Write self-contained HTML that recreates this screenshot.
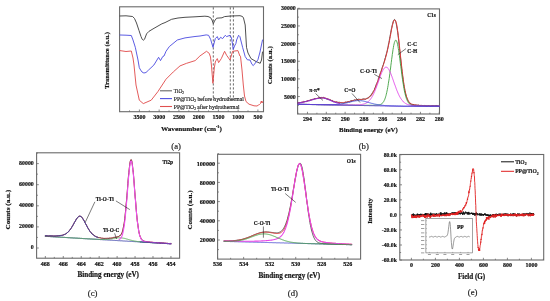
<!DOCTYPE html>
<html><head><meta charset="utf-8"><style>
html,body{margin:0;padding:0;background:#fff;}
body{width:550px;height:301px;overflow:hidden;font-family:"Liberation Serif", serif;}
svg{display:block;will-change:transform;filter:blur(0.3px);}
</style></head><body>
<svg width="550" height="301" viewBox="0 0 550 301">
<rect width="550" height="301" fill="#fff"/>
<rect x="119.60" y="6.80" width="143.90" height="104.90" fill="none" stroke="#6a6a6a" stroke-width="1.1"/>
<path d="M139.40,111.70 v-2.20 M159.15,111.70 v-2.20 M178.90,111.70 v-2.20 M198.65,111.70 v-2.20 M218.40,111.70 v-2.20 M238.15,111.70 v-2.20 M257.90,111.70 v-2.20 M129.53,111.70 v-1.30 M149.28,111.70 v-1.30 M169.03,111.70 v-1.30 M188.78,111.70 v-1.30 M208.53,111.70 v-1.30 M228.28,111.70 v-1.30 M248.03,111.70 v-1.30" stroke="#6a6a6a" stroke-width="0.8" fill="none"/>
<text x="139.40" y="119.20" font-size="6" text-anchor="middle" font-weight="bold" fill="#111" stroke="#111" stroke-width="0.18" font-family="'Liberation Serif', serif" >3500</text>
<text x="159.15" y="119.20" font-size="6" text-anchor="middle" font-weight="bold" fill="#111" stroke="#111" stroke-width="0.18" font-family="'Liberation Serif', serif" >3000</text>
<text x="178.90" y="119.20" font-size="6" text-anchor="middle" font-weight="bold" fill="#111" stroke="#111" stroke-width="0.18" font-family="'Liberation Serif', serif" >2500</text>
<text x="198.65" y="119.20" font-size="6" text-anchor="middle" font-weight="bold" fill="#111" stroke="#111" stroke-width="0.18" font-family="'Liberation Serif', serif" >2000</text>
<text x="218.40" y="119.20" font-size="6" text-anchor="middle" font-weight="bold" fill="#111" stroke="#111" stroke-width="0.18" font-family="'Liberation Serif', serif" >1500</text>
<text x="238.15" y="119.20" font-size="6" text-anchor="middle" font-weight="bold" fill="#111" stroke="#111" stroke-width="0.18" font-family="'Liberation Serif', serif" >1000</text>
<text x="257.90" y="119.20" font-size="6" text-anchor="middle" font-weight="bold" fill="#111" stroke="#111" stroke-width="0.18" font-family="'Liberation Serif', serif" >500</text>
<text x="160.90" y="130.60" font-size="7.1" text-anchor="start" font-weight="bold" fill="#111" stroke="#111" stroke-width="0.18" font-family="'Liberation Serif', serif" textLength="61.0" lengthAdjust="spacingAndGlyphs">Wavenumber (cm<tspan dy="-2.4" font-size="4.2">-1</tspan><tspan dy="2.4">)</tspan></text>
<text x="0" y="0" transform="translate(109.40,60.40) rotate(-90)" font-size="6.9" text-anchor="middle" font-weight="bold" fill="#111" stroke="#111" stroke-width="0.18" font-family="'Liberation Serif', serif" textLength="56.6" lengthAdjust="spacingAndGlyphs">Transmittance (a.u.)</text>
<line x1="213.30" y1="7.30" x2="213.30" y2="100" stroke="#444" stroke-width="0.8" stroke-dasharray="2.2,1.8"/>
<line x1="230.30" y1="7.30" x2="230.30" y2="100" stroke="#444" stroke-width="0.8" stroke-dasharray="2.2,1.8"/>
<line x1="233.40" y1="7.30" x2="233.40" y2="100" stroke="#444" stroke-width="0.8" stroke-dasharray="2.2,1.8"/>
<path d="M120.0,16.0 L126.0,15.8 L132.6,16.5 L134.5,18.5 L136.5,23.0 L139.0,30.5 L141.0,36.5 L142.2,39.3 L143.3,40.2 L144.5,39.3 L146.6,33.8 L149.0,31.3 L153.0,28.9 L157.0,26.6 L161.9,23.8 L165.0,22.6 L171.6,19.3 L178.0,18.0 L185.0,17.3 L195.0,16.8 L204.9,16.2 L208.0,16.5 L210.6,17.7 L212.0,20.0 L213.3,23.7 L214.5,21.0 L216.6,18.2 L222.0,17.8 L224.5,16.6 L230.6,16.0 L240.0,15.7 L242.5,16.5 L243.5,18.0 L245.2,25.0 L246.5,47.3 L248.0,53.0 L251.0,58.6 L256.0,61.5 L260.2,63.3 L261.5,60.0 L262.5,52.0" fill="none" stroke="#3a3a3a" stroke-width="0.9" stroke-linejoin="round" stroke-linecap="round" />
<path d="M120.0,35.0 L126.0,35.2 L131.3,35.5 L133.0,40.0 L135.3,47.3 L138.0,60.0 L139.3,67.7 L140.6,70.0 L142.0,72.0 L143.9,73.0 L146.0,72.5 L148.6,70.0 L153.9,65.0 L158.6,57.3 L160.5,60.6 L162.7,56.6 L164.0,56.0 L166.0,51.3 L169.3,46.6 L177.3,40.0 L185.0,37.9 L195.0,36.5 L200.0,36.0 L206.2,34.9 L208.6,35.3 L210.6,39.3 L213.0,47.3 L215.3,38.6 L217.3,36.6 L218.6,40.0 L220.6,37.3 L222.6,38.6 L225.3,35.3 L226.6,36.6 L230.0,35.3 L231.5,38.0 L232.5,44.0 L233.2,49.5 L234.5,46.0 L235.9,43.5 L236.6,40.0 L238.6,35.3 L239.9,36.6 L242.6,47.3 L245.2,56.6 L247.4,59.8 L250.0,60.0 L252.0,64.4 L253.3,65.6 L257.9,59.8 L260.0,52.0 L262.5,40.0" fill="none" stroke="#4a4ae0" stroke-width="0.9" stroke-linejoin="round" stroke-linecap="round" />
<path d="M120.0,50.6 L126.0,51.5 L131.3,51.0 L133.0,58.0 L134.0,65.0 L136.0,85.0 L139.3,100.2 L143.3,103.6 L151.2,100.2 L157.9,91.6 L166.0,79.2 L173.3,71.9 L180.0,65.9 L186.6,63.3 L195.2,60.6 L199.9,56.0 L206.5,51.3 L209.2,53.3 L210.5,57.0 L211.5,66.0 L212.9,83.3 L214.3,68.0 L215.3,62.0 L216.0,60.6 L217.3,58.6 L218.6,62.6 L221.3,58.6 L224.6,51.3 L226.6,55.3 L230.0,60.0 L232.6,51.3 L237.9,50.6 L239.9,56.0 L240.5,56.3 L242.0,70.0 L243.3,85.0 L244.5,96.0 L246.0,101.5 L249.0,104.2 L254.0,105.8 L257.0,106.0 L258.5,105.0 L259.5,104.5 L260.5,103.5 L261.3,101.0 L262.0,103.0 L262.8,101.5" fill="none" stroke="#e04848" stroke-width="0.9" stroke-linejoin="round" stroke-linecap="round" />
<line x1="160" y1="90.8" x2="172" y2="90.8" stroke="#666" stroke-width="1.1"/>
<line x1="160" y1="98.6" x2="172" y2="98.6" stroke="#5050e0" stroke-width="1.1"/>
<line x1="160" y1="106.5" x2="172" y2="106.5" stroke="#e05050" stroke-width="1.1"/>
<text x="173.80" y="92.70" font-size="6.1" text-anchor="start" font-weight="normal" fill="#222" stroke="#222" stroke-width="0.18" font-family="'Liberation Serif', serif" textLength="10.2" lengthAdjust="spacingAndGlyphs">TiO<tspan dy="1.5" font-size="3.9">2</tspan><tspan dy="-1.5"></tspan></text>
<text x="173.80" y="100.60" font-size="6.1" text-anchor="start" font-weight="normal" fill="#222" stroke="#222" stroke-width="0.18" font-family="'Liberation Serif', serif" textLength="70.0" lengthAdjust="spacingAndGlyphs">PP@TiO<tspan dy="1.5" font-size="3.9">2</tspan><tspan dy="-1.5"> before hydrothermal</tspan></text>
<text x="173.80" y="108.60" font-size="6.1" text-anchor="start" font-weight="normal" fill="#222" stroke="#222" stroke-width="0.18" font-family="'Liberation Serif', serif" textLength="65.7" lengthAdjust="spacingAndGlyphs">PP@TiO<tspan dy="1.5" font-size="3.9">2</tspan><tspan dy="-1.5"> after hydrothermal</tspan></text>
<text x="176.10" y="148.90" font-size="8.7" text-anchor="middle" font-weight="normal" fill="#222" stroke="#222" stroke-width="0.18" font-family="'Liberation Serif', serif" >(a)</text>
<rect x="297.60" y="8.90" width="141.90" height="105.10" fill="none" stroke="#6a6a6a" stroke-width="1.1"/>
<path d="M307.48,114.00 v-2.20 M326.31,114.00 v-2.20 M345.14,114.00 v-2.20 M363.97,114.00 v-2.20 M382.80,114.00 v-2.20 M401.62,114.00 v-2.20 M420.45,114.00 v-2.20 M439.28,114.00 v-2.20 M298.07,114.00 v-1.30 M316.90,114.00 v-1.30 M335.73,114.00 v-1.30 M354.55,114.00 v-1.30 M373.38,114.00 v-1.30 M392.21,114.00 v-1.30 M411.04,114.00 v-1.30 M429.87,114.00 v-1.30" stroke="#6a6a6a" stroke-width="0.8" fill="none"/>
<text x="307.48" y="121.10" font-size="6" text-anchor="middle" font-weight="bold" fill="#111" stroke="#111" stroke-width="0.18" font-family="'Liberation Serif', serif" >294</text>
<text x="326.31" y="121.10" font-size="6" text-anchor="middle" font-weight="bold" fill="#111" stroke="#111" stroke-width="0.18" font-family="'Liberation Serif', serif" >292</text>
<text x="345.14" y="121.10" font-size="6" text-anchor="middle" font-weight="bold" fill="#111" stroke="#111" stroke-width="0.18" font-family="'Liberation Serif', serif" >290</text>
<text x="363.97" y="121.10" font-size="6" text-anchor="middle" font-weight="bold" fill="#111" stroke="#111" stroke-width="0.18" font-family="'Liberation Serif', serif" >288</text>
<text x="382.80" y="121.10" font-size="6" text-anchor="middle" font-weight="bold" fill="#111" stroke="#111" stroke-width="0.18" font-family="'Liberation Serif', serif" >286</text>
<text x="401.62" y="121.10" font-size="6" text-anchor="middle" font-weight="bold" fill="#111" stroke="#111" stroke-width="0.18" font-family="'Liberation Serif', serif" >284</text>
<text x="420.45" y="121.10" font-size="6" text-anchor="middle" font-weight="bold" fill="#111" stroke="#111" stroke-width="0.18" font-family="'Liberation Serif', serif" >282</text>
<text x="439.28" y="121.10" font-size="6" text-anchor="middle" font-weight="bold" fill="#111" stroke="#111" stroke-width="0.18" font-family="'Liberation Serif', serif" >280</text>
<path d="M297.60,96.55 h2.20 M297.60,78.90 h2.20 M297.60,61.25 h2.20 M297.60,43.60 h2.20 M297.60,25.95 h2.20 M297.60,8.30 h2.20 M297.60,105.38 h1.30 M297.60,87.72 h1.30 M297.60,70.08 h1.30 M297.60,52.42 h1.30 M297.60,34.78 h1.30 M297.60,17.12 h1.30" stroke="#6a6a6a" stroke-width="0.8" fill="none"/>
<text x="295.80" y="98.55" font-size="5.9" text-anchor="end" font-weight="bold" fill="#111" stroke="#111" stroke-width="0.18" font-family="'Liberation Serif', serif" >5000</text>
<text x="295.80" y="80.90" font-size="5.9" text-anchor="end" font-weight="bold" fill="#111" stroke="#111" stroke-width="0.18" font-family="'Liberation Serif', serif" >10000</text>
<text x="295.80" y="63.25" font-size="5.9" text-anchor="end" font-weight="bold" fill="#111" stroke="#111" stroke-width="0.18" font-family="'Liberation Serif', serif" >15000</text>
<text x="295.80" y="45.60" font-size="5.9" text-anchor="end" font-weight="bold" fill="#111" stroke="#111" stroke-width="0.18" font-family="'Liberation Serif', serif" >20000</text>
<text x="295.80" y="27.95" font-size="5.9" text-anchor="end" font-weight="bold" fill="#111" stroke="#111" stroke-width="0.18" font-family="'Liberation Serif', serif" >25000</text>
<text x="295.80" y="10.30" font-size="5.9" text-anchor="end" font-weight="bold" fill="#111" stroke="#111" stroke-width="0.18" font-family="'Liberation Serif', serif" >30000</text>
<text x="339.10" y="132.10" font-size="7.1" text-anchor="start" font-weight="bold" fill="#111" stroke="#111" stroke-width="0.18" font-family="'Liberation Serif', serif" textLength="58.6" lengthAdjust="spacingAndGlyphs">Binding energy (eV)</text>
<text x="0" y="0" transform="translate(272.40,65.30) rotate(-90)" font-size="7.1" text-anchor="middle" font-weight="bold" fill="#111" stroke="#111" stroke-width="0.18" font-family="'Liberation Serif', serif" textLength="38.0" lengthAdjust="spacingAndGlyphs">Counts (a.u.)</text>
<text x="363.80" y="148.70" font-size="8.7" text-anchor="middle" font-weight="normal" fill="#222" stroke="#222" stroke-width="0.18" font-family="'Liberation Serif', serif" >(b)</text>
<path d="M297.8,103.1 L298.2,103.2 L298.5,102.6 L298.9,103.2 L299.2,102.6 L299.6,102.8 L299.9,103.0 L300.3,102.5 L300.6,102.9 L301.0,102.4 L301.4,102.8 L301.7,102.7 L302.1,102.3 L302.4,101.8 L302.8,102.4 L303.1,102.2 L303.5,101.7 L303.8,101.3 L304.2,101.6 L304.5,101.7 L304.9,101.0 L305.2,101.9 L305.6,101.0 L305.9,101.5 L306.3,101.6 L306.6,101.5 L307.0,101.2 L307.4,100.6 L307.7,101.2 L308.1,100.6 L308.4,100.5 L308.8,100.7 L309.1,100.4 L309.5,100.8 L309.8,100.7 L310.2,100.4 L310.5,99.8 L310.9,100.0 L311.2,100.0 L311.6,99.6 L311.9,99.7 L312.3,99.7 L312.6,99.1 L313.0,99.1 L313.4,99.5 L313.7,99.0 L314.1,99.0 L314.4,98.5 L314.8,98.6 L315.1,99.0 L315.5,98.2 L315.8,99.0 L316.2,98.6 L316.5,98.1 L316.9,98.7 L317.2,98.3 L317.6,98.7 L317.9,98.0 L318.3,97.8 L318.6,97.9 L319.0,97.6 L319.4,98.1 L319.7,97.7 L320.1,97.7 L320.4,97.7 L320.8,97.8 L321.1,97.4 L321.5,97.3 L321.8,97.8 L322.2,97.6 L322.5,98.2 L322.9,97.6 L323.2,97.6 L323.6,97.3 L323.9,97.5 L324.3,98.2 L324.7,98.1 L325.0,97.9 L325.4,98.7 L325.7,98.3 L326.1,98.7 L326.4,98.9 L326.8,99.1 L327.1,98.5 L327.5,99.3 L327.8,99.3 L328.2,99.3 L328.5,98.9 L328.9,99.9 L329.2,99.7 L329.6,99.7 L329.9,99.5 L330.3,99.7 L330.7,99.8 L331.0,100.6 L331.4,100.6 L331.7,100.8 L332.1,100.4 L332.4,100.4 L332.8,101.4 L333.1,101.5 L333.5,101.6 L333.8,101.7 L334.2,101.5 L334.5,101.5 L334.9,102.0 L335.2,102.4 L335.6,102.0 L335.9,102.2 L336.3,102.0 L336.7,101.7 L337.0,102.0 L337.4,102.3 L337.7,102.2 L338.1,102.2 L338.4,102.9 L338.8,102.1 L339.1,102.2 L339.5,102.2 L339.8,102.3 L340.2,102.7 L340.5,102.7 L340.9,103.0 L341.2,102.5 L341.6,103.1 L341.9,103.1 L342.3,102.9 L342.7,102.9 L343.0,102.7 L343.4,103.0 L343.7,103.0 L344.1,102.8 L344.4,102.8 L344.8,102.5 L345.1,102.8 L345.5,101.8 L345.8,102.0 L346.2,102.5 L346.5,102.3 L346.9,102.1 L347.2,102.0 L347.6,102.2 L348.0,101.4 L348.3,101.1 L348.7,101.6 L349.0,101.5 L349.4,101.8 L349.7,101.7 L350.1,101.4 L350.4,101.4 L350.8,100.7 L351.1,101.3 L351.5,101.4 L351.8,100.3 L352.2,100.7 L352.5,101.0 L352.9,100.5 L353.2,100.9 L353.6,100.3 L354.0,99.8 L354.3,99.8 L354.7,99.9 L355.0,100.3 L355.4,100.1 L355.7,100.3 L356.1,99.6 L356.4,99.8 L356.8,99.5 L357.1,99.9 L357.5,100.0 L357.8,99.3 L358.2,99.1 L358.5,99.2 L358.9,99.2 L359.2,99.2 L359.6,99.2 L360.0,99.7 L360.3,99.4 L360.7,99.6 L361.0,99.9 L361.4,99.9 L361.7,99.6 L362.1,99.6 L362.4,99.1 L362.8,98.8 L363.1,99.4 L363.5,98.8 L363.8,98.7 L364.2,98.7 L364.5,99.3 L364.9,99.4 L365.2,99.3 L365.6,99.3 L366.0,99.2 L366.3,98.6 L366.7,98.2 L367.0,98.1 L367.4,98.3 L367.7,97.9 L368.1,97.6 L368.4,98.1 L368.8,97.2 L369.1,96.7 L369.5,96.5 L369.8,96.2 L370.2,96.2 L370.5,96.1 L370.9,95.0 L371.2,95.0 L371.6,94.0 L372.0,93.3 L372.3,93.4 L372.7,92.8 L373.0,91.6 L373.4,91.2 L373.7,91.1 L374.1,90.4 L374.4,89.6 L374.8,88.0 L375.1,87.3 L375.5,87.1 L375.8,85.5 L376.2,84.5 L376.5,83.9 L376.9,83.3 L377.3,82.1 L377.6,81.6 L378.0,80.7 L378.3,78.7 L378.7,78.0 L379.0,77.1 L379.4,75.6 L379.7,75.1 L380.1,73.6 L380.4,72.6 L380.8,72.2 L381.1,71.1 L381.5,70.0 L381.8,69.0 L382.2,67.6 L382.5,66.9 L382.9,65.6 L383.3,64.9 L383.6,63.0 L384.0,62.4 L384.3,61.2 L384.7,59.9 L385.0,58.4 L385.4,57.7 L385.7,55.9 L386.1,55.0 L386.4,53.6 L386.8,52.2 L387.1,51.2 L387.5,49.2 L387.8,47.8 L388.2,46.3 L388.5,43.8 L388.9,42.6 L389.3,40.4 L389.6,38.3 L390.0,36.6 L390.3,34.9 L390.7,32.8 L391.0,30.9 L391.4,28.8 L391.7,27.8 L392.1,25.7 L392.4,24.6 L392.8,23.2 L393.1,21.6 L393.5,21.0 L393.8,20.3 L394.2,19.7 L394.5,19.4 L394.9,20.1 L395.3,20.5 L395.6,21.5 L396.0,22.7 L396.3,24.0 L396.7,26.1 L397.0,28.1 L397.4,30.5 L397.7,32.6 L398.1,35.7 L398.4,38.4 L398.8,41.5 L399.1,45.5 L399.5,48.4 L399.8,51.4 L400.2,54.9 L400.6,59.0 L400.9,62.3 L401.3,65.2 L401.6,68.7 L402.0,71.6 L402.3,74.7 L402.7,76.8 L403.0,79.3 L403.4,81.7 L403.7,84.8 L404.1,86.3 L404.4,88.4 L404.8,90.7 L405.1,91.6 L405.5,93.1 L405.8,95.2 L406.2,95.7 L406.6,97.4 L406.9,98.3 L407.3,98.6 L407.6,99.6 L408.0,101.0 L408.3,101.3 L408.7,101.7 L409.0,102.4 L409.4,102.9 L409.7,103.2 L410.1,103.0 L410.4,104.0 L410.8,103.7 L411.1,104.0 L411.5,104.6 L411.8,104.4 L412.2,104.3 L412.6,104.5 L412.9,105.1 L413.3,104.2 L413.6,104.5 L414.0,104.3 L414.3,105.3 L414.7,105.2 L415.0,105.5 L415.4,104.7 L415.7,105.3 L416.1,105.5 L416.4,105.2 L416.8,104.7 L417.1,104.9 L417.5,105.5 L417.8,105.6 L418.2,104.8 L418.6,105.2 L418.9,105.1 L419.3,105.8 L419.6,105.8 L420.0,105.2 L420.3,105.5 L420.7,105.9 L421.0,105.0 L421.4,105.3 L421.7,105.2 L422.1,105.9 L422.4,105.1 L422.8,106.0 L423.1,105.2 L423.5,105.6 L423.9,105.7 L424.2,105.5 L424.6,105.1 L424.9,105.9 L425.3,106.0 L425.6,105.6 L426.0,105.9 L426.3,106.1 L426.7,106.0 L427.0,106.2 L427.4,106.0 L427.7,105.9 L428.1,105.9 L428.4,105.4 L428.8,106.0 L429.1,105.7 L429.5,106.1 L429.9,105.9 L430.2,106.3 L430.6,106.0 L430.9,106.3 L431.3,105.5 L431.6,105.7 L432.0,106.1 L432.3,105.8 L432.7,105.4 L433.0,106.2 L433.4,105.5 L433.7,105.9 L434.1,105.8 L434.4,105.5 L434.8,106.0 L435.1,105.8 L435.5,105.7 L435.9,105.4 L436.2,106.0 L436.6,105.5 L436.9,105.7 L437.3,105.7 L437.6,106.0 L438.0,106.1 L438.3,106.4 L438.7,106.3 L439.0,106.4" fill="none" stroke="#333" stroke-width="0.8" stroke-linejoin="round" stroke-linecap="round" />
<path d="M298.1,102.9 L298.4,102.8 L298.8,102.8 L299.1,102.7 L299.5,102.7 L299.8,102.6 L300.2,102.6 L300.5,102.5 L300.9,102.4 L301.2,102.4 L301.6,102.3 L302.0,102.2 L302.3,102.2 L302.7,102.1 L303.0,102.0 L303.4,102.0 L303.7,101.9 L304.1,101.8 L304.4,101.7 L304.8,101.6 L305.1,101.6 L305.5,101.5 L305.8,101.4 L306.2,101.3 L306.5,101.2 L306.9,101.1 L307.2,101.0 L307.6,100.9 L308.0,100.8 L308.3,100.7 L308.7,100.6 L309.0,100.5 L309.4,100.4 L309.7,100.3 L310.1,100.2 L310.4,100.1 L310.8,100.0 L311.1,99.9 L311.5,99.8 L311.8,99.7 L312.2,99.6 L312.5,99.5 L312.9,99.4 L313.3,99.3 L313.6,99.2 L314.0,99.1 L314.3,99.0 L314.7,98.9 L315.0,98.8 L315.4,98.7 L315.7,98.7 L316.1,98.6 L316.4,98.5 L316.8,98.4 L317.1,98.3 L317.5,98.3 L317.8,98.2 L318.2,98.1 L318.5,98.1 L318.9,98.0 L319.3,98.0 L319.6,97.9 L320.0,97.9 L320.3,97.8 L320.7,97.8 L321.0,97.8 L321.4,97.8 L321.7,97.8 L322.1,97.8 L322.4,97.7 L322.8,97.8 L323.1,97.8 L323.5,97.8 L323.8,97.8 L324.2,97.9 L324.5,97.9 L324.9,98.0 L325.3,98.1 L325.6,98.2 L326.0,98.3 L326.3,98.4 L326.7,98.5 L327.0,98.6 L327.4,98.8 L327.7,98.9 L328.1,99.0 L328.4,99.2 L328.8,99.3 L329.1,99.5 L329.5,99.6 L329.8,99.8 L330.2,99.9 L330.5,100.0 L330.9,100.2 L331.3,100.3 L331.6,100.5 L332.0,100.6 L332.3,100.8 L332.7,100.9 L333.0,101.0 L333.4,101.2 L333.7,101.3 L334.1,101.4 L334.4,101.5 L334.8,101.6 L335.1,101.7 L335.5,101.8 L335.8,101.9 L336.2,102.0 L336.6,102.1 L336.9,102.2 L337.3,102.2 L337.6,102.3 L338.0,102.4 L338.3,102.4 L338.7,102.5 L339.0,102.5 L339.4,102.5 L339.7,102.6 L340.1,102.6 L340.4,102.6 L340.8,102.6 L341.1,102.6 L341.5,102.6 L341.8,102.6 L342.2,102.6 L342.6,102.6 L342.9,102.6 L343.3,102.5 L343.6,102.5 L344.0,102.5 L344.3,102.4 L344.7,102.4 L345.0,102.3 L345.4,102.3 L345.7,102.2 L346.1,102.2 L346.4,102.1 L346.8,102.0 L347.1,102.0 L347.5,101.9 L347.8,101.8 L348.2,101.7 L348.6,101.6 L348.9,101.6 L349.3,101.5 L349.6,101.4 L350.0,101.3 L350.3,101.2 L350.7,101.1 L351.0,101.0 L351.4,101.0 L351.7,100.9 L352.1,100.8 L352.4,100.7 L352.8,100.6 L353.1,100.5 L353.5,100.4 L353.8,100.4 L354.2,100.3 L354.6,100.2 L354.9,100.1 L355.3,100.1 L355.6,100.0 L356.0,99.9 L356.3,99.9 L356.7,99.8 L357.0,99.8 L357.4,99.7 L357.7,99.7 L358.1,99.6 L358.4,99.6 L358.8,99.6 L359.1,99.5 L359.5,99.5 L359.9,99.5 L360.2,99.5 L360.6,99.4 L360.9,99.4 L361.3,99.4 L361.6,99.4 L362.0,99.4 L362.3,99.4 L362.7,99.3 L363.0,99.3 L363.4,99.3 L363.7,99.3 L364.1,99.2 L364.4,99.2 L364.8,99.1 L365.1,99.1 L365.5,99.0 L365.9,98.9 L366.2,98.8 L366.6,98.7 L366.9,98.6 L367.3,98.5 L367.6,98.3 L368.0,98.1 L368.3,97.9 L368.7,97.7 L369.0,97.4 L369.4,97.1 L369.7,96.8 L370.1,96.5 L370.4,96.1 L370.8,95.7 L371.1,95.3 L371.5,94.9 L371.9,94.4 L372.2,93.8 L372.6,93.3 L372.9,92.7 L373.3,92.1 L373.6,91.4 L374.0,90.7 L374.3,90.0 L374.7,89.2 L375.0,88.4 L375.4,87.6 L375.7,86.8 L376.1,85.9 L376.4,85.0 L376.8,84.1 L377.1,83.1 L377.5,82.1 L377.9,81.2 L378.2,80.2 L378.6,79.2 L378.9,78.1 L379.3,77.1 L379.6,76.1 L380.0,75.0 L380.3,74.0 L380.7,72.9 L381.0,71.9 L381.4,70.8 L381.7,69.8 L382.1,68.7 L382.4,67.7 L382.8,66.6 L383.1,65.6 L383.5,64.5 L383.9,63.4 L384.2,62.3 L384.6,61.2 L384.9,60.0 L385.3,58.8 L385.6,57.6 L386.0,56.3 L386.3,55.0 L386.7,53.6 L387.0,52.2 L387.4,50.7 L387.7,49.1 L388.1,47.5 L388.4,45.8 L388.8,44.1 L389.2,42.3 L389.5,40.4 L389.9,38.5 L390.2,36.6 L390.6,34.7 L390.9,32.8 L391.3,30.9 L391.6,29.1 L392.0,27.4 L392.3,25.8 L392.7,24.3 L393.0,23.0 L393.4,21.9 L393.7,21.0 L394.1,20.3 L394.4,20.0 L394.8,19.9 L395.2,20.1 L395.5,20.6 L395.9,21.5 L396.2,22.7 L396.6,24.2 L396.9,26.0 L397.3,28.1 L397.6,30.5 L398.0,33.1 L398.3,35.9 L398.7,38.8 L399.0,42.0 L399.4,45.2 L399.7,48.5 L400.1,51.9 L400.4,55.2 L400.8,58.6 L401.2,61.9 L401.5,65.1 L401.9,68.3 L402.2,71.3 L402.6,74.2 L402.9,77.0 L403.3,79.6 L403.6,82.1 L404.0,84.4 L404.3,86.6 L404.7,88.5 L405.0,90.4 L405.4,92.0 L405.7,93.6 L406.1,94.9 L406.4,96.2 L406.8,97.3 L407.2,98.3 L407.5,99.2 L407.9,99.9 L408.2,100.6 L408.6,101.2 L408.9,101.8 L409.3,102.2 L409.6,102.6 L410.0,103.0 L410.3,103.3 L410.7,103.5 L411.0,103.8 L411.4,103.9 L411.7,104.1 L412.1,104.3 L412.5,104.4 L412.8,104.5 L413.2,104.6 L413.5,104.7 L413.9,104.8 L414.2,104.8 L414.6,104.9 L414.9,104.9 L415.3,105.0 L415.6,105.0 L416.0,105.1 L416.3,105.1 L416.7,105.2 L417.0,105.2 L417.4,105.2 L417.7,105.2 L418.1,105.3 L418.5,105.3 L418.8,105.3 L419.2,105.3 L419.5,105.4 L419.9,105.4 L420.2,105.4 L420.6,105.4 L420.9,105.4 L421.3,105.5 L421.6,105.5 L422.0,105.5 L422.3,105.5 L422.7,105.5 L423.0,105.5 L423.4,105.5 L423.7,105.6 L424.1,105.6 L424.5,105.6 L424.8,105.6 L425.2,105.6 L425.5,105.6 L425.9,105.6 L426.2,105.6 L426.6,105.7 L426.9,105.7 L427.3,105.7 L427.6,105.7 L428.0,105.7 L428.3,105.7 L428.7,105.7 L429.0,105.7 L429.4,105.7 L429.7,105.7 L430.1,105.8 L430.5,105.8 L430.8,105.8 L431.2,105.8 L431.5,105.8 L431.9,105.8 L432.2,105.8 L432.6,105.8 L432.9,105.8 L433.3,105.8 L433.6,105.8 L434.0,105.8 L434.3,105.8 L434.7,105.8 L435.0,105.9 L435.4,105.9 L435.8,105.9 L436.1,105.9 L436.5,105.9 L436.8,105.9 L437.2,105.9 L437.5,105.9 L437.9,105.9 L438.2,105.9 L438.6,105.9 L438.9,105.9 L439.3,105.9" fill="none" stroke="#e03838" stroke-width="1.0" stroke-linejoin="round" stroke-linecap="round" />
<path d="M298.1,104.3 L298.4,104.3 L298.8,104.3 L299.1,104.3 L299.5,104.3 L299.8,104.3 L300.2,104.3 L300.5,104.3 L300.9,104.3 L301.2,104.4 L301.6,104.4 L302.0,104.4 L302.3,104.4 L302.7,104.4 L303.0,104.4 L303.4,104.4 L303.7,104.4 L304.1,104.4 L304.4,104.4 L304.8,104.4 L305.1,104.4 L305.5,104.4 L305.8,104.4 L306.2,104.4 L306.5,104.4 L306.9,104.5 L307.2,104.5 L307.6,104.5 L308.0,104.5 L308.3,104.5 L308.7,104.5 L309.0,104.5 L309.4,104.5 L309.7,104.5 L310.1,104.5 L310.4,104.5 L310.8,104.5 L311.1,104.5 L311.5,104.5 L311.8,104.5 L312.2,104.5 L312.5,104.6 L312.9,104.6 L313.3,104.6 L313.6,104.6 L314.0,104.6 L314.3,104.6 L314.7,104.6 L315.0,104.6 L315.4,104.6 L315.7,104.6 L316.1,104.6 L316.4,104.6 L316.8,104.6 L317.1,104.6 L317.5,104.6 L317.8,104.6 L318.2,104.7 L318.5,104.7 L318.9,104.7 L319.3,104.7 L319.6,104.7 L320.0,104.7 L320.3,104.7 L320.7,104.7 L321.0,104.7 L321.4,104.7 L321.7,104.7 L322.1,104.7 L322.4,104.7 L322.8,104.7 L323.1,104.7 L323.5,104.7 L323.8,104.8 L324.2,104.8 L324.5,104.8 L324.9,104.8 L325.3,104.8 L325.6,104.8 L326.0,104.8 L326.3,104.8 L326.7,104.8 L327.0,104.8 L327.4,104.8 L327.7,104.8 L328.1,104.8 L328.4,104.8 L328.8,104.8 L329.1,104.8 L329.5,104.9 L329.8,104.9 L330.2,104.9 L330.5,104.9 L330.9,104.9 L331.3,104.9 L331.6,104.9 L332.0,104.9 L332.3,104.9 L332.7,104.9 L333.0,104.9 L333.4,104.9 L333.7,104.9 L334.1,104.9 L334.4,104.9 L334.8,104.9 L335.1,104.9 L335.5,105.0 L335.8,105.0 L336.2,105.0 L336.6,105.0 L336.9,105.0 L337.3,105.0 L337.6,105.0 L338.0,105.0 L338.3,105.0 L338.7,105.0 L339.0,105.0 L339.4,105.0 L339.7,105.0 L340.1,105.0 L340.4,105.0 L340.8,105.0 L341.1,105.0 L341.5,105.1 L341.8,105.1 L342.2,105.1 L342.6,105.1 L342.9,105.1 L343.3,105.1 L343.6,105.1 L344.0,105.1 L344.3,105.1 L344.7,105.1 L345.0,105.1 L345.4,105.1 L345.7,105.1 L346.1,105.1 L346.4,105.1 L346.8,105.1 L347.1,105.1 L347.5,105.1 L347.8,105.2 L348.2,105.2 L348.6,105.2 L348.9,105.2 L349.3,105.2 L349.6,105.2 L350.0,105.2 L350.3,105.2 L350.7,105.2 L351.0,105.2 L351.4,105.2 L351.7,105.2 L352.1,105.2 L352.4,105.2 L352.8,105.2 L353.1,105.2 L353.5,105.2 L353.8,105.2 L354.2,105.2 L354.6,105.2 L354.9,105.2 L355.3,105.3 L355.6,105.3 L356.0,105.3 L356.3,105.3 L356.7,105.3 L357.0,105.3 L357.4,105.3 L357.7,105.3 L358.1,105.3 L358.4,105.3 L358.8,105.3 L359.1,105.3 L359.5,105.3 L359.9,105.3 L360.2,105.3 L360.6,105.3 L360.9,105.3 L361.3,105.3 L361.6,105.3 L362.0,105.3 L362.3,105.3 L362.7,105.3 L363.0,105.3 L363.4,105.3 L363.7,105.3 L364.1,105.3 L364.4,105.3 L364.8,105.3 L365.1,105.3 L365.5,105.3 L365.9,105.3 L366.2,105.3 L366.6,105.3 L366.9,105.3 L367.3,105.3 L367.6,105.3 L368.0,105.3 L368.3,105.3 L368.7,105.3 L369.0,105.3 L369.4,105.3 L369.7,105.3 L370.1,105.3 L370.4,105.3 L370.8,105.3 L371.1,105.3 L371.5,105.3 L371.9,105.3 L372.2,105.3 L372.6,105.3 L372.9,105.3 L373.3,105.3 L373.6,105.3 L374.0,105.3 L374.3,105.3 L374.7,105.3 L375.0,105.3 L375.4,105.2 L375.7,105.2 L376.1,105.2 L376.4,105.2 L376.8,105.2 L377.1,105.1 L377.5,105.1 L377.9,105.1 L378.2,105.0 L378.6,105.0 L378.9,104.9 L379.3,104.8 L379.6,104.8 L380.0,104.7 L380.3,104.5 L380.7,104.4 L381.0,104.2 L381.4,104.0 L381.7,103.8 L382.1,103.5 L382.4,103.1 L382.8,102.8 L383.1,102.3 L383.5,101.8 L383.9,101.2 L384.2,100.5 L384.6,99.8 L384.9,98.9 L385.3,97.9 L385.6,96.8 L386.0,95.6 L386.3,94.2 L386.7,92.7 L387.0,91.1 L387.4,89.4 L387.7,87.5 L388.1,85.4 L388.4,83.2 L388.8,80.9 L389.2,78.5 L389.5,76.0 L389.9,73.4 L390.2,70.7 L390.6,68.0 L390.9,65.2 L391.3,62.4 L391.6,59.7 L392.0,57.0 L392.3,54.4 L392.7,52.0 L393.0,49.6 L393.4,47.5 L393.7,45.6 L394.1,43.9 L394.4,42.5 L394.8,41.5 L395.2,40.7 L395.5,40.2 L395.9,40.1 L396.2,40.4 L396.6,41.0 L396.9,41.9 L397.3,43.1 L397.6,44.6 L398.0,46.4 L398.3,48.4 L398.7,50.7 L399.0,53.1 L399.4,55.6 L399.7,58.2 L400.1,61.0 L400.4,63.7 L400.8,66.5 L401.2,69.3 L401.5,72.0 L401.9,74.7 L402.2,77.3 L402.6,79.7 L402.9,82.1 L403.3,84.4 L403.6,86.5 L404.0,88.5 L404.3,90.4 L404.7,92.1 L405.0,93.6 L405.4,95.1 L405.7,96.4 L406.1,97.6 L406.4,98.6 L406.8,99.6 L407.2,100.4 L407.5,101.1 L407.9,101.8 L408.2,102.4 L408.6,102.8 L408.9,103.3 L409.3,103.6 L409.6,104.0 L410.0,104.2 L410.3,104.5 L410.7,104.7 L411.0,104.8 L411.4,105.0 L411.7,105.1 L412.1,105.2 L412.5,105.3 L412.8,105.4 L413.2,105.4 L413.5,105.5 L413.9,105.5 L414.2,105.6 L414.6,105.6 L414.9,105.6 L415.3,105.7 L415.6,105.7 L416.0,105.7 L416.3,105.7 L416.7,105.8 L417.0,105.8 L417.4,105.8 L417.7,105.8 L418.1,105.8 L418.5,105.8 L418.8,105.9 L419.2,105.9 L419.5,105.9 L419.9,105.9 L420.2,105.9 L420.6,105.9 L420.9,105.9 L421.3,105.9 L421.6,105.9 L422.0,105.9 L422.3,105.9 L422.7,106.0 L423.0,106.0 L423.4,106.0 L423.7,106.0 L424.1,106.0 L424.5,106.0 L424.8,106.0 L425.2,106.0 L425.5,106.0 L425.9,106.0 L426.2,106.0 L426.6,106.0 L426.9,106.0 L427.3,106.0 L427.6,106.0 L428.0,106.0 L428.3,106.0 L428.7,106.1 L429.0,106.1 L429.4,106.1 L429.7,106.1 L430.1,106.1 L430.5,106.1 L430.8,106.1 L431.2,106.1 L431.5,106.1 L431.9,106.1 L432.2,106.1 L432.6,106.1 L432.9,106.1 L433.3,106.1 L433.6,106.1 L434.0,106.1 L434.3,106.1 L434.7,106.1 L435.0,106.1 L435.4,106.1 L435.8,106.1 L436.1,106.1 L436.5,106.1 L436.8,106.1 L437.2,106.1 L437.5,106.1 L437.9,106.1 L438.2,106.1 L438.6,106.1 L438.9,106.1 L439.3,106.1" fill="none" stroke="#40a040" stroke-width="0.9" stroke-linejoin="round" stroke-linecap="round" />
<path d="M298.1,104.3 L298.4,104.3 L298.8,104.3 L299.1,104.3 L299.5,104.3 L299.8,104.3 L300.2,104.3 L300.5,104.3 L300.9,104.3 L301.2,104.3 L301.6,104.3 L302.0,104.3 L302.3,104.3 L302.7,104.3 L303.0,104.3 L303.4,104.3 L303.7,104.3 L304.1,104.4 L304.4,104.4 L304.8,104.4 L305.1,104.4 L305.5,104.4 L305.8,104.4 L306.2,104.4 L306.5,104.4 L306.9,104.4 L307.2,104.4 L307.6,104.4 L308.0,104.4 L308.3,104.4 L308.7,104.4 L309.0,104.4 L309.4,104.4 L309.7,104.4 L310.1,104.5 L310.4,104.5 L310.8,104.5 L311.1,104.5 L311.5,104.5 L311.8,104.5 L312.2,104.5 L312.5,104.5 L312.9,104.5 L313.3,104.5 L313.6,104.5 L314.0,104.5 L314.3,104.5 L314.7,104.5 L315.0,104.5 L315.4,104.5 L315.7,104.5 L316.1,104.6 L316.4,104.6 L316.8,104.6 L317.1,104.6 L317.5,104.6 L317.8,104.6 L318.2,104.6 L318.5,104.6 L318.9,104.6 L319.3,104.6 L319.6,104.6 L320.0,104.6 L320.3,104.6 L320.7,104.6 L321.0,104.6 L321.4,104.6 L321.7,104.6 L322.1,104.6 L322.4,104.6 L322.8,104.7 L323.1,104.7 L323.5,104.7 L323.8,104.7 L324.2,104.7 L324.5,104.7 L324.9,104.7 L325.3,104.7 L325.6,104.7 L326.0,104.7 L326.3,104.7 L326.7,104.7 L327.0,104.7 L327.4,104.7 L327.7,104.7 L328.1,104.7 L328.4,104.7 L328.8,104.7 L329.1,104.7 L329.5,104.7 L329.8,104.8 L330.2,104.8 L330.5,104.8 L330.9,104.8 L331.3,104.8 L331.6,104.8 L332.0,104.8 L332.3,104.8 L332.7,104.8 L333.0,104.8 L333.4,104.8 L333.7,104.8 L334.1,104.8 L334.4,104.8 L334.8,104.8 L335.1,104.8 L335.5,104.8 L335.8,104.8 L336.2,104.8 L336.6,104.8 L336.9,104.8 L337.3,104.8 L337.6,104.8 L338.0,104.8 L338.3,104.9 L338.7,104.9 L339.0,104.9 L339.4,104.9 L339.7,104.9 L340.1,104.9 L340.4,104.9 L340.8,104.9 L341.1,104.9 L341.5,104.9 L341.8,104.9 L342.2,104.9 L342.6,104.9 L342.9,104.9 L343.3,104.9 L343.6,104.9 L344.0,104.9 L344.3,104.9 L344.7,104.9 L345.0,104.9 L345.4,104.9 L345.7,104.9 L346.1,104.9 L346.4,104.9 L346.8,104.9 L347.1,104.9 L347.5,104.9 L347.8,104.9 L348.2,104.9 L348.6,104.9 L348.9,104.9 L349.3,104.9 L349.6,104.9 L350.0,104.9 L350.3,104.9 L350.7,104.9 L351.0,104.9 L351.4,104.9 L351.7,104.9 L352.1,104.9 L352.4,104.9 L352.8,104.9 L353.1,104.9 L353.5,104.9 L353.8,104.9 L354.2,104.9 L354.6,104.9 L354.9,104.9 L355.3,104.9 L355.6,104.9 L356.0,104.9 L356.3,104.8 L356.7,104.8 L357.0,104.8 L357.4,104.8 L357.7,104.8 L358.1,104.8 L358.4,104.8 L358.8,104.7 L359.1,104.7 L359.5,104.7 L359.9,104.7 L360.2,104.6 L360.6,104.6 L360.9,104.5 L361.3,104.5 L361.6,104.5 L362.0,104.4 L362.3,104.3 L362.7,104.3 L363.0,104.2 L363.4,104.1 L363.7,104.0 L364.1,103.9 L364.4,103.8 L364.8,103.7 L365.1,103.5 L365.5,103.4 L365.9,103.2 L366.2,103.0 L366.6,102.8 L366.9,102.6 L367.3,102.4 L367.6,102.1 L368.0,101.9 L368.3,101.6 L368.7,101.2 L369.0,100.9 L369.4,100.5 L369.7,100.1 L370.1,99.7 L370.4,99.3 L370.8,98.8 L371.1,98.3 L371.5,97.7 L371.9,97.2 L372.2,96.6 L372.6,95.9 L372.9,95.3 L373.3,94.6 L373.6,93.8 L374.0,93.1 L374.3,92.3 L374.7,91.5 L375.0,90.6 L375.4,89.8 L375.7,88.9 L376.1,88.0 L376.4,87.0 L376.8,86.1 L377.1,85.1 L377.5,84.1 L377.9,83.1 L378.2,82.1 L378.6,81.1 L378.9,80.1 L379.3,79.1 L379.6,78.1 L380.0,77.1 L380.3,76.2 L380.7,75.2 L381.0,74.3 L381.4,73.5 L381.7,72.6 L382.1,71.8 L382.4,71.1 L382.8,70.4 L383.1,69.8 L383.5,69.2 L383.9,68.7 L384.2,68.2 L384.6,67.9 L384.9,67.6 L385.3,67.3 L385.6,67.2 L386.0,67.1 L386.3,67.2 L386.7,67.3 L387.0,67.4 L387.4,67.7 L387.7,68.0 L388.1,68.4 L388.4,68.9 L388.8,69.5 L389.2,70.1 L389.5,70.8 L389.9,71.5 L390.2,72.3 L390.6,73.1 L390.9,73.9 L391.3,74.8 L391.6,75.8 L392.0,76.7 L392.3,77.7 L392.7,78.7 L393.0,79.7 L393.4,80.7 L393.7,81.7 L394.1,82.7 L394.4,83.7 L394.8,84.8 L395.2,85.7 L395.5,86.7 L395.9,87.7 L396.2,88.6 L396.6,89.6 L396.9,90.5 L397.3,91.3 L397.6,92.2 L398.0,93.0 L398.3,93.8 L398.7,94.6 L399.0,95.3 L399.4,96.0 L399.7,96.7 L400.1,97.3 L400.4,97.9 L400.8,98.5 L401.2,99.0 L401.5,99.5 L401.9,100.0 L402.2,100.5 L402.6,100.9 L402.9,101.3 L403.3,101.6 L403.6,102.0 L404.0,102.3 L404.3,102.6 L404.7,102.9 L405.0,103.1 L405.4,103.3 L405.7,103.6 L406.1,103.8 L406.4,103.9 L406.8,104.1 L407.2,104.3 L407.5,104.4 L407.9,104.5 L408.2,104.6 L408.6,104.8 L408.9,104.9 L409.3,104.9 L409.6,105.0 L410.0,105.1 L410.3,105.2 L410.7,105.2 L411.0,105.3 L411.4,105.3 L411.7,105.4 L412.1,105.4 L412.5,105.5 L412.8,105.5 L413.2,105.5 L413.5,105.6 L413.9,105.6 L414.2,105.6 L414.6,105.6 L414.9,105.6 L415.3,105.7 L415.6,105.7 L416.0,105.7 L416.3,105.7 L416.7,105.7 L417.0,105.7 L417.4,105.8 L417.7,105.8 L418.1,105.8 L418.5,105.8 L418.8,105.8 L419.2,105.8 L419.5,105.8 L419.9,105.8 L420.2,105.8 L420.6,105.9 L420.9,105.9 L421.3,105.9 L421.6,105.9 L422.0,105.9 L422.3,105.9 L422.7,105.9 L423.0,105.9 L423.4,105.9 L423.7,105.9 L424.1,105.9 L424.5,105.9 L424.8,105.9 L425.2,105.9 L425.5,105.9 L425.9,105.9 L426.2,106.0 L426.6,106.0 L426.9,106.0 L427.3,106.0 L427.6,106.0 L428.0,106.0 L428.3,106.0 L428.7,106.0 L429.0,106.0 L429.4,106.0 L429.7,106.0 L430.1,106.0 L430.5,106.0 L430.8,106.0 L431.2,106.0 L431.5,106.0 L431.9,106.0 L432.2,106.0 L432.6,106.0 L432.9,106.0 L433.3,106.0 L433.6,106.0 L434.0,106.0 L434.3,106.0 L434.7,106.0 L435.0,106.0 L435.4,106.1 L435.8,106.1 L436.1,106.1 L436.5,106.1 L436.8,106.1 L437.2,106.1 L437.5,106.1 L437.9,106.1 L438.2,106.1 L438.6,106.1 L438.9,106.1 L439.3,106.1" fill="none" stroke="#e040e8" stroke-width="0.9" stroke-linejoin="round" stroke-linecap="round" />
<path d="M298.1,104.3 L298.4,104.3 L298.8,104.3 L299.1,104.3 L299.5,104.3 L299.8,104.3 L300.2,104.3 L300.5,104.3 L300.9,104.3 L301.2,104.3 L301.6,104.3 L302.0,104.3 L302.3,104.3 L302.7,104.3 L303.0,104.3 L303.4,104.3 L303.7,104.4 L304.1,104.4 L304.4,104.4 L304.8,104.4 L305.1,104.4 L305.5,104.4 L305.8,104.4 L306.2,104.4 L306.5,104.4 L306.9,104.4 L307.2,104.4 L307.6,104.4 L308.0,104.4 L308.3,104.4 L308.7,104.4 L309.0,104.4 L309.4,104.4 L309.7,104.5 L310.1,104.5 L310.4,104.5 L310.8,104.5 L311.1,104.5 L311.5,104.5 L311.8,104.5 L312.2,104.5 L312.5,104.5 L312.9,104.5 L313.3,104.5 L313.6,104.5 L314.0,104.5 L314.3,104.5 L314.7,104.5 L315.0,104.5 L315.4,104.5 L315.7,104.5 L316.1,104.5 L316.4,104.5 L316.8,104.6 L317.1,104.6 L317.5,104.6 L317.8,104.6 L318.2,104.6 L318.5,104.6 L318.9,104.6 L319.3,104.6 L319.6,104.6 L320.0,104.6 L320.3,104.6 L320.7,104.6 L321.0,104.6 L321.4,104.6 L321.7,104.6 L322.1,104.6 L322.4,104.6 L322.8,104.6 L323.1,104.6 L323.5,104.6 L323.8,104.6 L324.2,104.6 L324.5,104.6 L324.9,104.6 L325.3,104.6 L325.6,104.6 L326.0,104.6 L326.3,104.6 L326.7,104.6 L327.0,104.6 L327.4,104.6 L327.7,104.6 L328.1,104.6 L328.4,104.6 L328.8,104.6 L329.1,104.6 L329.5,104.6 L329.8,104.6 L330.2,104.6 L330.5,104.6 L330.9,104.6 L331.3,104.6 L331.6,104.6 L332.0,104.6 L332.3,104.6 L332.7,104.6 L333.0,104.6 L333.4,104.6 L333.7,104.5 L334.1,104.5 L334.4,104.5 L334.8,104.5 L335.1,104.5 L335.5,104.5 L335.8,104.4 L336.2,104.4 L336.6,104.4 L336.9,104.4 L337.3,104.3 L337.6,104.3 L338.0,104.3 L338.3,104.3 L338.7,104.2 L339.0,104.2 L339.4,104.1 L339.7,104.1 L340.1,104.1 L340.4,104.0 L340.8,104.0 L341.1,103.9 L341.5,103.9 L341.8,103.8 L342.2,103.8 L342.6,103.7 L342.9,103.6 L343.3,103.6 L343.6,103.5 L344.0,103.5 L344.3,103.4 L344.7,103.3 L345.0,103.2 L345.4,103.2 L345.7,103.1 L346.1,103.0 L346.4,102.9 L346.8,102.9 L347.1,102.8 L347.5,102.7 L347.8,102.6 L348.2,102.5 L348.6,102.4 L348.9,102.3 L349.3,102.3 L349.6,102.2 L350.0,102.1 L350.3,102.0 L350.7,101.9 L351.0,101.8 L351.4,101.7 L351.7,101.6 L352.1,101.6 L352.4,101.5 L352.8,101.4 L353.1,101.3 L353.5,101.2 L353.8,101.2 L354.2,101.1 L354.6,101.0 L354.9,101.0 L355.3,100.9 L355.6,100.8 L356.0,100.8 L356.3,100.8 L356.7,100.7 L357.0,100.7 L357.4,100.6 L357.7,100.6 L358.1,100.6 L358.4,100.6 L358.8,100.6 L359.1,100.6 L359.5,100.6 L359.9,100.6 L360.2,100.6 L360.6,100.7 L360.9,100.7 L361.3,100.7 L361.6,100.8 L362.0,100.8 L362.3,100.9 L362.7,100.9 L363.0,101.0 L363.4,101.1 L363.7,101.1 L364.1,101.2 L364.4,101.3 L364.8,101.4 L365.1,101.5 L365.5,101.6 L365.9,101.7 L366.2,101.8 L366.6,101.9 L366.9,102.0 L367.3,102.1 L367.6,102.2 L368.0,102.3 L368.3,102.4 L368.7,102.5 L369.0,102.6 L369.4,102.7 L369.7,102.8 L370.1,102.9 L370.4,103.0 L370.8,103.1 L371.1,103.2 L371.5,103.3 L371.9,103.4 L372.2,103.4 L372.6,103.5 L372.9,103.6 L373.3,103.7 L373.6,103.8 L374.0,103.9 L374.3,104.0 L374.7,104.1 L375.0,104.1 L375.4,104.2 L375.7,104.3 L376.1,104.4 L376.4,104.4 L376.8,104.5 L377.1,104.6 L377.5,104.6 L377.9,104.7 L378.2,104.7 L378.6,104.8 L378.9,104.9 L379.3,104.9 L379.6,105.0 L380.0,105.0 L380.3,105.1 L380.7,105.1 L381.0,105.1 L381.4,105.2 L381.7,105.2 L382.1,105.3 L382.4,105.3 L382.8,105.3 L383.1,105.4 L383.5,105.4 L383.9,105.4 L384.2,105.5 L384.6,105.5 L384.9,105.5 L385.3,105.5 L385.6,105.6 L386.0,105.6 L386.3,105.6 L386.7,105.6 L387.0,105.7 L387.4,105.7 L387.7,105.7 L388.1,105.7 L388.4,105.7 L388.8,105.7 L389.2,105.8 L389.5,105.8 L389.9,105.8 L390.2,105.8 L390.6,105.8 L390.9,105.8 L391.3,105.8 L391.6,105.9 L392.0,105.9 L392.3,105.9 L392.7,105.9 L393.0,105.9 L393.4,105.9 L393.7,105.9 L394.1,105.9 L394.4,106.0 L394.8,106.0 L395.2,106.0 L395.5,106.0 L395.9,106.0 L396.2,106.0 L396.6,106.0 L396.9,106.0 L397.3,106.0 L397.6,106.0 L398.0,106.1 L398.3,106.1 L398.7,106.1 L399.0,106.1 L399.4,106.1 L399.7,106.1 L400.1,106.1 L400.4,106.1 L400.8,106.1 L401.2,106.1 L401.5,106.1 L401.9,106.1 L402.2,106.1 L402.6,106.1 L402.9,106.2 L403.3,106.2 L403.6,106.2 L404.0,106.2 L404.3,106.2 L404.7,106.2 L405.0,106.2 L405.4,106.2 L405.7,106.2 L406.1,106.2 L406.4,106.2 L406.8,106.2 L407.2,106.2 L407.5,106.2 L407.9,106.2 L408.2,106.2 L408.6,106.2 L408.9,106.2 L409.3,106.2 L409.6,106.2 L410.0,106.2 L410.3,106.2 L410.7,106.2 L411.0,106.2 L411.4,106.2 L411.7,106.2 L412.1,106.2 L412.5,106.2 L412.8,106.2 L413.2,106.2 L413.5,106.2 L413.9,106.2 L414.2,106.2 L414.6,106.2 L414.9,106.2 L415.3,106.2 L415.6,106.2 L416.0,106.2 L416.3,106.2 L416.7,106.2 L417.0,106.2 L417.4,106.2 L417.7,106.2 L418.1,106.2 L418.5,106.2 L418.8,106.2 L419.2,106.2 L419.5,106.2 L419.9,106.2 L420.2,106.2 L420.6,106.2 L420.9,106.2 L421.3,106.2 L421.6,106.2 L422.0,106.2 L422.3,106.2 L422.7,106.2 L423.0,106.2 L423.4,106.2 L423.7,106.2 L424.1,106.2 L424.5,106.2 L424.8,106.2 L425.2,106.2 L425.5,106.2 L425.9,106.2 L426.2,106.2 L426.6,106.2 L426.9,106.2 L427.3,106.2 L427.6,106.2 L428.0,106.2 L428.3,106.2 L428.7,106.2 L429.0,106.2 L429.4,106.2 L429.7,106.2 L430.1,106.2 L430.5,106.2 L430.8,106.2 L431.2,106.2 L431.5,106.2 L431.9,106.2 L432.2,106.2 L432.6,106.2 L432.9,106.2 L433.3,106.2 L433.6,106.2 L434.0,106.2 L434.3,106.2 L434.7,106.2 L435.0,106.2 L435.4,106.2 L435.8,106.2 L436.1,106.2 L436.5,106.2 L436.8,106.2 L437.2,106.2 L437.5,106.2 L437.9,106.2 L438.2,106.2 L438.6,106.2 L438.9,106.2 L439.3,106.2" fill="none" stroke="#3848d8" stroke-width="0.9" stroke-linejoin="round" stroke-linecap="round" />
<path d="M298.1,103.0 L298.4,102.9 L298.8,102.9 L299.1,102.8 L299.5,102.8 L299.8,102.7 L300.2,102.7 L300.5,102.6 L300.9,102.6 L301.2,102.5 L301.6,102.4 L302.0,102.4 L302.3,102.3 L302.7,102.2 L303.0,102.2 L303.4,102.1 L303.7,102.0 L304.1,101.9 L304.4,101.9 L304.8,101.8 L305.1,101.7 L305.5,101.6 L305.8,101.5 L306.2,101.4 L306.5,101.3 L306.9,101.3 L307.2,101.2 L307.6,101.1 L308.0,101.0 L308.3,100.9 L308.7,100.8 L309.0,100.7 L309.4,100.6 L309.7,100.5 L310.1,100.4 L310.4,100.3 L310.8,100.2 L311.1,100.1 L311.5,100.0 L311.8,99.9 L312.2,99.8 L312.5,99.7 L312.9,99.6 L313.3,99.5 L313.6,99.4 L314.0,99.3 L314.3,99.2 L314.7,99.1 L315.0,99.0 L315.4,98.9 L315.7,98.9 L316.1,98.8 L316.4,98.7 L316.8,98.6 L317.1,98.5 L317.5,98.5 L317.8,98.4 L318.2,98.3 L318.5,98.3 L318.9,98.2 L319.3,98.2 L319.6,98.1 L320.0,98.1 L320.3,98.1 L320.7,98.0 L321.0,98.0 L321.4,98.0 L321.7,98.0 L322.1,98.0 L322.4,98.0 L322.8,98.0 L323.1,98.0 L323.5,98.0 L323.8,98.1 L324.2,98.1 L324.5,98.2 L324.9,98.3 L325.3,98.4 L325.6,98.5 L326.0,98.6 L326.3,98.7 L326.7,98.8 L327.0,98.9 L327.4,99.1 L327.7,99.2 L328.1,99.3 L328.4,99.5 L328.8,99.6 L329.1,99.8 L329.5,99.9 L329.8,100.1 L330.2,100.3 L330.5,100.4 L330.9,100.6 L331.3,100.7 L331.6,100.9 L332.0,101.0 L332.3,101.2 L332.7,101.3 L333.0,101.5 L333.4,101.6 L333.7,101.7 L334.1,101.9 L334.4,102.0 L334.8,102.1 L335.1,102.2 L335.5,102.4 L335.8,102.5 L336.2,102.6 L336.6,102.7 L336.9,102.8 L337.3,102.9 L337.6,103.0 L338.0,103.0 L338.3,103.1 L338.7,103.2 L339.0,103.2 L339.4,103.3 L339.7,103.4" fill="none" stroke="#9030c8" stroke-width="1.1" stroke-linejoin="round" stroke-linecap="round" />
<path d="M298.1,104.3 L298.4,104.3 L298.8,104.3 L299.1,104.3 L299.5,104.3 L299.8,104.3 L300.2,104.4 L300.5,104.4 L300.9,104.4 L301.2,104.4 L301.6,104.4 L302.0,104.4 L302.3,104.4 L302.7,104.4 L303.0,104.4 L303.4,104.4 L303.7,104.4 L304.1,104.4 L304.4,104.4 L304.8,104.4 L305.1,104.4 L305.5,104.5 L305.8,104.5 L306.2,104.5 L306.5,104.5 L306.9,104.5 L307.2,104.5 L307.6,104.5 L308.0,104.5 L308.3,104.5 L308.7,104.5 L309.0,104.5 L309.4,104.5 L309.7,104.5 L310.1,104.5 L310.4,104.5 L310.8,104.6 L311.1,104.6 L311.5,104.6 L311.8,104.6 L312.2,104.6 L312.5,104.6 L312.9,104.6 L313.3,104.6 L313.6,104.6 L314.0,104.6 L314.3,104.6 L314.7,104.6 L315.0,104.6 L315.4,104.6 L315.7,104.6 L316.1,104.7 L316.4,104.7 L316.8,104.7 L317.1,104.7 L317.5,104.7 L317.8,104.7 L318.2,104.7 L318.5,104.7 L318.9,104.7 L319.3,104.7 L319.6,104.7 L320.0,104.7 L320.3,104.7 L320.7,104.7 L321.0,104.7 L321.4,104.8 L321.7,104.8 L322.1,104.8 L322.4,104.8 L322.8,104.8 L323.1,104.8 L323.5,104.8 L323.8,104.8 L324.2,104.8 L324.5,104.8 L324.9,104.8 L325.3,104.8 L325.6,104.8 L326.0,104.8 L326.3,104.8 L326.7,104.9 L327.0,104.9 L327.4,104.9 L327.7,104.9 L328.1,104.9 L328.4,104.9 L328.8,104.9 L329.1,104.9 L329.5,104.9 L329.8,104.9 L330.2,104.9 L330.5,104.9 L330.9,104.9 L331.3,104.9 L331.6,104.9 L332.0,105.0 L332.3,105.0 L332.7,105.0 L333.0,105.0 L333.4,105.0 L333.7,105.0 L334.1,105.0 L334.4,105.0 L334.8,105.0 L335.1,105.0 L335.5,105.0 L335.8,105.0 L336.2,105.0 L336.6,105.0 L336.9,105.0 L337.3,105.1 L337.6,105.1 L338.0,105.1 L338.3,105.1 L338.7,105.1 L339.0,105.1 L339.4,105.1 L339.7,105.1 L340.1,105.1 L340.4,105.1 L340.8,105.1 L341.1,105.1 L341.5,105.1 L341.8,105.1 L342.2,105.1 L342.6,105.1 L342.9,105.2 L343.3,105.2 L343.6,105.2 L344.0,105.2 L344.3,105.2 L344.7,105.2 L345.0,105.2 L345.4,105.2 L345.7,105.2 L346.1,105.2 L346.4,105.2 L346.8,105.2 L347.1,105.2 L347.5,105.2 L347.8,105.2 L348.2,105.3 L348.6,105.3 L348.9,105.3 L349.3,105.3 L349.6,105.3 L350.0,105.3 L350.3,105.3 L350.7,105.3 L351.0,105.3 L351.4,105.3 L351.7,105.3 L352.1,105.3 L352.4,105.3 L352.8,105.3 L353.1,105.3 L353.5,105.4 L353.8,105.4 L354.2,105.4 L354.6,105.4 L354.9,105.4 L355.3,105.4 L355.6,105.4 L356.0,105.4 L356.3,105.4 L356.7,105.4 L357.0,105.4 L357.4,105.4 L357.7,105.4 L358.1,105.4 L358.4,105.4 L358.8,105.5 L359.1,105.5 L359.5,105.5 L359.9,105.5 L360.2,105.5 L360.6,105.5 L360.9,105.5 L361.3,105.5 L361.6,105.5 L362.0,105.5 L362.3,105.5 L362.7,105.5 L363.0,105.5 L363.4,105.5 L363.7,105.5 L364.1,105.6 L364.4,105.6 L364.8,105.6 L365.1,105.6 L365.5,105.6 L365.9,105.6 L366.2,105.6 L366.6,105.6 L366.9,105.6 L367.3,105.6 L367.6,105.6 L368.0,105.6 L368.3,105.6 L368.7,105.6 L369.0,105.6 L369.4,105.7 L369.7,105.7 L370.1,105.7 L370.4,105.7 L370.8,105.7 L371.1,105.7 L371.5,105.7 L371.9,105.7 L372.2,105.7 L372.6,105.7 L372.9,105.7 L373.3,105.7 L373.6,105.7 L374.0,105.7 L374.3,105.7 L374.7,105.8 L375.0,105.8 L375.4,105.8 L375.7,105.8 L376.1,105.8 L376.4,105.8 L376.8,105.8 L377.1,105.8 L377.5,105.8 L377.9,105.8 L378.2,105.8 L378.6,105.8 L378.9,105.8 L379.3,105.8 L379.6,105.8 L380.0,105.9 L380.3,105.9 L380.7,105.9 L381.0,105.9 L381.4,105.9 L381.7,105.9 L382.1,105.9 L382.4,105.9 L382.8,105.9 L383.1,105.9 L383.5,105.9 L383.9,105.9 L384.2,105.9 L384.6,105.9 L384.9,105.9 L385.3,106.0 L385.6,106.0 L386.0,106.0 L386.3,106.0 L386.7,106.0 L387.0,106.0 L387.4,106.0 L387.7,106.0 L388.1,106.0 L388.4,106.0 L388.8,106.0 L389.2,106.0 L389.5,106.0 L389.9,106.0 L390.2,106.0 L390.6,106.1 L390.9,106.1 L391.3,106.1 L391.6,106.1 L392.0,106.1 L392.3,106.1 L392.7,106.1 L393.0,106.1 L393.4,106.1 L393.7,106.1 L394.1,106.1 L394.4,106.1 L394.8,106.1 L395.2,106.1 L395.5,106.1 L395.9,106.1 L396.2,106.2 L396.6,106.2 L396.9,106.2 L397.3,106.2 L397.6,106.2 L398.0,106.2 L398.3,106.2 L398.7,106.2 L399.0,106.2 L399.4,106.2 L399.7,106.2 L400.1,106.2 L400.4,106.2 L400.8,106.2 L401.2,106.2 L401.5,106.3 L401.9,106.3 L402.2,106.3 L402.6,106.3 L402.9,106.3 L403.3,106.3 L403.6,106.3 L404.0,106.3 L404.3,106.3 L404.7,106.3 L405.0,106.3 L405.4,106.3 L405.7,106.3 L406.1,106.3 L406.4,106.3 L406.8,106.3 L407.2,106.3 L407.5,106.3 L407.9,106.3 L408.2,106.3 L408.6,106.3 L408.9,106.3 L409.3,106.3 L409.6,106.3 L410.0,106.3 L410.3,106.3 L410.7,106.3 L411.0,106.3 L411.4,106.3 L411.7,106.3 L412.1,106.3 L412.5,106.3 L412.8,106.3 L413.2,106.3 L413.5,106.3 L413.9,106.3 L414.2,106.3 L414.6,106.3 L414.9,106.3 L415.3,106.3 L415.6,106.3 L416.0,106.3 L416.3,106.3 L416.7,106.3 L417.0,106.3 L417.4,106.3 L417.7,106.3 L418.1,106.3 L418.5,106.3 L418.8,106.3 L419.2,106.3 L419.5,106.3 L419.9,106.3 L420.2,106.3 L420.6,106.3 L420.9,106.3 L421.3,106.3 L421.6,106.3 L422.0,106.3 L422.3,106.3 L422.7,106.3 L423.0,106.3 L423.4,106.3 L423.7,106.3 L424.1,106.3 L424.5,106.3 L424.8,106.3 L425.2,106.3 L425.5,106.3 L425.9,106.3 L426.2,106.3 L426.6,106.3 L426.9,106.3 L427.3,106.3 L427.6,106.3 L428.0,106.3 L428.3,106.3 L428.7,106.3 L429.0,106.3 L429.4,106.3 L429.7,106.3 L430.1,106.3 L430.5,106.3 L430.8,106.3 L431.2,106.3 L431.5,106.3 L431.9,106.3 L432.2,106.3 L432.6,106.3 L432.9,106.3 L433.3,106.3 L433.6,106.3 L434.0,106.3 L434.3,106.3 L434.7,106.3 L435.0,106.3 L435.4,106.3 L435.8,106.3 L436.1,106.3 L436.5,106.3 L436.8,106.3 L437.2,106.3 L437.5,106.3 L437.9,106.3 L438.2,106.3 L438.6,106.3 L438.9,106.3 L439.3,106.3" fill="none" stroke="#5a3ad0" stroke-width="1.0" stroke-linejoin="round" stroke-linecap="round" />
<text x="427.30" y="16.80" font-size="5.2" text-anchor="start" font-weight="bold" fill="#111" stroke="#111" stroke-width="0.18" font-family="'Liberation Serif', serif" >C1s</text>
<text x="407.30" y="45.60" font-size="5.4" text-anchor="start" font-weight="bold" fill="#111" stroke="#111" stroke-width="0.18" font-family="'Liberation Serif', serif" >C-C</text>
<text x="407.30" y="53.00" font-size="5.4" text-anchor="start" font-weight="bold" fill="#111" stroke="#111" stroke-width="0.18" font-family="'Liberation Serif', serif" >C-H</text>
<line x1="406.0" y1="48.6" x2="397.8" y2="54.7" stroke="#222" stroke-width="0.6"/>
<text x="360.00" y="73.00" font-size="5.4" text-anchor="start" font-weight="bold" fill="#111" stroke="#111" stroke-width="0.18" font-family="'Liberation Serif', serif" >C-O-Ti</text>
<line x1="374.2" y1="74.3" x2="382" y2="78.6" stroke="#222" stroke-width="0.6"/>
<text x="309.20" y="92.20" font-size="5.4" text-anchor="start" font-weight="bold" fill="#111" stroke="#111" stroke-width="0.18" font-family="'Liberation Serif', serif" >π-π*</text>
<line x1="315.5" y1="93.5" x2="323" y2="100.5" stroke="#222" stroke-width="0.6"/>
<text x="344.30" y="92.20" font-size="5.4" text-anchor="start" font-weight="bold" fill="#111" stroke="#111" stroke-width="0.18" font-family="'Liberation Serif', serif" >C=O</text>
<line x1="352" y1="93.5" x2="360" y2="102.5" stroke="#222" stroke-width="0.6"/>
<rect x="36.60" y="152.80" width="143.00" height="105.40" fill="none" stroke="#6a6a6a" stroke-width="1.1"/>
<path d="M45.34,258.20 v-2.20 M63.28,258.20 v-2.20 M81.22,258.20 v-2.20 M99.17,258.20 v-2.20 M117.11,258.20 v-2.20 M135.05,258.20 v-2.20 M152.99,258.20 v-2.20 M170.93,258.20 v-2.20 M54.31,258.20 v-1.30 M72.25,258.20 v-1.30 M90.20,258.20 v-1.30 M108.14,258.20 v-1.30 M126.08,258.20 v-1.30 M144.02,258.20 v-1.30 M161.96,258.20 v-1.30" stroke="#6a6a6a" stroke-width="0.8" fill="none"/>
<text x="45.34" y="265.60" font-size="6" text-anchor="middle" font-weight="bold" fill="#111" stroke="#111" stroke-width="0.18" font-family="'Liberation Serif', serif" >468</text>
<text x="63.28" y="265.60" font-size="6" text-anchor="middle" font-weight="bold" fill="#111" stroke="#111" stroke-width="0.18" font-family="'Liberation Serif', serif" >466</text>
<text x="81.22" y="265.60" font-size="6" text-anchor="middle" font-weight="bold" fill="#111" stroke="#111" stroke-width="0.18" font-family="'Liberation Serif', serif" >464</text>
<text x="99.17" y="265.60" font-size="6" text-anchor="middle" font-weight="bold" fill="#111" stroke="#111" stroke-width="0.18" font-family="'Liberation Serif', serif" >462</text>
<text x="117.11" y="265.60" font-size="6" text-anchor="middle" font-weight="bold" fill="#111" stroke="#111" stroke-width="0.18" font-family="'Liberation Serif', serif" >460</text>
<text x="135.05" y="265.60" font-size="6" text-anchor="middle" font-weight="bold" fill="#111" stroke="#111" stroke-width="0.18" font-family="'Liberation Serif', serif" >458</text>
<text x="152.99" y="265.60" font-size="6" text-anchor="middle" font-weight="bold" fill="#111" stroke="#111" stroke-width="0.18" font-family="'Liberation Serif', serif" >456</text>
<text x="170.93" y="265.60" font-size="6" text-anchor="middle" font-weight="bold" fill="#111" stroke="#111" stroke-width="0.18" font-family="'Liberation Serif', serif" >454</text>
<path d="M36.60,248.00 h2.20 M36.60,226.90 h2.20 M36.60,205.80 h2.20 M36.60,184.70 h2.20 M36.60,163.60 h2.20 M36.60,237.45 h1.30 M36.60,216.35 h1.30 M36.60,195.25 h1.30 M36.60,174.15 h1.30 M36.60,153.05 h1.30" stroke="#6a6a6a" stroke-width="0.8" fill="none"/>
<text x="33.80" y="249.40" font-size="5.9" text-anchor="end" font-weight="bold" fill="#111" stroke="#111" stroke-width="0.18" font-family="'Liberation Serif', serif" >0</text>
<text x="33.80" y="228.30" font-size="5.9" text-anchor="end" font-weight="bold" fill="#111" stroke="#111" stroke-width="0.18" font-family="'Liberation Serif', serif" >20000</text>
<text x="33.80" y="207.20" font-size="5.9" text-anchor="end" font-weight="bold" fill="#111" stroke="#111" stroke-width="0.18" font-family="'Liberation Serif', serif" >40000</text>
<text x="33.80" y="186.10" font-size="5.9" text-anchor="end" font-weight="bold" fill="#111" stroke="#111" stroke-width="0.18" font-family="'Liberation Serif', serif" >60000</text>
<text x="33.80" y="165.00" font-size="5.9" text-anchor="end" font-weight="bold" fill="#111" stroke="#111" stroke-width="0.18" font-family="'Liberation Serif', serif" >80000</text>
<text x="77.40" y="276.60" font-size="7.4" text-anchor="start" font-weight="bold" fill="#111" stroke="#111" stroke-width="0.18" font-family="'Liberation Serif', serif" textLength="61.6" lengthAdjust="spacingAndGlyphs">Binding energy (eV)</text>
<text x="0" y="0" transform="translate(9.60,209.60) rotate(-90)" font-size="7.0" text-anchor="middle" font-weight="bold" fill="#111" stroke="#111" stroke-width="0.18" font-family="'Liberation Serif', serif" textLength="39.6" lengthAdjust="spacingAndGlyphs">Counts (a.u.)</text>
<text x="92.60" y="296.20" font-size="8.7" text-anchor="middle" font-weight="normal" fill="#222" stroke="#222" stroke-width="0.18" font-family="'Liberation Serif', serif" >(c)</text>
<path d="M45.3,236.3 L45.7,236.3 L46.0,236.3 L46.3,236.3 L46.6,236.4 L46.9,236.4 L47.2,236.4 L47.5,236.4 L47.9,236.4 L48.2,236.5 L48.5,236.5 L48.8,236.5 L49.1,236.5 L49.4,236.5 L49.7,236.6 L50.0,236.6 L50.4,236.6 L50.7,236.6 L51.0,236.6 L51.3,236.6 L51.6,236.7 L51.9,236.7 L52.2,236.7 L52.6,236.7 L52.9,236.7 L53.2,236.8 L53.5,236.8 L53.8,236.8 L54.1,236.8 L54.4,236.8 L54.8,236.9 L55.1,236.9 L55.4,236.9 L55.7,236.9 L56.0,236.9 L56.3,236.9 L56.6,237.0 L57.0,237.0 L57.3,237.0 L57.6,237.0 L57.9,237.0 L58.2,237.1 L58.5,237.1 L58.8,237.1 L59.2,237.1 L59.5,237.1 L59.8,237.2 L60.1,237.2 L60.4,237.2 L60.7,237.2 L61.0,237.2 L61.4,237.2 L61.7,237.3 L62.0,237.3 L62.3,237.3 L62.6,237.3 L62.9,237.3 L63.2,237.4 L63.6,237.4 L63.9,237.4 L64.2,237.4 L64.5,237.4 L64.8,237.5 L65.1,237.5 L65.4,237.5 L65.7,237.5 L66.1,237.5 L66.4,237.5 L66.7,237.6 L67.0,237.6 L67.3,237.6 L67.6,237.6 L67.9,237.6 L68.3,237.7 L68.6,237.7 L68.9,237.7 L69.2,237.7 L69.5,237.7 L69.8,237.8 L70.1,237.8 L70.5,237.8 L70.8,237.8 L71.1,237.8 L71.4,237.8 L71.7,237.9 L72.0,237.9 L72.3,237.9 L72.7,237.9 L73.0,237.9 L73.3,238.0 L73.6,238.0 L73.9,238.0 L74.2,238.0 L74.5,238.0 L74.9,238.0 L75.2,238.1 L75.5,238.1 L75.8,238.1 L76.1,238.1 L76.4,238.1 L76.7,238.2 L77.1,238.2 L77.4,238.2 L77.7,238.2 L78.0,238.2 L78.3,238.3 L78.6,238.3 L78.9,238.3 L79.3,238.3 L79.6,238.3 L79.9,238.3 L80.2,238.4 L80.5,238.4 L80.8,238.4 L81.1,238.4 L81.4,238.4 L81.8,238.5 L82.1,238.5 L82.4,238.5 L82.7,238.5 L83.0,238.5 L83.3,238.6 L83.6,238.6 L84.0,238.6 L84.3,238.6 L84.6,238.6 L84.9,238.6 L85.2,238.7 L85.5,238.7 L85.8,238.7 L86.2,238.7 L86.5,238.7 L86.8,238.8 L87.1,238.8 L87.4,238.8 L87.7,238.8 L88.0,238.8 L88.4,238.9 L88.7,238.9 L89.0,238.9 L89.3,238.9 L89.6,238.9 L89.9,238.9 L90.2,239.0 L90.6,239.0 L90.9,239.0 L91.2,239.0 L91.5,239.0 L91.8,239.1 L92.1,239.1 L92.4,239.1 L92.8,239.1 L93.1,239.1 L93.4,239.2 L93.7,239.2 L94.0,239.2 L94.3,239.2 L94.6,239.2 L94.9,239.2 L95.3,239.3 L95.6,239.3 L95.9,239.3 L96.2,239.3 L96.5,239.3 L96.8,239.4 L97.1,239.4 L97.5,239.4 L97.8,239.4 L98.1,239.4 L98.4,239.5 L98.7,239.5 L99.0,239.5 L99.3,239.5 L99.7,239.5 L100.0,239.5 L100.3,239.6 L100.6,239.6 L100.9,239.6 L101.2,239.6 L101.5,239.6 L101.9,239.7 L102.2,239.7 L102.5,239.7 L102.8,239.7 L103.1,239.7 L103.4,239.8 L103.7,239.8 L104.1,239.8 L104.4,239.8 L104.7,239.8 L105.0,239.8 L105.3,239.9 L105.6,239.9 L105.9,239.9 L106.3,239.9 L106.6,239.9 L106.9,240.0 L107.2,240.0 L107.5,240.0 L107.8,240.0 L108.1,240.0 L108.5,240.1 L108.8,240.1 L109.1,240.1 L109.4,240.1 L109.7,240.1 L110.0,240.1 L110.3,240.2 L110.6,240.2 L111.0,240.2 L111.3,240.2 L111.6,240.2 L111.9,240.3 L112.2,240.3 L112.5,240.3 L112.8,240.3 L113.2,240.3 L113.5,240.4 L113.8,240.4 L114.1,240.4 L114.4,240.4 L114.7,240.4 L115.0,240.4 L115.4,240.5 L115.7,240.5 L116.0,240.5 L116.3,240.5 L116.6,240.5 L116.9,240.6 L117.2,240.6 L117.6,240.6 L117.9,240.6 L118.2,240.6 L118.5,240.7 L118.8,240.7 L119.1,240.7 L119.4,240.7 L119.8,240.7 L120.1,240.7 L120.4,240.8 L120.7,240.8 L121.0,240.8 L121.3,240.8 L121.6,240.8 L122.0,240.9 L122.3,240.9 L122.6,240.9 L122.9,240.9 L123.2,240.9 L123.5,241.0 L123.8,241.0 L124.2,241.0 L124.5,241.0 L124.8,241.0 L125.1,241.0 L125.4,241.1 L125.7,241.1 L126.0,241.1 L126.3,241.1 L126.7,241.1 L127.0,241.2 L127.3,241.2 L127.6,241.2 L127.9,241.2 L128.2,241.2 L128.5,241.3 L128.9,241.3 L129.2,241.3 L129.5,241.3 L129.8,241.3 L130.1,241.3 L130.4,241.4 L130.7,241.4 L131.1,241.4 L131.4,241.4 L131.7,241.4 L132.0,241.5 L132.3,241.5 L132.6,241.5 L132.9,241.5 L133.3,241.5 L133.6,241.6 L133.9,241.6 L134.2,241.6 L134.5,241.6 L134.8,241.6 L135.1,241.6 L135.5,241.7 L135.8,241.7 L136.1,241.7 L136.4,241.7 L136.7,241.7 L137.0,241.8 L137.3,241.8 L137.7,241.8 L138.0,241.8 L138.3,241.8 L138.6,241.9 L138.9,241.9 L139.2,241.9 L139.5,241.9 L139.8,241.9 L140.2,241.9 L140.5,242.0 L140.8,242.0 L141.1,242.0 L141.4,242.0 L141.7,242.0 L142.0,242.1 L142.4,242.1 L142.7,242.1 L143.0,242.1 L143.3,242.1 L143.6,242.2 L143.9,242.2 L144.2,242.2 L144.6,242.2 L144.9,242.2 L145.2,242.2 L145.5,242.3 L145.8,242.3 L146.1,242.3 L146.4,242.3 L146.8,242.3 L147.1,242.4 L147.4,242.4 L147.7,242.4 L148.0,242.4 L148.3,242.4 L148.6,242.5 L149.0,242.5 L149.3,242.5 L149.6,242.5 L149.9,242.5 L150.2,242.5 L150.5,242.6 L150.8,242.6 L151.2,242.6 L151.5,242.6 L151.8,242.6 L152.1,242.7 L152.4,242.7 L152.7,242.7 L153.0,242.7 L153.4,242.7 L153.7,242.8 L154.0,242.8 L154.3,242.8 L154.6,242.8 L154.9,242.8 L155.2,242.8 L155.5,242.9 L155.9,242.9 L156.2,242.9 L156.5,242.9 L156.8,242.9 L157.1,243.0 L157.4,243.0 L157.7,243.0 L158.1,243.0 L158.4,243.0 L158.7,243.0 L159.0,243.1 L159.3,243.1 L159.6,243.1 L159.9,243.1 L160.3,243.1 L160.6,243.2 L160.9,243.2 L161.2,243.2 L161.5,243.2 L161.8,243.2 L162.1,243.3 L162.5,243.3 L162.8,243.3 L163.1,243.3 L163.4,243.3 L163.7,243.3 L164.0,243.4 L164.3,243.4 L164.7,243.4 L165.0,243.4 L165.3,243.4 L165.6,243.5 L165.9,243.5 L166.2,243.5 L166.5,243.5 L166.9,243.5 L167.2,243.6 L167.5,243.6 L167.8,243.6 L168.1,243.6 L168.4,243.6 L168.7,243.6 L169.1,243.7 L169.4,243.7 L169.7,243.7 L170.0,243.7 L170.3,243.7 L170.6,243.8 L170.9,243.8" fill="none" stroke="#3840a8" stroke-width="0.9" stroke-linejoin="round" stroke-linecap="round" />
<path d="M45.3,236.3 L45.7,236.3 L46.0,236.3 L46.3,236.3 L46.6,236.4 L46.9,236.4 L47.2,236.4 L47.5,236.4 L47.9,236.4 L48.2,236.5 L48.5,236.5 L48.8,236.5 L49.1,236.5 L49.4,236.5 L49.7,236.5 L50.0,236.6 L50.4,236.6 L50.7,236.6 L51.0,236.6 L51.3,236.6 L51.6,236.7 L51.9,236.7 L52.2,236.7 L52.6,236.7 L52.9,236.7 L53.2,236.8 L53.5,236.8 L53.8,236.8 L54.1,236.8 L54.4,236.8 L54.8,236.8 L55.1,236.9 L55.4,236.9 L55.7,236.9 L56.0,236.9 L56.3,236.9 L56.6,237.0 L57.0,237.0 L57.3,237.0 L57.6,237.0 L57.9,237.0 L58.2,237.1 L58.5,237.1 L58.8,237.1 L59.2,237.1 L59.5,237.1 L59.8,237.1 L60.1,237.2 L60.4,237.2 L60.7,237.2 L61.0,237.2 L61.4,237.2 L61.7,237.3 L62.0,237.3 L62.3,237.3 L62.6,237.3 L62.9,237.3 L63.2,237.3 L63.6,237.4 L63.9,237.4 L64.2,237.4 L64.5,237.4 L64.8,237.4 L65.1,237.5 L65.4,237.5 L65.7,237.5 L66.1,237.5 L66.4,237.5 L66.7,237.6 L67.0,237.6 L67.3,237.6 L67.6,237.6 L67.9,237.6 L68.3,237.6 L68.6,237.7 L68.9,237.7 L69.2,237.7 L69.5,237.7 L69.8,237.7 L70.1,237.8 L70.5,237.8 L70.8,237.8 L71.1,237.8 L71.4,237.8 L71.7,237.9 L72.0,237.9 L72.3,237.9 L72.7,237.9 L73.0,237.9 L73.3,237.9 L73.6,238.0 L73.9,238.0 L74.2,238.0 L74.5,238.0 L74.9,238.0 L75.2,238.1 L75.5,238.1 L75.8,238.1 L76.1,238.1 L76.4,238.1 L76.7,238.2 L77.1,238.2 L77.4,238.2 L77.7,238.2 L78.0,238.2 L78.3,238.2 L78.6,238.3 L78.9,238.3 L79.3,238.3 L79.6,238.3 L79.9,238.3 L80.2,238.4 L80.5,238.4 L80.8,238.4 L81.1,238.4 L81.4,238.4 L81.8,238.4 L82.1,238.5 L82.4,238.5 L82.7,238.5 L83.0,238.5 L83.3,238.5 L83.6,238.6 L84.0,238.6 L84.3,238.6 L84.6,238.6 L84.9,238.6 L85.2,238.6 L85.5,238.7 L85.8,238.7 L86.2,238.7 L86.5,238.7 L86.8,238.7 L87.1,238.8 L87.4,238.8 L87.7,238.8 L88.0,238.8 L88.4,238.8 L88.7,238.9 L89.0,238.9 L89.3,238.9 L89.6,238.9 L89.9,238.9 L90.2,238.9 L90.6,239.0 L90.9,239.0 L91.2,239.0 L91.5,239.0 L91.8,239.0 L92.1,239.1 L92.4,239.1 L92.8,239.1 L93.1,239.1 L93.4,239.1 L93.7,239.1 L94.0,239.2 L94.3,239.2 L94.6,239.2 L94.9,239.2 L95.3,239.2 L95.6,239.2 L95.9,239.3 L96.2,239.3 L96.5,239.3 L96.8,239.3 L97.1,239.3 L97.5,239.3 L97.8,239.3 L98.1,239.4 L98.4,239.4 L98.7,239.4 L99.0,239.4 L99.3,239.4 L99.7,239.4 L100.0,239.4 L100.3,239.4 L100.6,239.5 L100.9,239.5 L101.2,239.5 L101.5,239.5 L101.9,239.5 L102.2,239.5 L102.5,239.5 L102.8,239.5 L103.1,239.5 L103.4,239.5 L103.7,239.5 L104.1,239.5 L104.4,239.5 L104.7,239.5 L105.0,239.5 L105.3,239.4 L105.6,239.4 L105.9,239.4 L106.3,239.4 L106.6,239.4 L106.9,239.4 L107.2,239.3 L107.5,239.3 L107.8,239.3 L108.1,239.3 L108.5,239.2 L108.8,239.2 L109.1,239.1 L109.4,239.1 L109.7,239.1 L110.0,239.0 L110.3,239.0 L110.6,238.9 L111.0,238.9 L111.3,238.8 L111.6,238.8 L111.9,238.7 L112.2,238.7 L112.5,238.6 L112.8,238.6 L113.2,238.5 L113.5,238.5 L113.8,238.4 L114.1,238.4 L114.4,238.3 L114.7,238.3 L115.0,238.2 L115.4,238.2 L115.7,238.1 L116.0,238.1 L116.3,238.0 L116.6,238.0 L116.9,238.0 L117.2,237.9 L117.6,237.9 L117.9,237.9 L118.2,237.8 L118.5,237.8 L118.8,237.8 L119.1,237.8 L119.4,237.8 L119.8,237.8 L120.1,237.8 L120.4,237.8 L120.7,237.8 L121.0,237.9 L121.3,237.9 L121.6,237.9 L122.0,237.9 L122.3,238.0 L122.6,238.0 L122.9,238.1 L123.2,238.1 L123.5,238.2 L123.8,238.3 L124.2,238.3 L124.5,238.4 L124.8,238.5 L125.1,238.6 L125.4,238.6 L125.7,238.7 L126.0,238.8 L126.3,238.9 L126.7,239.0 L127.0,239.1 L127.3,239.2 L127.6,239.2 L127.9,239.3 L128.2,239.4 L128.5,239.5 L128.9,239.6 L129.2,239.7 L129.5,239.8 L129.8,239.9 L130.1,240.0 L130.4,240.1 L130.7,240.1 L131.1,240.2 L131.4,240.3 L131.7,240.4 L132.0,240.5 L132.3,240.5 L132.6,240.6 L132.9,240.7 L133.3,240.7 L133.6,240.8 L133.9,240.9 L134.2,240.9 L134.5,241.0 L134.8,241.1 L135.1,241.1 L135.5,241.2 L135.8,241.2 L136.1,241.3 L136.4,241.3 L136.7,241.4 L137.0,241.4 L137.3,241.5 L137.7,241.5 L138.0,241.5 L138.3,241.6 L138.6,241.6 L138.9,241.7 L139.2,241.7 L139.5,241.7 L139.8,241.8 L140.2,241.8 L140.5,241.8 L140.8,241.9 L141.1,241.9 L141.4,241.9 L141.7,241.9 L142.0,242.0 L142.4,242.0 L142.7,242.0 L143.0,242.0 L143.3,242.1 L143.6,242.1 L143.9,242.1 L144.2,242.1 L144.6,242.2 L144.9,242.2 L145.2,242.2 L145.5,242.2 L145.8,242.2 L146.1,242.3 L146.4,242.3 L146.8,242.3 L147.1,242.3 L147.4,242.3 L147.7,242.4 L148.0,242.4 L148.3,242.4 L148.6,242.4 L149.0,242.4 L149.3,242.5 L149.6,242.5 L149.9,242.5 L150.2,242.5 L150.5,242.5 L150.8,242.6 L151.2,242.6 L151.5,242.6 L151.8,242.6 L152.1,242.6 L152.4,242.7 L152.7,242.7 L153.0,242.7 L153.4,242.7 L153.7,242.7 L154.0,242.7 L154.3,242.8 L154.6,242.8 L154.9,242.8 L155.2,242.8 L155.5,242.8 L155.9,242.9 L156.2,242.9 L156.5,242.9 L156.8,242.9 L157.1,242.9 L157.4,243.0 L157.7,243.0 L158.1,243.0 L158.4,243.0 L158.7,243.0 L159.0,243.1 L159.3,243.1 L159.6,243.1 L159.9,243.1 L160.3,243.1 L160.6,243.1 L160.9,243.2 L161.2,243.2 L161.5,243.2 L161.8,243.2 L162.1,243.2 L162.5,243.3 L162.8,243.3 L163.1,243.3 L163.4,243.3 L163.7,243.3 L164.0,243.4 L164.3,243.4 L164.7,243.4 L165.0,243.4 L165.3,243.4 L165.6,243.5 L165.9,243.5 L166.2,243.5 L166.5,243.5 L166.9,243.5 L167.2,243.5 L167.5,243.6 L167.8,243.6 L168.1,243.6 L168.4,243.6 L168.7,243.6 L169.1,243.7 L169.4,243.7 L169.7,243.7 L170.0,243.7 L170.3,243.7 L170.6,243.8 L170.9,243.8" fill="none" stroke="#50a850" stroke-width="0.9" stroke-linejoin="round" stroke-linecap="round" />
<path d="M45.3,235.8 L45.7,235.8 L46.0,235.8 L46.3,235.8 L46.6,235.8 L46.9,235.8 L47.2,235.8 L47.5,235.8 L47.9,235.9 L48.2,235.9 L48.5,235.9 L48.8,235.9 L49.1,235.9 L49.4,235.9 L49.7,235.9 L50.0,235.9 L50.4,235.9 L50.7,235.9 L51.0,235.9 L51.3,235.9 L51.6,235.9 L51.9,235.9 L52.2,235.9 L52.6,235.9 L52.9,235.9 L53.2,235.9 L53.5,235.9 L53.8,235.9 L54.1,235.9 L54.4,235.9 L54.8,235.9 L55.1,235.9 L55.4,235.9 L55.7,235.9 L56.0,235.9 L56.3,235.9 L56.6,235.9 L57.0,235.9 L57.3,235.9 L57.6,235.8 L57.9,235.8 L58.2,235.8 L58.5,235.8 L58.8,235.8 L59.2,235.7 L59.5,235.7 L59.8,235.7 L60.1,235.6 L60.4,235.6 L60.7,235.5 L61.0,235.5 L61.4,235.4 L61.7,235.4 L62.0,235.3 L62.3,235.2 L62.6,235.2 L62.9,235.1 L63.2,235.0 L63.6,234.9 L63.9,234.7 L64.2,234.6 L64.5,234.5 L64.8,234.3 L65.1,234.2 L65.4,234.0 L65.7,233.8 L66.1,233.6 L66.4,233.4 L66.7,233.2 L67.0,233.0 L67.3,232.7 L67.6,232.4 L67.9,232.1 L68.3,231.8 L68.6,231.5 L68.9,231.2 L69.2,230.8 L69.5,230.4 L69.8,230.0 L70.1,229.6 L70.5,229.2 L70.8,228.7 L71.1,228.3 L71.4,227.8 L71.7,227.3 L72.0,226.8 L72.3,226.2 L72.7,225.7 L73.0,225.1 L73.3,224.6 L73.6,224.0 L73.9,223.5 L74.2,222.9 L74.5,222.3 L74.9,221.8 L75.2,221.2 L75.5,220.6 L75.8,220.1 L76.1,219.6 L76.4,219.1 L76.7,218.6 L77.1,218.2 L77.4,217.8 L77.7,217.4 L78.0,217.0 L78.3,216.8 L78.6,216.5 L78.9,216.3 L79.3,216.2 L79.6,216.1 L79.9,216.1 L80.2,216.2 L80.5,216.3 L80.8,216.5 L81.1,216.7 L81.4,216.9 L81.8,217.3 L82.1,217.6 L82.4,218.0 L82.7,218.5 L83.0,219.0 L83.3,219.5 L83.6,220.0 L84.0,220.6 L84.3,221.1 L84.6,221.7 L84.9,222.3 L85.2,222.9 L85.5,223.5 L85.8,224.1 L86.2,224.7 L86.5,225.3 L86.8,225.9 L87.1,226.5 L87.4,227.1 L87.7,227.7 L88.0,228.2 L88.4,228.7 L88.7,229.3 L89.0,229.8 L89.3,230.2 L89.6,230.7 L89.9,231.2 L90.2,231.6 L90.6,232.0 L90.9,232.4 L91.2,232.8 L91.5,233.1 L91.8,233.5 L92.1,233.8 L92.4,234.1 L92.8,234.4 L93.1,234.7 L93.4,234.9 L93.7,235.2 L94.0,235.4 L94.3,235.6 L94.6,235.8 L94.9,236.0 L95.3,236.2 L95.6,236.4 L95.9,236.5 L96.2,236.7 L96.5,236.8 L96.8,237.0 L97.1,237.1 L97.5,237.2 L97.8,237.3 L98.1,237.4 L98.4,237.5 L98.7,237.6 L99.0,237.7 L99.3,237.7 L99.7,237.8 L100.0,237.9 L100.3,237.9 L100.6,238.0 L100.9,238.0 L101.2,238.1 L101.5,238.1 L101.9,238.2 L102.2,238.2 L102.5,238.2 L102.8,238.3 L103.1,238.3 L103.4,238.3 L103.7,238.3 L104.1,238.3 L104.4,238.4 L104.7,238.4 L105.0,238.4 L105.3,238.4 L105.6,238.4 L105.9,238.4 L106.3,238.4 L106.6,238.4 L106.9,238.4 L107.2,238.4 L107.5,238.3 L107.8,238.3 L108.1,238.3 L108.5,238.3 L108.8,238.3 L109.1,238.2 L109.4,238.2 L109.7,238.2 L110.0,238.1 L110.3,238.1 L110.6,238.0 L111.0,238.0 L111.3,238.0 L111.6,237.9 L111.9,237.9 L112.2,237.8 L112.5,237.8 L112.8,237.7 L113.2,237.6 L113.5,237.6 L113.8,237.5 L114.1,237.5 L114.4,237.4 L114.7,237.3 L115.0,237.3 L115.4,237.2 L115.7,237.2 L116.0,237.1 L116.3,237.0 L116.6,237.0 L116.9,236.9 L117.2,236.8 L117.6,236.8 L117.9,236.7 L118.2,236.6 L118.5,236.5 L118.8,236.4 L119.1,236.2 L119.4,236.1 L119.8,235.9 L120.1,235.6 L120.4,235.3 L120.7,235.0 L121.0,234.6 L121.3,234.1 L121.6,233.5 L122.0,232.7 L122.3,231.9 L122.6,230.9 L122.9,229.7 L123.2,228.4 L123.5,226.9 L123.8,225.1 L124.2,223.1 L124.5,220.9 L124.8,218.5 L125.1,215.8 L125.4,212.9 L125.7,209.7 L126.0,206.3 L126.3,202.8 L126.7,199.1 L127.0,195.2 L127.3,191.3 L127.6,187.4 L127.9,183.5 L128.2,179.6 L128.5,176.0 L128.9,172.5 L129.2,169.3 L129.5,166.5 L129.8,164.1 L130.1,162.2 L130.4,160.8 L130.7,159.9 L131.1,159.6 L131.4,159.9 L131.7,160.8 L132.0,162.2 L132.3,164.2 L132.6,166.6 L132.9,169.5 L133.3,172.7 L133.6,176.3 L133.9,180.0 L134.2,184.0 L134.5,188.0 L134.8,192.1 L135.1,196.2 L135.5,200.2 L135.8,204.1 L136.1,207.9 L136.4,211.4 L136.7,214.8 L137.0,217.9 L137.3,220.8 L137.7,223.4 L138.0,225.8 L138.3,228.0 L138.6,229.9 L138.9,231.6 L139.2,233.1 L139.5,234.4 L139.8,235.5 L140.2,236.5 L140.5,237.3 L140.8,238.0 L141.1,238.6 L141.4,239.1 L141.7,239.6 L142.0,239.9 L142.4,240.2 L142.7,240.4 L143.0,240.6 L143.3,240.8 L143.6,241.0 L143.9,241.1 L144.2,241.2 L144.6,241.3 L144.9,241.4 L145.2,241.4 L145.5,241.5 L145.8,241.5 L146.1,241.6 L146.4,241.6 L146.8,241.7 L147.1,241.7 L147.4,241.8 L147.7,241.8 L148.0,241.8 L148.3,241.9 L148.6,241.9 L149.0,241.9 L149.3,242.0 L149.6,242.0 L149.9,242.0 L150.2,242.1 L150.5,242.1 L150.8,242.1 L151.2,242.2 L151.5,242.2 L151.8,242.2 L152.1,242.2 L152.4,242.3 L152.7,242.3 L153.0,242.3 L153.4,242.4 L153.7,242.4 L154.0,242.4 L154.3,242.4 L154.6,242.5 L154.9,242.5 L155.2,242.5 L155.5,242.5 L155.9,242.6 L156.2,242.6 L156.5,242.6 L156.8,242.6 L157.1,242.7 L157.4,242.7 L157.7,242.7 L158.1,242.7 L158.4,242.8 L158.7,242.8 L159.0,242.8 L159.3,242.8 L159.6,242.8 L159.9,242.9 L160.3,242.9 L160.6,242.9 L160.9,242.9 L161.2,243.0 L161.5,243.0 L161.8,243.0 L162.1,243.0 L162.5,243.0 L162.8,243.1 L163.1,243.1 L163.4,243.1 L163.7,243.1 L164.0,243.2 L164.3,243.2 L164.7,243.2 L165.0,243.2 L165.3,243.2 L165.6,243.3 L165.9,243.3 L166.2,243.3 L166.5,243.3 L166.9,243.3 L167.2,243.4 L167.5,243.4 L167.8,243.4 L168.1,243.4 L168.4,243.5 L168.7,243.5 L169.1,243.5 L169.4,243.5 L169.7,243.5 L170.0,243.6 L170.3,243.6 L170.6,243.6 L170.9,243.6" fill="none" stroke="#e03838" stroke-width="1.0" stroke-linejoin="round" stroke-linecap="round" />
<path d="M45.3,235.6 L45.7,235.9 L46.0,236.0 L46.3,236.1 L46.6,235.6 L46.9,235.6 L47.2,235.7 L47.5,236.0 L47.9,236.0 L48.2,236.0 L48.5,235.9 L48.8,236.1 L49.1,235.9 L49.4,236.0 L49.7,235.6 L50.0,235.6 L50.4,235.9 L50.7,236.1 L51.0,235.6 L51.3,236.0 L51.6,236.0 L51.9,236.2 L52.2,236.0 L52.6,235.9 L52.9,235.9 L53.2,236.1 L53.5,235.9 L53.8,236.2 L54.1,236.1 L54.4,236.2 L54.8,236.0 L55.1,236.2 L55.4,236.2 L55.7,236.0 L56.0,236.1 L56.3,235.8 L56.6,235.9 L57.0,235.7 L57.3,235.8 L57.6,235.7 L57.9,235.6 L58.2,235.9 L58.5,235.9 L58.8,235.5 L59.2,236.0 L59.5,235.6 L59.8,235.6 L60.1,235.9 L60.4,235.4 L60.7,235.3 L61.0,235.4 L61.4,235.3 L61.7,235.2 L62.0,235.5 L62.3,235.2 L62.6,235.2 L62.9,234.9 L63.2,234.8 L63.6,234.7 L63.9,234.7 L64.2,234.4 L64.5,234.4 L64.8,234.2 L65.1,234.4 L65.4,234.3 L65.7,234.1 L66.1,233.7 L66.4,233.7 L66.7,233.0 L67.0,232.9 L67.3,232.6 L67.6,232.3 L67.9,232.0 L68.3,231.8 L68.6,231.8 L68.9,231.0 L69.2,230.6 L69.5,230.4 L69.8,230.0 L70.1,229.5 L70.5,229.4 L70.8,228.6 L71.1,228.4 L71.4,228.0 L71.7,227.4 L72.0,226.6 L72.3,226.4 L72.7,225.5 L73.0,224.8 L73.3,224.6 L73.6,224.1 L73.9,223.5 L74.2,222.8 L74.5,222.2 L74.9,221.7 L75.2,221.1 L75.5,220.9 L75.8,220.3 L76.1,219.7 L76.4,218.9 L76.7,218.7 L77.1,218.1 L77.4,218.1 L77.7,217.7 L78.0,217.2 L78.3,216.7 L78.6,216.4 L78.9,216.2 L79.3,216.3 L79.6,216.1 L79.9,216.2 L80.2,216.2 L80.5,216.5 L80.8,216.2 L81.1,216.9 L81.4,216.6 L81.8,217.0 L82.1,217.9 L82.4,218.1 L82.7,218.3 L83.0,218.7 L83.3,219.5 L83.6,220.2 L84.0,220.8 L84.3,220.9 L84.6,221.9 L84.9,222.3 L85.2,223.2 L85.5,223.5 L85.8,223.9 L86.2,225.0 L86.5,225.1 L86.8,225.9 L87.1,226.3 L87.4,227.0 L87.7,227.8 L88.0,228.0 L88.4,228.7 L88.7,229.6 L89.0,230.1 L89.3,230.2 L89.6,230.7 L89.9,231.3 L90.2,231.8 L90.6,232.1 L90.9,232.5 L91.2,232.6 L91.5,233.5 L91.8,233.3 L92.1,233.6 L92.4,234.4 L92.8,234.1 L93.1,234.6 L93.4,234.7 L93.7,235.3 L94.0,235.5 L94.3,235.7 L94.6,235.5 L94.9,236.0 L95.3,236.3 L95.6,236.4 L95.9,236.7 L96.2,237.0 L96.5,237.1 L96.8,236.7 L97.1,237.2 L97.5,236.9 L97.8,237.5 L98.1,237.5 L98.4,237.5 L98.7,237.8 L99.0,237.7 L99.3,237.4 L99.7,237.6 L100.0,237.7 L100.3,237.8 L100.6,237.7 L100.9,237.7 L101.2,238.0 L101.5,238.0 L101.9,238.4 L102.2,238.0 L102.5,238.3 L102.8,238.1 L103.1,238.2 L103.4,238.4 L103.7,238.6 L104.1,238.1 L104.4,238.6 L104.7,238.4 L105.0,238.5 L105.3,238.5 L105.6,238.2 L105.9,238.1 L106.3,238.5 L106.6,238.3 L106.9,238.5 L107.2,238.3 L107.5,238.4 L107.8,238.5 L108.1,238.5 L108.5,238.5 L108.8,238.0 L109.1,238.2 L109.4,238.4 L109.7,237.9 L110.0,237.8 L110.3,238.1 L110.6,238.3 L111.0,238.2 L111.3,238.2 L111.6,238.0 L111.9,238.1 L112.2,238.0 L112.5,237.9 L112.8,237.7 L113.2,237.4 L113.5,237.4 L113.8,237.6 L114.1,237.5 L114.4,237.4 L114.7,237.4 L115.0,237.4 L115.4,237.5 L115.7,237.3 L116.0,236.8 L116.3,237.3 L116.6,237.0 L116.9,236.8 L117.2,236.6 L117.6,236.9 L117.9,236.8 L118.2,236.7 L118.5,236.5 L118.8,236.4 L119.1,235.9 L119.4,235.8 L119.8,235.6 L120.1,235.9 L120.4,235.6 L120.7,234.8 L121.0,234.3 L121.3,234.1 L121.6,233.4 L122.0,233.1 L122.3,232.0 L122.6,230.6 L122.9,229.5 L123.2,228.2 L123.5,226.6 L123.8,225.3 L124.2,223.4 L124.5,221.1 L124.8,218.5 L125.1,215.7 L125.4,212.6 L125.7,209.6 L126.0,206.2 L126.3,202.6 L126.7,199.1 L127.0,195.2 L127.3,191.6 L127.6,187.2 L127.9,183.6 L128.2,179.4 L128.5,175.9 L128.9,172.6 L129.2,169.6 L129.5,166.7 L129.8,164.0 L130.1,162.1 L130.4,161.0 L130.7,160.2 L131.1,159.6 L131.4,159.8 L131.7,160.8 L132.0,162.4 L132.3,164.1 L132.6,166.9 L132.9,169.6 L133.3,172.7 L133.6,176.0 L133.9,180.0 L134.2,183.7 L134.5,188.1 L134.8,192.3 L135.1,196.4 L135.5,199.9 L135.8,204.0 L136.1,208.0 L136.4,211.7 L136.7,214.8 L137.0,217.8 L137.3,220.9 L137.7,223.6 L138.0,225.7 L138.3,227.7 L138.6,230.1 L138.9,231.9 L139.2,233.2 L139.5,234.5 L139.8,235.4 L140.2,236.7 L140.5,237.1 L140.8,237.9 L141.1,238.6 L141.4,239.3 L141.7,239.3 L142.0,240.0 L142.4,240.0 L142.7,240.6 L143.0,240.8 L143.3,240.7 L143.6,241.1 L143.9,240.8 L144.2,241.2 L144.6,241.5 L144.9,241.5 L145.2,241.5 L145.5,241.4 L145.8,241.3 L146.1,241.8 L146.4,241.7 L146.8,241.9 L147.1,241.4 L147.4,242.0 L147.7,242.1 L148.0,242.1 L148.3,241.9 L148.6,241.7 L149.0,241.7 L149.3,241.8 L149.6,241.7 L149.9,241.8 L150.2,242.2 L150.5,242.3 L150.8,241.9 L151.2,242.0 L151.5,242.5 L151.8,242.1 L152.1,242.3 L152.4,242.4 L152.7,242.4 L153.0,242.5 L153.4,242.7 L153.7,242.5 L154.0,242.5 L154.3,242.1 L154.6,242.7 L154.9,242.2 L155.2,242.7 L155.5,242.6 L155.9,242.4 L156.2,242.4 L156.5,242.7 L156.8,242.9 L157.1,242.7 L157.4,242.8 L157.7,242.4 L158.1,242.9 L158.4,242.8 L158.7,242.5 L159.0,243.1 L159.3,242.9 L159.6,242.6 L159.9,242.7 L160.3,243.2 L160.6,243.2 L160.9,243.2 L161.2,242.7 L161.5,243.1 L161.8,242.8 L162.1,242.8 L162.5,243.1 L162.8,243.2 L163.1,242.8 L163.4,243.0 L163.7,243.3 L164.0,243.0 L164.3,243.3 L164.7,243.3 L165.0,243.5 L165.3,243.1 L165.6,243.0 L165.9,243.2 L166.2,243.0 L166.5,243.6 L166.9,243.5 L167.2,243.4 L167.5,243.1 L167.8,243.1 L168.1,243.5 L168.4,243.6 L168.7,243.5 L169.1,243.5 L169.4,243.2 L169.7,243.7 L170.0,243.4 L170.3,243.4 L170.6,243.4 L170.9,243.4" fill="none" stroke="#333" stroke-width="0.6" stroke-linejoin="round" stroke-linecap="round" />
<path d="M119.1,239.5 L119.4,239.3 L119.8,239.2 L120.1,238.9 L120.4,238.6 L120.7,238.3 L121.0,237.9 L121.3,237.3 L121.6,236.7 L122.0,236.0 L122.3,235.1 L122.6,234.1 L122.9,232.9 L123.2,231.5 L123.5,229.9 L123.8,228.1 L124.2,226.1 L124.5,223.8 L124.8,221.3 L125.1,218.6 L125.4,215.6 L125.7,212.4 L126.0,208.9 L126.3,205.3 L126.7,201.5 L127.0,197.6 L127.3,193.6 L127.6,189.6 L127.9,185.6 L128.2,181.7 L128.5,177.9 L128.9,174.4 L129.2,171.2 L129.5,168.3 L129.8,165.8 L130.1,163.8 L130.4,162.3 L130.7,161.4 L131.1,161.0 L131.4,161.2 L131.7,162.1 L132.0,163.4 L132.3,165.3 L132.6,167.7 L132.9,170.5 L133.3,173.7 L133.6,177.2 L133.9,180.9 L134.2,184.8 L134.5,188.8 L134.8,192.9 L135.1,196.9 L135.5,200.9 L135.8,204.8 L136.1,208.5 L136.4,212.0 L136.7,215.3 L137.0,218.4 L137.3,221.3 L137.7,223.9 L138.0,226.3 L138.3,228.4 L138.6,230.3 L138.9,232.0 L139.2,233.5 L139.5,234.8 L139.8,235.9 L140.2,236.8 L140.5,237.6 L140.8,238.3 L141.1,238.9 L141.4,239.4 L141.7,239.8 L142.0,240.2 L142.4,240.4 L142.7,240.7 L143.0,240.9 L143.3,241.0 L143.6,241.2 L143.9,241.3 L144.2,241.4 L144.6,241.5 L144.9,241.5 L145.2,241.6 L145.5,241.7 L145.8,241.7 L146.1,241.8 L146.4,241.8 L146.8,241.9 L147.1,241.9 L147.4,241.9 L147.7,242.0 L148.0,242.0 L148.3,242.0 L148.6,242.1 L149.0,242.1 L149.3,242.1 L149.6,242.2 L149.9,242.2 L150.2,242.2 L150.5,242.2 L150.8,242.3 L151.2,242.3 L151.5,242.3 L151.8,242.4 L152.1,242.4 L152.4,242.4 L152.7,242.4 L153.0,242.5 L153.4,242.5 L153.7,242.5 L154.0,242.5 L154.3,242.6 L154.6,242.6 L154.9,242.6 L155.2,242.6 L155.5,242.7 L155.9,242.7 L156.2,242.7 L156.5,242.7 L156.8,242.8 L157.1,242.8 L157.4,242.8 L157.7,242.8 L158.1,242.8 L158.4,242.9 L158.7,242.9 L159.0,242.9 L159.3,242.9 L159.6,243.0 L159.9,243.0 L160.3,243.0 L160.6,243.0 L160.9,243.0 L161.2,243.1 L161.5,243.1 L161.8,243.1 L162.1,243.1 L162.5,243.2 L162.8,243.2 L163.1,243.2 L163.4,243.2 L163.7,243.2 L164.0,243.3 L164.3,243.3 L164.7,243.3 L165.0,243.3 L165.3,243.3 L165.6,243.4 L165.9,243.4 L166.2,243.4 L166.5,243.4 L166.9,243.4 L167.2,243.5 L167.5,243.5 L167.8,243.5 L168.1,243.5 L168.4,243.5 L168.7,243.6 L169.1,243.6 L169.4,243.6 L169.7,243.6 L170.0,243.6 L170.3,243.7 L170.6,243.7 L170.9,243.7" fill="none" stroke="#f050f0" stroke-width="1.1" stroke-linejoin="round" stroke-linecap="round" />
<path d="M45.3,235.8 L45.7,235.8 L46.0,235.8 L46.3,235.8 L46.6,235.8 L46.9,235.8 L47.2,235.9 L47.5,235.9 L47.9,235.9 L48.2,235.9 L48.5,235.9 L48.8,235.9 L49.1,235.9 L49.4,235.9 L49.7,235.9 L50.0,235.9 L50.4,235.9 L50.7,235.9 L51.0,235.9 L51.3,235.9 L51.6,235.9 L51.9,236.0 L52.2,236.0 L52.6,236.0 L52.9,236.0 L53.2,236.0 L53.5,236.0 L53.8,236.0 L54.1,236.0 L54.4,236.0 L54.8,236.0 L55.1,236.0 L55.4,235.9 L55.7,235.9 L56.0,235.9 L56.3,235.9 L56.6,235.9 L57.0,235.9 L57.3,235.9 L57.6,235.9 L57.9,235.9 L58.2,235.8 L58.5,235.8 L58.8,235.8 L59.2,235.8 L59.5,235.7 L59.8,235.7 L60.1,235.7 L60.4,235.6 L60.7,235.6 L61.0,235.5 L61.4,235.5 L61.7,235.4 L62.0,235.3 L62.3,235.3 L62.6,235.2 L62.9,235.1 L63.2,235.0 L63.6,234.9 L63.9,234.8 L64.2,234.7 L64.5,234.5 L64.8,234.4 L65.1,234.2 L65.4,234.0 L65.7,233.9 L66.1,233.7 L66.4,233.5 L66.7,233.2 L67.0,233.0 L67.3,232.7 L67.6,232.5 L67.9,232.2 L68.3,231.9 L68.6,231.5 L68.9,231.2 L69.2,230.8 L69.5,230.5 L69.8,230.1 L70.1,229.6 L70.5,229.2 L70.8,228.8 L71.1,228.3 L71.4,227.8 L71.7,227.3 L72.0,226.8 L72.3,226.3 L72.7,225.7 L73.0,225.2 L73.3,224.6 L73.6,224.1 L73.9,223.5 L74.2,222.9 L74.5,222.4 L74.9,221.8 L75.2,221.2 L75.5,220.7 L75.8,220.2 L76.1,219.6 L76.4,219.1 L76.7,218.7 L77.1,218.2 L77.4,217.8 L77.7,217.4 L78.0,217.1 L78.3,216.8 L78.6,216.6 L78.9,216.4 L79.3,216.3 L79.6,216.2 L79.9,216.2 L80.2,216.2 L80.5,216.3 L80.8,216.5 L81.1,216.7 L81.4,217.0 L81.8,217.3 L82.1,217.7 L82.4,218.1 L82.7,218.6 L83.0,219.0 L83.3,219.5 L83.6,220.1 L84.0,220.6 L84.3,221.2 L84.6,221.8 L84.9,222.4 L85.2,223.0 L85.5,223.6 L85.8,224.2 L86.2,224.8 L86.5,225.4 L86.8,226.0 L87.1,226.6 L87.4,227.2 L87.7,227.7 L88.0,228.3 L88.4,228.8 L88.7,229.3 L89.0,229.8 L89.3,230.3 L89.6,230.8 L89.9,231.3 L90.2,231.7 L90.6,232.1 L90.9,232.5 L91.2,232.9 L91.5,233.2 L91.8,233.6 L92.1,233.9 L92.4,234.2 L92.8,234.5 L93.1,234.8 L93.4,235.1 L93.7,235.3 L94.0,235.6 L94.3,235.8 L94.6,236.0 L94.9,236.2 L95.3,236.4 L95.6,236.5 L95.9,236.7 L96.2,236.8 L96.5,237.0 L96.8,237.1 L97.1,237.2 L97.5,237.4 L97.8,237.5" fill="none" stroke="#4040b0" stroke-width="1.0" stroke-linejoin="round" stroke-linecap="round" />
<path d="M140.2,241.9 L140.5,242.0 L140.8,242.0 L141.1,242.0 L141.4,242.0 L141.7,242.0 L142.0,242.1 L142.4,242.1 L142.7,242.1 L143.0,242.1 L143.3,242.1 L143.6,242.2 L143.9,242.2 L144.2,242.2 L144.6,242.2 L144.9,242.2 L145.2,242.2 L145.5,242.3 L145.8,242.3 L146.1,242.3 L146.4,242.3 L146.8,242.3 L147.1,242.4 L147.4,242.4 L147.7,242.4 L148.0,242.4 L148.3,242.4 L148.6,242.5 L149.0,242.5 L149.3,242.5 L149.6,242.5 L149.9,242.5 L150.2,242.5 L150.5,242.6 L150.8,242.6 L151.2,242.6 L151.5,242.6 L151.8,242.6 L152.1,242.7 L152.4,242.7 L152.7,242.7 L153.0,242.7 L153.4,242.7 L153.7,242.8 L154.0,242.8 L154.3,242.8 L154.6,242.8 L154.9,242.8 L155.2,242.8 L155.5,242.9 L155.9,242.9 L156.2,242.9 L156.5,242.9 L156.8,242.9 L157.1,243.0 L157.4,243.0 L157.7,243.0 L158.1,243.0 L158.4,243.0 L158.7,243.0 L159.0,243.1 L159.3,243.1 L159.6,243.1 L159.9,243.1 L160.3,243.1 L160.6,243.2 L160.9,243.2 L161.2,243.2 L161.5,243.2 L161.8,243.2 L162.1,243.3 L162.5,243.3 L162.8,243.3 L163.1,243.3 L163.4,243.3 L163.7,243.3 L164.0,243.4 L164.3,243.4 L164.7,243.4 L165.0,243.4 L165.3,243.4 L165.6,243.5 L165.9,243.5 L166.2,243.5 L166.5,243.5 L166.9,243.5 L167.2,243.6 L167.5,243.6 L167.8,243.6 L168.1,243.6 L168.4,243.6 L168.7,243.6 L169.1,243.7 L169.4,243.7 L169.7,243.7 L170.0,243.7 L170.3,243.7 L170.6,243.8 L170.9,243.8" fill="none" stroke="#303890" stroke-width="0.9" stroke-linejoin="round" stroke-linecap="round" />
<text x="162.40" y="163.60" font-size="5.4" text-anchor="start" font-weight="bold" fill="#111" stroke="#111" stroke-width="0.18" font-family="'Liberation Serif', serif" >Ti2p</text>
<text x="95.70" y="200.80" font-size="5.5" text-anchor="start" font-weight="bold" fill="#111" stroke="#111" stroke-width="0.18" font-family="'Liberation Serif', serif" >Ti-O-Ti</text>
<line x1="94.9" y1="201.8" x2="85.3" y2="222.2" stroke="#222" stroke-width="0.6"/>
<line x1="115.9" y1="200.9" x2="129.8" y2="209.6" stroke="#222" stroke-width="0.6"/>
<text x="103.00" y="232.40" font-size="5.3" text-anchor="start" font-weight="bold" fill="#111" stroke="#111" stroke-width="0.18" font-family="'Liberation Serif', serif" >Ti-O-C</text>
<line x1="114.6" y1="233.3" x2="116.6" y2="239" stroke="#222" stroke-width="0.6"/>
<rect x="217.60" y="154.30" width="143.00" height="104.80" fill="none" stroke="#6a6a6a" stroke-width="1.1"/>
<path d="M217.60,259.10 v-2.20 M243.64,259.10 v-2.20 M269.68,259.10 v-2.20 M295.72,259.10 v-2.20 M321.76,259.10 v-2.20 M347.80,259.10 v-2.20 M230.62,259.10 v-1.30 M256.66,259.10 v-1.30 M282.70,259.10 v-1.30 M308.74,259.10 v-1.30 M334.78,259.10 v-1.30" stroke="#6a6a6a" stroke-width="0.8" fill="none"/>
<text x="217.60" y="266.20" font-size="6" text-anchor="middle" font-weight="bold" fill="#111" stroke="#111" stroke-width="0.18" font-family="'Liberation Serif', serif" >536</text>
<text x="243.64" y="266.20" font-size="6" text-anchor="middle" font-weight="bold" fill="#111" stroke="#111" stroke-width="0.18" font-family="'Liberation Serif', serif" >534</text>
<text x="269.68" y="266.20" font-size="6" text-anchor="middle" font-weight="bold" fill="#111" stroke="#111" stroke-width="0.18" font-family="'Liberation Serif', serif" >532</text>
<text x="295.72" y="266.20" font-size="6" text-anchor="middle" font-weight="bold" fill="#111" stroke="#111" stroke-width="0.18" font-family="'Liberation Serif', serif" >530</text>
<text x="321.76" y="266.20" font-size="6" text-anchor="middle" font-weight="bold" fill="#111" stroke="#111" stroke-width="0.18" font-family="'Liberation Serif', serif" >528</text>
<text x="347.80" y="266.20" font-size="6" text-anchor="middle" font-weight="bold" fill="#111" stroke="#111" stroke-width="0.18" font-family="'Liberation Serif', serif" >526</text>
<path d="M217.60,240.00 h2.20 M217.60,220.80 h2.20 M217.60,201.60 h2.20 M217.60,182.40 h2.20 M217.60,163.20 h2.20 M217.60,249.60 h1.30 M217.60,230.40 h1.30 M217.60,211.20 h1.30 M217.60,192.00 h1.30 M217.60,172.80 h1.30 M217.60,153.60 h1.30" stroke="#6a6a6a" stroke-width="0.8" fill="none"/>
<text x="215.20" y="242.30" font-size="6.2" text-anchor="end" font-weight="bold" fill="#111" stroke="#111" stroke-width="0.18" font-family="'Liberation Serif', serif" >20000</text>
<text x="215.20" y="223.10" font-size="6.2" text-anchor="end" font-weight="bold" fill="#111" stroke="#111" stroke-width="0.18" font-family="'Liberation Serif', serif" >40000</text>
<text x="215.20" y="203.90" font-size="6.2" text-anchor="end" font-weight="bold" fill="#111" stroke="#111" stroke-width="0.18" font-family="'Liberation Serif', serif" >60000</text>
<text x="215.20" y="184.70" font-size="6.2" text-anchor="end" font-weight="bold" fill="#111" stroke="#111" stroke-width="0.18" font-family="'Liberation Serif', serif" >80000</text>
<text x="215.20" y="165.50" font-size="6.2" text-anchor="end" font-weight="bold" fill="#111" stroke="#111" stroke-width="0.18" font-family="'Liberation Serif', serif" >100000</text>
<text x="258.50" y="277.80" font-size="7.4" text-anchor="start" font-weight="bold" fill="#111" stroke="#111" stroke-width="0.18" font-family="'Liberation Serif', serif" textLength="61.6" lengthAdjust="spacingAndGlyphs">Binding energy (eV)</text>
<text x="0" y="0" transform="translate(191.60,210.00) rotate(-90)" font-size="7.0" text-anchor="middle" font-weight="bold" fill="#111" stroke="#111" stroke-width="0.18" font-family="'Liberation Serif', serif" textLength="39.0" lengthAdjust="spacingAndGlyphs">Counts (a.u.)</text>
<text x="292.90" y="296.40" font-size="8.7" text-anchor="middle" font-weight="normal" fill="#222" stroke="#222" stroke-width="0.18" font-family="'Liberation Serif', serif" >(d)</text>
<path d="M224.1,241.4 L224.4,241.4 L224.7,241.4 L225.1,241.4 L225.4,241.4 L225.7,241.4 L226.0,241.5 L226.3,241.5 L226.7,241.5 L227.0,241.5 L227.3,241.5 L227.6,241.5 L227.9,241.5 L228.3,241.5 L228.6,241.5 L228.9,241.5 L229.2,241.5 L229.5,241.5 L229.9,241.5 L230.2,241.6 L230.5,241.6 L230.8,241.6 L231.1,241.6 L231.4,241.6 L231.8,241.6 L232.1,241.6 L232.4,241.6 L232.7,241.6 L233.0,241.6 L233.4,241.6 L233.7,241.6 L234.0,241.7 L234.3,241.7 L234.6,241.7 L235.0,241.7 L235.3,241.7 L235.6,241.7 L235.9,241.7 L236.2,241.7 L236.6,241.7 L236.9,241.7 L237.2,241.7 L237.5,241.7 L237.8,241.8 L238.1,241.8 L238.5,241.8 L238.8,241.8 L239.1,241.8 L239.4,241.8 L239.7,241.8 L240.1,241.8 L240.4,241.8 L240.7,241.8 L241.0,241.8 L241.3,241.8 L241.7,241.9 L242.0,241.9 L242.3,241.9 L242.6,241.9 L242.9,241.9 L243.2,241.9 L243.6,241.9 L243.9,241.9 L244.2,241.9 L244.5,241.9 L244.8,241.9 L245.2,241.9 L245.5,242.0 L245.8,242.0 L246.1,242.0 L246.4,242.0 L246.8,242.0 L247.1,242.0 L247.4,242.0 L247.7,242.0 L248.0,242.0 L248.4,242.0 L248.7,242.0 L249.0,242.0 L249.3,242.1 L249.6,242.1 L249.9,242.1 L250.3,242.1 L250.6,242.1 L250.9,242.1 L251.2,242.1 L251.5,242.1 L251.9,242.1 L252.2,242.1 L252.5,242.1 L252.8,242.1 L253.1,242.2 L253.5,242.2 L253.8,242.2 L254.1,242.2 L254.4,242.2 L254.7,242.2 L255.1,242.2 L255.4,242.2 L255.7,242.2 L256.0,242.2 L256.3,242.2 L256.6,242.2 L257.0,242.3 L257.3,242.3 L257.6,242.3 L257.9,242.3 L258.2,242.3 L258.6,242.3 L258.9,242.3 L259.2,242.3 L259.5,242.3 L259.8,242.3 L260.2,242.3 L260.5,242.3 L260.8,242.3 L261.1,242.4 L261.4,242.4 L261.8,242.4 L262.1,242.4 L262.4,242.4 L262.7,242.4 L263.0,242.4 L263.3,242.4 L263.7,242.4 L264.0,242.4 L264.3,242.4 L264.6,242.4 L264.9,242.5 L265.3,242.5 L265.6,242.5 L265.9,242.5 L266.2,242.5 L266.5,242.5 L266.9,242.5 L267.2,242.5 L267.5,242.5 L267.8,242.5 L268.1,242.5 L268.4,242.5 L268.8,242.6 L269.1,242.6 L269.4,242.6 L269.7,242.6 L270.0,242.6 L270.4,242.6 L270.7,242.6 L271.0,242.6 L271.3,242.6 L271.6,242.6 L272.0,242.6 L272.3,242.6 L272.6,242.7 L272.9,242.7 L273.2,242.7 L273.6,242.7 L273.9,242.7 L274.2,242.7 L274.5,242.7 L274.8,242.7 L275.1,242.7 L275.5,242.7 L275.8,242.7 L276.1,242.7 L276.4,242.8 L276.7,242.8 L277.1,242.8 L277.4,242.8 L277.7,242.8 L278.0,242.8 L278.3,242.8 L278.7,242.8 L279.0,242.8 L279.3,242.8 L279.6,242.8 L279.9,242.8 L280.3,242.9 L280.6,242.9 L280.9,242.9 L281.2,242.9 L281.5,242.9 L281.8,242.9 L282.2,242.9 L282.5,242.9 L282.8,242.9 L283.1,242.9 L283.4,242.9 L283.8,242.9 L284.1,243.0 L284.4,243.0 L284.7,243.0 L285.0,243.0 L285.4,243.0 L285.7,243.0 L286.0,243.0 L286.3,243.0 L286.6,243.0 L287.0,243.0 L287.3,243.0 L287.6,243.0 L287.9,243.0 L288.2,243.1 L288.5,243.1 L288.9,243.1 L289.2,243.1 L289.5,243.1 L289.8,243.1 L290.1,243.1 L290.5,243.1 L290.8,243.1 L291.1,243.1 L291.4,243.1 L291.7,243.1 L292.1,243.2 L292.4,243.2 L292.7,243.2 L293.0,243.2 L293.3,243.2 L293.6,243.2 L294.0,243.2 L294.3,243.2 L294.6,243.2 L294.9,243.2 L295.2,243.2 L295.6,243.2 L295.9,243.3 L296.2,243.3 L296.5,243.3 L296.8,243.3 L297.2,243.3 L297.5,243.3 L297.8,243.3 L298.1,243.3 L298.4,243.3 L298.8,243.3 L299.1,243.3 L299.4,243.3 L299.7,243.4 L300.0,243.4 L300.3,243.4 L300.7,243.4 L301.0,243.4 L301.3,243.4 L301.6,243.4 L301.9,243.4 L302.3,243.4 L302.6,243.4 L302.9,243.4 L303.2,243.4 L303.5,243.5 L303.9,243.5 L304.2,243.5 L304.5,243.5 L304.8,243.5 L305.1,243.5 L305.5,243.5 L305.8,243.5 L306.1,243.5 L306.4,243.5 L306.7,243.5 L307.0,243.5 L307.4,243.6 L307.7,243.6 L308.0,243.6 L308.3,243.6 L308.6,243.6 L309.0,243.6 L309.3,243.6 L309.6,243.6 L309.9,243.6 L310.2,243.6 L310.6,243.6 L310.9,243.6 L311.2,243.7 L311.5,243.7 L311.8,243.7 L312.2,243.7 L312.5,243.7 L312.8,243.7 L313.1,243.7 L313.4,243.7 L313.7,243.7 L314.1,243.7 L314.4,243.7 L314.7,243.7 L315.0,243.7 L315.3,243.8 L315.7,243.8 L316.0,243.8 L316.3,243.8 L316.6,243.8 L316.9,243.8 L317.3,243.8 L317.6,243.8 L317.9,243.8 L318.2,243.8 L318.5,243.8 L318.9,243.8 L319.2,243.9 L319.5,243.9 L319.8,243.9 L320.1,243.9 L320.4,243.9 L320.8,243.9 L321.1,243.9 L321.4,243.9 L321.7,243.9 L322.0,243.9 L322.4,243.9 L322.7,243.9 L323.0,244.0 L323.3,244.0 L323.6,244.0 L324.0,244.0 L324.3,244.0 L324.6,244.0 L324.9,244.0 L325.2,244.0 L325.5,244.0 L325.9,244.0 L326.2,244.0 L326.5,244.0 L326.8,244.1 L327.1,244.1 L327.5,244.1 L327.8,244.1 L328.1,244.1 L328.4,244.1 L328.7,244.1 L329.1,244.1 L329.4,244.1 L329.7,244.1 L330.0,244.1 L330.3,244.1 L330.7,244.2 L331.0,244.2 L331.3,244.2 L331.6,244.2 L331.9,244.2 L332.2,244.2 L332.6,244.2 L332.9,244.2 L333.2,244.2 L333.5,244.2 L333.8,244.2 L334.2,244.2 L334.5,244.3 L334.8,244.3 L335.1,244.3 L335.4,244.3 L335.8,244.3 L336.1,244.3 L336.4,244.3 L336.7,244.3 L337.0,244.3 L337.4,244.3 L337.7,244.3 L338.0,244.3 L338.3,244.4 L338.6,244.4 L338.9,244.4 L339.3,244.4 L339.6,244.4 L339.9,244.4 L340.2,244.4 L340.5,244.4 L340.9,244.4 L341.2,244.4 L341.5,244.4 L341.8,244.4 L342.1,244.5 L342.5,244.5 L342.8,244.5 L343.1,244.5 L343.4,244.5 L343.7,244.5 L344.1,244.5 L344.4,244.5 L344.7,244.5 L345.0,244.5 L345.3,244.5 L345.6,244.5 L346.0,244.5 L346.3,244.6 L346.6,244.6 L346.9,244.6 L347.2,244.6 L347.6,244.6 L347.9,244.6 L348.2,244.6 L348.5,244.6 L348.8,244.6 L349.2,244.6 L349.5,244.6 L349.8,244.6 L350.1,244.7 L350.4,244.7 L350.7,244.7 L351.1,244.7 L351.4,244.7 L351.7,244.7" fill="none" stroke="#4848d0" stroke-width="0.9" stroke-linejoin="round" stroke-linecap="round" />
<path d="M224.1,240.9 L224.4,240.9 L224.7,240.9 L225.1,240.9 L225.4,240.9 L225.7,240.9 L226.0,240.9 L226.3,240.9 L226.7,240.9 L227.0,240.9 L227.3,240.9 L227.6,240.9 L227.9,240.9 L228.3,240.9 L228.6,240.9 L228.9,240.9 L229.2,240.8 L229.5,240.8 L229.9,240.8 L230.2,240.8 L230.5,240.8 L230.8,240.8 L231.1,240.8 L231.4,240.8 L231.8,240.7 L232.1,240.7 L232.4,240.7 L232.7,240.7 L233.0,240.7 L233.4,240.6 L233.7,240.6 L234.0,240.6 L234.3,240.6 L234.6,240.5 L235.0,240.5 L235.3,240.5 L235.6,240.4 L235.9,240.4 L236.2,240.4 L236.6,240.3 L236.9,240.3 L237.2,240.2 L237.5,240.2 L237.8,240.2 L238.1,240.1 L238.5,240.1 L238.8,240.0 L239.1,239.9 L239.4,239.9 L239.7,239.8 L240.1,239.8 L240.4,239.7 L240.7,239.6 L241.0,239.6 L241.3,239.5 L241.7,239.4 L242.0,239.3 L242.3,239.3 L242.6,239.2 L242.9,239.1 L243.2,239.0 L243.6,238.9 L243.9,238.8 L244.2,238.7 L244.5,238.6 L244.8,238.5 L245.2,238.4 L245.5,238.3 L245.8,238.2 L246.1,238.1 L246.4,238.0 L246.8,237.9 L247.1,237.8 L247.4,237.6 L247.7,237.5 L248.0,237.4 L248.4,237.3 L248.7,237.1 L249.0,237.0 L249.3,236.9 L249.6,236.8 L249.9,236.6 L250.3,236.5 L250.6,236.4 L250.9,236.2 L251.2,236.1 L251.5,236.0 L251.9,235.8 L252.2,235.7 L252.5,235.6 L252.8,235.4 L253.1,235.3 L253.5,235.1 L253.8,235.0 L254.1,234.9 L254.4,234.7 L254.7,234.6 L255.1,234.5 L255.4,234.4 L255.7,234.2 L256.0,234.1 L256.3,234.0 L256.6,233.9 L257.0,233.7 L257.3,233.6 L257.6,233.5 L257.9,233.4 L258.2,233.3 L258.6,233.2 L258.9,233.1 L259.2,233.0 L259.5,232.9 L259.8,232.8 L260.2,232.7 L260.5,232.6 L260.8,232.6 L261.1,232.5 L261.4,232.4 L261.8,232.4 L262.1,232.3 L262.4,232.2 L262.7,232.2 L263.0,232.1 L263.3,232.1 L263.7,232.1 L264.0,232.0 L264.3,232.0 L264.6,232.0 L264.9,232.0 L265.3,231.9 L265.6,231.9 L265.9,231.9 L266.2,231.9 L266.5,231.9 L266.9,231.9 L267.2,231.9 L267.5,232.0 L267.8,232.0 L268.1,232.0 L268.4,232.0 L268.8,232.1 L269.1,232.1 L269.4,232.1 L269.7,232.2 L270.0,232.2 L270.4,232.2 L270.7,232.3 L271.0,232.3 L271.3,232.4 L271.6,232.4 L272.0,232.5 L272.3,232.5 L272.6,232.5 L272.9,232.6 L273.2,232.6 L273.6,232.7 L273.9,232.7 L274.2,232.7 L274.5,232.8 L274.8,232.8 L275.1,232.8 L275.5,232.8 L275.8,232.9 L276.1,232.9 L276.4,232.9 L276.7,232.9 L277.1,232.8 L277.4,232.8 L277.7,232.8 L278.0,232.7 L278.3,232.6 L278.7,232.6 L279.0,232.5 L279.3,232.3 L279.6,232.2 L279.9,232.1 L280.3,231.9 L280.6,231.7 L280.9,231.5 L281.2,231.2 L281.5,230.9 L281.8,230.6 L282.2,230.3 L282.5,229.9 L282.8,229.5 L283.1,229.1 L283.4,228.6 L283.8,228.1 L284.1,227.5 L284.4,226.9 L284.7,226.3 L285.0,225.6 L285.4,224.8 L285.7,224.0 L286.0,223.2 L286.3,222.3 L286.6,221.3 L287.0,220.3 L287.3,219.3 L287.6,218.2 L287.9,217.0 L288.2,215.8 L288.5,214.5 L288.9,213.2 L289.2,211.8 L289.5,210.4 L289.8,208.9 L290.1,207.4 L290.5,205.8 L290.8,204.2 L291.1,202.5 L291.4,200.8 L291.7,199.1 L292.1,197.3 L292.4,195.5 L292.7,193.7 L293.0,191.9 L293.3,190.0 L293.6,188.2 L294.0,186.3 L294.3,184.5 L294.6,182.7 L294.9,180.9 L295.2,179.1 L295.6,177.4 L295.9,175.7 L296.2,174.1 L296.5,172.6 L296.8,171.1 L297.2,169.7 L297.5,168.5 L297.8,167.3 L298.1,166.3 L298.4,165.4 L298.8,164.7 L299.1,164.1 L299.4,163.6 L299.7,163.4 L300.0,163.2 L300.3,163.3 L300.7,163.6 L301.0,164.1 L301.3,164.8 L301.6,165.8 L301.9,166.9 L302.3,168.3 L302.6,169.9 L302.9,171.6 L303.2,173.5 L303.5,175.5 L303.9,177.6 L304.2,179.9 L304.5,182.3 L304.8,184.7 L305.1,187.2 L305.5,189.7 L305.8,192.3 L306.1,194.9 L306.4,197.4 L306.7,200.0 L307.0,202.5 L307.4,205.0 L307.7,207.4 L308.0,209.8 L308.3,212.1 L308.6,214.3 L309.0,216.5 L309.3,218.5 L309.6,220.5 L309.9,222.3 L310.2,224.1 L310.6,225.7 L310.9,227.3 L311.2,228.8 L311.5,230.1 L311.8,231.4 L312.2,232.6 L312.5,233.7 L312.8,234.7 L313.1,235.6 L313.4,236.4 L313.7,237.2 L314.1,237.9 L314.4,238.5 L314.7,239.1 L315.0,239.6 L315.3,240.1 L315.7,240.5 L316.0,240.9 L316.3,241.2 L316.6,241.5 L316.9,241.7 L317.3,242.0 L317.6,242.2 L317.9,242.4 L318.2,242.5 L318.5,242.7 L318.9,242.8 L319.2,242.9 L319.5,243.0 L319.8,243.1 L320.1,243.2 L320.4,243.2 L320.8,243.3 L321.1,243.3 L321.4,243.4 L321.7,243.4 L322.0,243.5 L322.4,243.5 L322.7,243.5 L323.0,243.6 L323.3,243.6 L323.6,243.6 L324.0,243.6 L324.3,243.7 L324.6,243.7 L324.9,243.7 L325.2,243.7 L325.5,243.7 L325.9,243.7 L326.2,243.8 L326.5,243.8 L326.8,243.8 L327.1,243.8 L327.5,243.8 L327.8,243.8 L328.1,243.8 L328.4,243.9 L328.7,243.9 L329.1,243.9 L329.4,243.9 L329.7,243.9 L330.0,243.9 L330.3,243.9 L330.7,244.0 L331.0,244.0 L331.3,244.0 L331.6,244.0 L331.9,244.0 L332.2,244.0 L332.6,244.0 L332.9,244.0 L333.2,244.0 L333.5,244.1 L333.8,244.1 L334.2,244.1 L334.5,244.1 L334.8,244.1 L335.1,244.1 L335.4,244.1 L335.8,244.1 L336.1,244.1 L336.4,244.2 L336.7,244.2 L337.0,244.2 L337.4,244.2 L337.7,244.2 L338.0,244.2 L338.3,244.2 L338.6,244.2 L338.9,244.2 L339.3,244.3 L339.6,244.3 L339.9,244.3 L340.2,244.3 L340.5,244.3 L340.9,244.3 L341.2,244.3 L341.5,244.3 L341.8,244.3 L342.1,244.3 L342.5,244.4 L342.8,244.4 L343.1,244.4 L343.4,244.4 L343.7,244.4 L344.1,244.4 L344.4,244.4 L344.7,244.4 L345.0,244.4 L345.3,244.4 L345.6,244.4 L346.0,244.5 L346.3,244.5 L346.6,244.5 L346.9,244.5 L347.2,244.5 L347.6,244.5 L347.9,244.5 L348.2,244.5 L348.5,244.5 L348.8,244.5 L349.2,244.6 L349.5,244.6 L349.8,244.6 L350.1,244.6 L350.4,244.6 L350.7,244.6 L351.1,244.6 L351.4,244.6 L351.7,244.6" fill="none" stroke="#333" stroke-width="0.8" stroke-linejoin="round" stroke-linecap="round" />
<path d="M224.1,241.0 L224.4,241.0 L224.7,241.0 L225.1,241.0 L225.4,241.0 L225.7,241.0 L226.0,241.0 L226.3,241.0 L226.7,241.0 L227.0,241.0 L227.3,241.0 L227.6,240.9 L227.9,240.9 L228.3,240.9 L228.6,240.9 L228.9,240.9 L229.2,240.9 L229.5,240.9 L229.9,240.9 L230.2,240.9 L230.5,240.9 L230.8,240.9 L231.1,240.9 L231.4,240.8 L231.8,240.8 L232.1,240.8 L232.4,240.8 L232.7,240.8 L233.0,240.7 L233.4,240.7 L233.7,240.7 L234.0,240.7 L234.3,240.6 L234.6,240.6 L235.0,240.6 L235.3,240.6 L235.6,240.5 L235.9,240.5 L236.2,240.5 L236.6,240.4 L236.9,240.4 L237.2,240.3 L237.5,240.3 L237.8,240.2 L238.1,240.2 L238.5,240.1 L238.8,240.1 L239.1,240.0 L239.4,240.0 L239.7,239.9 L240.1,239.9 L240.4,239.8 L240.7,239.7 L241.0,239.7 L241.3,239.6 L241.7,239.5 L242.0,239.4 L242.3,239.4 L242.6,239.3 L242.9,239.2 L243.2,239.1 L243.6,239.0 L243.9,238.9 L244.2,238.8 L244.5,238.7 L244.8,238.6 L245.2,238.5 L245.5,238.4 L245.8,238.3 L246.1,238.2 L246.4,238.1 L246.8,238.0 L247.1,237.9 L247.4,237.8 L247.7,237.6 L248.0,237.5 L248.4,237.4 L248.7,237.3 L249.0,237.1 L249.3,237.0 L249.6,236.9 L249.9,236.8 L250.3,236.6 L250.6,236.5 L250.9,236.4 L251.2,236.2 L251.5,236.1 L251.9,236.0 L252.2,235.8 L252.5,235.7 L252.8,235.6 L253.1,235.4 L253.5,235.3 L253.8,235.2 L254.1,235.0 L254.4,234.9 L254.7,234.8 L255.1,234.6 L255.4,234.5 L255.7,234.4 L256.0,234.3 L256.3,234.2 L256.6,234.0 L257.0,233.9 L257.3,233.8 L257.6,233.7 L257.9,233.6 L258.2,233.5 L258.6,233.4 L258.9,233.3 L259.2,233.2 L259.5,233.1 L259.8,233.0 L260.2,232.9 L260.5,232.8 L260.8,232.8 L261.1,232.7 L261.4,232.6 L261.8,232.6 L262.1,232.5 L262.4,232.5 L262.7,232.4 L263.0,232.4 L263.3,232.3 L263.7,232.3 L264.0,232.3 L264.3,232.2 L264.6,232.2 L264.9,232.2 L265.3,232.2 L265.6,232.2 L265.9,232.2 L266.2,232.2 L266.5,232.2 L266.9,232.2 L267.2,232.2 L267.5,232.2 L267.8,232.3 L268.1,232.3 L268.4,232.3 L268.8,232.3 L269.1,232.4 L269.4,232.4 L269.7,232.5 L270.0,232.5 L270.4,232.6 L270.7,232.6 L271.0,232.7 L271.3,232.7 L271.6,232.8 L272.0,232.8 L272.3,232.9 L272.6,232.9 L272.9,233.0 L273.2,233.0 L273.6,233.1 L273.9,233.2 L274.2,233.2 L274.5,233.3 L274.8,233.3 L275.1,233.3 L275.5,233.4 L275.8,233.4 L276.1,233.4 L276.4,233.5 L276.7,233.5 L277.1,233.5 L277.4,233.5 L277.7,233.5 L278.0,233.5 L278.3,233.4 L278.7,233.4 L279.0,233.3 L279.3,233.2 L279.6,233.2 L279.9,233.1 L280.3,232.9 L280.6,232.8 L280.9,232.6 L281.2,232.4 L281.5,232.2 L281.8,231.9 L282.2,231.6 L282.5,231.3 L282.8,231.0 L283.1,230.6 L283.4,230.2 L283.8,229.7 L284.1,229.2 L284.4,228.6 L284.7,228.0 L285.0,227.4 L285.4,226.7 L285.7,225.9 L286.0,225.1 L286.3,224.3 L286.6,223.3 L287.0,222.3 L287.3,221.3 L287.6,220.2 L287.9,219.0 L288.2,217.8 L288.5,216.5 L288.9,215.1 L289.2,213.7 L289.5,212.2 L289.8,210.6 L290.1,209.0 L290.5,207.4 L290.8,205.6 L291.1,203.9 L291.4,202.0 L291.7,200.2 L292.1,198.3 L292.4,196.3 L292.7,194.4 L293.0,192.4 L293.3,190.4 L293.6,188.4 L294.0,186.4 L294.3,184.4 L294.6,182.4 L294.9,180.4 L295.2,178.5 L295.6,176.7 L295.9,174.9 L296.2,173.2 L296.5,171.6 L296.8,170.1 L297.2,168.8 L297.5,167.5 L297.8,166.4 L298.1,165.5 L298.4,164.7 L298.8,164.1 L299.1,163.7 L299.4,163.5 L299.7,163.5 L300.0,163.7 L300.3,164.1 L300.7,164.7 L301.0,165.5 L301.3,166.5 L301.6,167.7 L301.9,169.0 L302.3,170.5 L302.6,172.2 L302.9,174.0 L303.2,175.9 L303.5,177.8 L303.9,179.9 L304.2,182.1 L304.5,184.3 L304.8,186.5 L305.1,188.8 L305.5,191.1 L305.8,193.3 L306.1,195.6 L306.4,197.9 L306.7,200.1 L307.0,202.3 L307.4,204.5 L307.7,206.6 L308.0,208.7 L308.3,210.7 L308.6,212.6 L309.0,214.5 L309.3,216.3 L309.6,218.0 L309.9,219.7 L310.2,221.3 L310.6,222.8 L310.9,224.2 L311.2,225.5 L311.5,226.8 L311.8,228.0 L312.2,229.1 L312.5,230.2 L312.8,231.1 L313.1,232.1 L313.4,232.9 L313.7,233.7 L314.1,234.4 L314.4,235.1 L314.7,235.7 L315.0,236.3 L315.3,236.8 L315.7,237.3 L316.0,237.8 L316.3,238.2 L316.6,238.6 L316.9,238.9 L317.3,239.2 L317.6,239.5 L317.9,239.8 L318.2,240.0 L318.5,240.2 L318.9,240.4 L319.2,240.6 L319.5,240.8 L319.8,240.9 L320.1,241.1 L320.4,241.2 L320.8,241.3 L321.1,241.4 L321.4,241.5 L321.7,241.6 L322.0,241.7 L322.4,241.8 L322.7,241.9 L323.0,242.0 L323.3,242.0 L323.6,242.1 L324.0,242.2 L324.3,242.2 L324.6,242.3 L324.9,242.3 L325.2,242.4 L325.5,242.4 L325.9,242.5 L326.2,242.5 L326.5,242.6 L326.8,242.6 L327.1,242.6 L327.5,242.7 L327.8,242.7 L328.1,242.8 L328.4,242.8 L328.7,242.8 L329.1,242.9 L329.4,242.9 L329.7,242.9 L330.0,243.0 L330.3,243.0 L330.7,243.0 L331.0,243.1 L331.3,243.1 L331.6,243.1 L331.9,243.1 L332.2,243.2 L332.6,243.2 L332.9,243.2 L333.2,243.2 L333.5,243.3 L333.8,243.3 L334.2,243.3 L334.5,243.3 L334.8,243.4 L335.1,243.4 L335.4,243.4 L335.8,243.4 L336.1,243.5 L336.4,243.5 L336.7,243.5 L337.0,243.5 L337.4,243.5 L337.7,243.6 L338.0,243.6 L338.3,243.6 L338.6,243.6 L338.9,243.6 L339.3,243.7 L339.6,243.7 L339.9,243.7 L340.2,243.7 L340.5,243.7 L340.9,243.8 L341.2,243.8 L341.5,243.8 L341.8,243.8 L342.1,243.8 L342.5,243.8 L342.8,243.9 L343.1,243.9 L343.4,243.9 L343.7,243.9 L344.1,243.9 L344.4,243.9 L344.7,244.0 L345.0,244.0 L345.3,244.0 L345.6,244.0 L346.0,244.0 L346.3,244.0 L346.6,244.1 L346.9,244.1 L347.2,244.1 L347.6,244.1 L347.9,244.1 L348.2,244.1 L348.5,244.1 L348.8,244.2 L349.2,244.2 L349.5,244.2 L349.8,244.2 L350.1,244.2 L350.4,244.2 L350.7,244.2 L351.1,244.3 L351.4,244.3 L351.7,244.3" fill="none" stroke="#e03838" stroke-width="1.0" stroke-linejoin="round" stroke-linecap="round" />
<path d="M224.1,241.0 L224.4,241.0 L224.7,241.0 L225.1,241.0 L225.4,241.0 L225.7,241.0 L226.0,241.1 L226.3,241.1 L226.7,241.1 L227.0,241.1 L227.3,241.1 L227.6,241.1 L227.9,241.1 L228.3,241.1 L228.6,241.1 L228.9,241.1 L229.2,241.1 L229.5,241.1 L229.9,241.1 L230.2,241.1 L230.5,241.1 L230.8,241.1 L231.1,241.1 L231.4,241.1 L231.8,241.1 L232.1,241.1 L232.4,241.1 L232.7,241.1 L233.0,241.1 L233.4,241.2 L233.7,241.2 L234.0,241.2 L234.3,241.2 L234.6,241.2 L235.0,241.2 L235.3,241.2 L235.6,241.2 L235.9,241.2 L236.2,241.2 L236.6,241.2 L236.9,241.2 L237.2,241.2 L237.5,241.2 L237.8,241.2 L238.1,241.2 L238.5,241.2 L238.8,241.2 L239.1,241.2 L239.4,241.2 L239.7,241.2 L240.1,241.2 L240.4,241.2 L240.7,241.2 L241.0,241.2 L241.3,241.2 L241.7,241.2 L242.0,241.2 L242.3,241.2 L242.6,241.2 L242.9,241.2 L243.2,241.2 L243.6,241.2 L243.9,241.2 L244.2,241.2 L244.5,241.2 L244.8,241.2 L245.2,241.2 L245.5,241.2 L245.8,241.2 L246.1,241.2 L246.4,241.2 L246.8,241.2 L247.1,241.2 L247.4,241.2 L247.7,241.2 L248.0,241.2 L248.4,241.2 L248.7,241.2 L249.0,241.2 L249.3,241.2 L249.6,241.2 L249.9,241.2 L250.3,241.2 L250.6,241.2 L250.9,241.2 L251.2,241.2 L251.5,241.2 L251.9,241.2 L252.2,241.2 L252.5,241.2 L252.8,241.2 L253.1,241.2 L253.5,241.2 L253.8,241.2 L254.1,241.2 L254.4,241.2 L254.7,241.1 L255.1,241.1 L255.4,241.1 L255.7,241.1 L256.0,241.1 L256.3,241.1 L256.6,241.1 L257.0,241.1 L257.3,241.1 L257.6,241.1 L257.9,241.1 L258.2,241.1 L258.6,241.0 L258.9,241.0 L259.2,241.0 L259.5,241.0 L259.8,241.0 L260.2,241.0 L260.5,241.0 L260.8,241.0 L261.1,241.0 L261.4,240.9 L261.8,240.9 L262.1,240.9 L262.4,240.9 L262.7,240.9 L263.0,240.9 L263.3,240.8 L263.7,240.8 L264.0,240.8 L264.3,240.8 L264.6,240.8 L264.9,240.7 L265.3,240.7 L265.6,240.7 L265.9,240.7 L266.2,240.6 L266.5,240.6 L266.9,240.6 L267.2,240.6 L267.5,240.5 L267.8,240.5 L268.1,240.5 L268.4,240.5 L268.8,240.4 L269.1,240.4 L269.4,240.3 L269.7,240.3 L270.0,240.3 L270.4,240.2 L270.7,240.2 L271.0,240.1 L271.3,240.1 L271.6,240.1 L272.0,240.0 L272.3,240.0 L272.6,239.9 L272.9,239.8 L273.2,239.8 L273.6,239.7 L273.9,239.7 L274.2,239.6 L274.5,239.5 L274.8,239.4 L275.1,239.3 L275.5,239.3 L275.8,239.2 L276.1,239.1 L276.4,239.0 L276.7,238.8 L277.1,238.7 L277.4,238.6 L277.7,238.5 L278.0,238.3 L278.3,238.1 L278.7,238.0 L279.0,237.8 L279.3,237.6 L279.6,237.4 L279.9,237.1 L280.3,236.9 L280.6,236.6 L280.9,236.3 L281.2,236.0 L281.5,235.7 L281.8,235.3 L282.2,234.9 L282.5,234.5 L282.8,234.0 L283.1,233.5 L283.4,233.0 L283.8,232.4 L284.1,231.8 L284.4,231.1 L284.7,230.4 L285.0,229.7 L285.4,228.9 L285.7,228.1 L286.0,227.2 L286.3,226.2 L286.6,225.2 L287.0,224.1 L287.3,223.0 L287.6,221.8 L287.9,220.6 L288.2,219.3 L288.5,217.9 L288.9,216.5 L289.2,215.0 L289.5,213.4 L289.8,211.8 L290.1,210.1 L290.5,208.4 L290.8,206.6 L291.1,204.8 L291.4,203.0 L291.7,201.0 L292.1,199.1 L292.4,197.1 L292.7,195.1 L293.0,193.1 L293.3,191.0 L293.6,189.0 L294.0,186.9 L294.3,184.9 L294.6,182.9 L294.9,180.9 L295.2,179.0 L295.6,177.1 L295.9,175.3 L296.2,173.6 L296.5,172.0 L296.8,170.5 L297.2,169.1 L297.5,167.8 L297.8,166.7 L298.1,165.8 L298.4,165.0 L298.8,164.4 L299.1,163.9 L299.4,163.7 L299.7,163.7 L300.0,163.9 L300.3,164.2 L300.7,164.8 L301.0,165.6 L301.3,166.6 L301.6,167.8 L301.9,169.1 L302.3,170.6 L302.6,172.3 L302.9,174.0 L303.2,175.9 L303.5,177.9 L303.9,180.0 L304.2,182.1 L304.5,184.3 L304.8,186.6 L305.1,188.8 L305.5,191.1 L305.8,193.4 L306.1,195.7 L306.4,197.9 L306.7,200.2 L307.0,202.4 L307.4,204.5 L307.7,206.7 L308.0,208.7 L308.3,210.7 L308.6,212.7 L309.0,214.5 L309.3,216.3 L309.6,218.1 L309.9,219.7 L310.2,221.3 L310.6,222.8 L310.9,224.2 L311.2,225.5 L311.5,226.8 L311.8,228.0 L312.2,229.1 L312.5,230.2 L312.8,231.2 L313.1,232.1 L313.4,232.9 L313.7,233.7 L314.1,234.4 L314.4,235.1 L314.7,235.7 L315.0,236.3 L315.3,236.8 L315.7,237.3 L316.0,237.8 L316.3,238.2 L316.6,238.6 L316.9,238.9 L317.3,239.2 L317.6,239.5 L317.9,239.8 L318.2,240.0 L318.5,240.2 L318.9,240.4 L319.2,240.6 L319.5,240.8 L319.8,240.9 L320.1,241.1 L320.4,241.2 L320.8,241.3 L321.1,241.4 L321.4,241.5 L321.7,241.6 L322.0,241.7 L322.4,241.8 L322.7,241.9 L323.0,242.0 L323.3,242.0 L323.6,242.1 L324.0,242.2 L324.3,242.2 L324.6,242.3 L324.9,242.3 L325.2,242.4 L325.5,242.4 L325.9,242.5 L326.2,242.5 L326.5,242.6 L326.8,242.6 L327.1,242.6 L327.5,242.7 L327.8,242.7 L328.1,242.8 L328.4,242.8 L328.7,242.8 L329.1,242.9 L329.4,242.9 L329.7,242.9 L330.0,243.0 L330.3,243.0 L330.7,243.0 L331.0,243.1 L331.3,243.1 L331.6,243.1 L331.9,243.1 L332.2,243.2 L332.6,243.2 L332.9,243.2 L333.2,243.2 L333.5,243.3 L333.8,243.3 L334.2,243.3 L334.5,243.3 L334.8,243.4 L335.1,243.4 L335.4,243.4 L335.8,243.4 L336.1,243.5 L336.4,243.5 L336.7,243.5 L337.0,243.5 L337.4,243.5 L337.7,243.6 L338.0,243.6 L338.3,243.6 L338.6,243.6 L338.9,243.6 L339.3,243.7 L339.6,243.7 L339.9,243.7 L340.2,243.7 L340.5,243.7 L340.9,243.8 L341.2,243.8 L341.5,243.8 L341.8,243.8 L342.1,243.8 L342.5,243.8 L342.8,243.9 L343.1,243.9 L343.4,243.9 L343.7,243.9 L344.1,243.9 L344.4,243.9 L344.7,244.0 L345.0,244.0 L345.3,244.0 L345.6,244.0 L346.0,244.0 L346.3,244.0 L346.6,244.1 L346.9,244.1 L347.2,244.1 L347.6,244.1 L347.9,244.1 L348.2,244.1 L348.5,244.1 L348.8,244.2 L349.2,244.2 L349.5,244.2 L349.8,244.2 L350.1,244.2 L350.4,244.2 L350.7,244.2 L351.1,244.3 L351.4,244.3 L351.7,244.3" fill="none" stroke="#e848e8" stroke-width="1.1" stroke-linejoin="round" stroke-linecap="round" />
<path d="M224.1,241.3 L224.4,241.3 L224.7,241.4 L225.1,241.4 L225.4,241.4 L225.7,241.4 L226.0,241.4 L226.3,241.4 L226.7,241.4 L227.0,241.4 L227.3,241.4 L227.6,241.4 L227.9,241.4 L228.3,241.4 L228.6,241.4 L228.9,241.4 L229.2,241.4 L229.5,241.3 L229.9,241.3 L230.2,241.3 L230.5,241.3 L230.8,241.3 L231.1,241.3 L231.4,241.3 L231.8,241.3 L232.1,241.3 L232.4,241.3 L232.7,241.2 L233.0,241.2 L233.4,241.2 L233.7,241.2 L234.0,241.2 L234.3,241.2 L234.6,241.1 L235.0,241.1 L235.3,241.1 L235.6,241.0 L235.9,241.0 L236.2,241.0 L236.6,241.0 L236.9,240.9 L237.2,240.9 L237.5,240.8 L237.8,240.8 L238.1,240.8 L238.5,240.7 L238.8,240.7 L239.1,240.6 L239.4,240.6 L239.7,240.5 L240.1,240.5 L240.4,240.4 L240.7,240.3 L241.0,240.3 L241.3,240.2 L241.7,240.1 L242.0,240.1 L242.3,240.0 L242.6,239.9 L242.9,239.9 L243.2,239.8 L243.6,239.7 L243.9,239.6 L244.2,239.5 L244.5,239.4 L244.8,239.3 L245.2,239.2 L245.5,239.2 L245.8,239.1 L246.1,239.0 L246.4,238.9 L246.8,238.7 L247.1,238.6 L247.4,238.5 L247.7,238.4 L248.0,238.3 L248.4,238.2 L248.7,238.1 L249.0,238.0 L249.3,237.9 L249.6,237.7 L249.9,237.6 L250.3,237.5 L250.6,237.4 L250.9,237.3 L251.2,237.1 L251.5,237.0 L251.9,236.9 L252.2,236.8 L252.5,236.6 L252.8,236.5 L253.1,236.4 L253.5,236.3 L253.8,236.2 L254.1,236.1 L254.4,235.9 L254.7,235.8 L255.1,235.7 L255.4,235.6 L255.7,235.5 L256.0,235.4 L256.3,235.3 L256.6,235.2 L257.0,235.1 L257.3,235.0 L257.6,234.9 L257.9,234.8 L258.2,234.7 L258.6,234.6 L258.9,234.5 L259.2,234.5 L259.5,234.4 L259.8,234.3 L260.2,234.3 L260.5,234.2 L260.8,234.2 L261.1,234.1 L261.4,234.1 L261.8,234.0 L262.1,234.0 L262.4,234.0 L262.7,233.9 L263.0,233.9 L263.3,233.9 L263.7,233.9 L264.0,233.9 L264.3,233.9 L264.6,233.9 L264.9,233.9 L265.3,233.9 L265.6,234.0 L265.9,234.0 L266.2,234.0 L266.5,234.1 L266.9,234.1 L267.2,234.2 L267.5,234.2 L267.8,234.3 L268.1,234.3 L268.4,234.4 L268.8,234.5 L269.1,234.6 L269.4,234.6 L269.7,234.7 L270.0,234.8 L270.4,234.9 L270.7,235.0 L271.0,235.1 L271.3,235.2 L271.6,235.3 L272.0,235.5 L272.3,235.6 L272.6,235.7 L272.9,235.8 L273.2,235.9 L273.6,236.1 L273.9,236.2 L274.2,236.3 L274.5,236.4 L274.8,236.6 L275.1,236.7 L275.5,236.8 L275.8,237.0 L276.1,237.1 L276.4,237.3 L276.7,237.4 L277.1,237.5 L277.4,237.7 L277.7,237.8 L278.0,237.9 L278.3,238.1 L278.7,238.2 L279.0,238.4 L279.3,238.5 L279.6,238.6 L279.9,238.8 L280.3,238.9 L280.6,239.0 L280.9,239.2 L281.2,239.3 L281.5,239.4 L281.8,239.5 L282.2,239.7 L282.5,239.8 L282.8,239.9 L283.1,240.0 L283.4,240.1 L283.8,240.2 L284.1,240.3 L284.4,240.5 L284.7,240.6 L285.0,240.7 L285.4,240.8 L285.7,240.9 L286.0,241.0 L286.3,241.1 L286.6,241.1 L287.0,241.2 L287.3,241.3 L287.6,241.4 L287.9,241.5 L288.2,241.6 L288.5,241.6 L288.9,241.7 L289.2,241.8 L289.5,241.9 L289.8,241.9 L290.1,242.0 L290.5,242.1 L290.8,242.1 L291.1,242.2 L291.4,242.2 L291.7,242.3 L292.1,242.3 L292.4,242.4 L292.7,242.4 L293.0,242.5 L293.3,242.5 L293.6,242.6 L294.0,242.6 L294.3,242.7 L294.6,242.7 L294.9,242.7 L295.2,242.8 L295.6,242.8 L295.9,242.9 L296.2,242.9 L296.5,242.9 L296.8,242.9 L297.2,243.0 L297.5,243.0 L297.8,243.0 L298.1,243.1 L298.4,243.1 L298.8,243.1 L299.1,243.1 L299.4,243.1 L299.7,243.2 L300.0,243.2 L300.3,243.2 L300.7,243.2 L301.0,243.2 L301.3,243.3 L301.6,243.3 L301.9,243.3 L302.3,243.3 L302.6,243.3 L302.9,243.3 L303.2,243.4 L303.5,243.4 L303.9,243.4 L304.2,243.4 L304.5,243.4 L304.8,243.4 L305.1,243.4 L305.5,243.5 L305.8,243.5 L306.1,243.5 L306.4,243.5 L306.7,243.5 L307.0,243.5 L307.4,243.5 L307.7,243.5 L308.0,243.5 L308.3,243.6 L308.6,243.6 L309.0,243.6 L309.3,243.6 L309.6,243.6 L309.9,243.6 L310.2,243.6 L310.6,243.6 L310.9,243.6 L311.2,243.6 L311.5,243.7 L311.8,243.7 L312.2,243.7 L312.5,243.7 L312.8,243.7 L313.1,243.7 L313.4,243.7 L313.7,243.7 L314.1,243.7 L314.4,243.7 L314.7,243.7 L315.0,243.7 L315.3,243.8 L315.7,243.8 L316.0,243.8 L316.3,243.8 L316.6,243.8 L316.9,243.8 L317.3,243.8 L317.6,243.8 L317.9,243.8 L318.2,243.8 L318.5,243.8 L318.9,243.8 L319.2,243.9 L319.5,243.9 L319.8,243.9 L320.1,243.9 L320.4,243.9 L320.8,243.9 L321.1,243.9 L321.4,243.9 L321.7,243.9 L322.0,243.9 L322.4,243.9 L322.7,243.9 L323.0,244.0 L323.3,244.0 L323.6,244.0 L324.0,244.0 L324.3,244.0 L324.6,244.0 L324.9,244.0 L325.2,244.0 L325.5,244.0 L325.9,244.0 L326.2,244.0 L326.5,244.0 L326.8,244.1 L327.1,244.1 L327.5,244.1 L327.8,244.1 L328.1,244.1 L328.4,244.1 L328.7,244.1 L329.1,244.1 L329.4,244.1 L329.7,244.1 L330.0,244.1 L330.3,244.1 L330.7,244.2 L331.0,244.2 L331.3,244.2 L331.6,244.2 L331.9,244.2 L332.2,244.2 L332.6,244.2 L332.9,244.2 L333.2,244.2 L333.5,244.2 L333.8,244.2 L334.2,244.2 L334.5,244.3 L334.8,244.3 L335.1,244.3 L335.4,244.3 L335.8,244.3 L336.1,244.3 L336.4,244.3 L336.7,244.3 L337.0,244.3 L337.4,244.3 L337.7,244.3 L338.0,244.3 L338.3,244.4 L338.6,244.4 L338.9,244.4 L339.3,244.4 L339.6,244.4 L339.9,244.4 L340.2,244.4 L340.5,244.4 L340.9,244.4 L341.2,244.4 L341.5,244.4 L341.8,244.4 L342.1,244.5 L342.5,244.5 L342.8,244.5 L343.1,244.5 L343.4,244.5 L343.7,244.5 L344.1,244.5 L344.4,244.5 L344.7,244.5 L345.0,244.5 L345.3,244.5 L345.6,244.5 L346.0,244.5 L346.3,244.6 L346.6,244.6 L346.9,244.6 L347.2,244.6 L347.6,244.6 L347.9,244.6 L348.2,244.6 L348.5,244.6 L348.8,244.6 L349.2,244.6 L349.5,244.6 L349.8,244.6 L350.1,244.7 L350.4,244.7 L350.7,244.7 L351.1,244.7 L351.4,244.7 L351.7,244.7" fill="none" stroke="#40a040" stroke-width="0.9" stroke-linejoin="round" stroke-linecap="round" />
<text x="346.70" y="163.40" font-size="5.4" text-anchor="start" font-weight="bold" fill="#111" stroke="#111" stroke-width="0.18" font-family="'Liberation Serif', serif" >O1s</text>
<text x="271.00" y="191.30" font-size="5.4" text-anchor="start" font-weight="bold" fill="#111" stroke="#111" stroke-width="0.18" font-family="'Liberation Serif', serif" >Ti-O-Ti</text>
<line x1="285.2" y1="193.5" x2="295.7" y2="202.4" stroke="#222" stroke-width="0.6"/>
<text x="253.70" y="225.00" font-size="5.4" text-anchor="start" font-weight="bold" fill="#111" stroke="#111" stroke-width="0.18" font-family="'Liberation Serif', serif" >C-O-Ti</text>
<line x1="263.4" y1="226.5" x2="263.4" y2="237.7" stroke="#222" stroke-width="0.6"/>
<rect x="399.80" y="154.50" width="143.90" height="105.50" fill="none" stroke="#6a6a6a" stroke-width="1.1"/>
<path d="M411.40,260.00 v-2.20 M435.40,260.00 v-2.20 M459.40,260.00 v-2.20 M483.40,260.00 v-2.20 M507.40,260.00 v-2.20 M531.40,260.00 v-2.20 M423.40,260.00 v-1.30 M447.40,260.00 v-1.30 M471.40,260.00 v-1.30 M495.40,260.00 v-1.30 M519.40,260.00 v-1.30 M543.40,260.00 v-1.30" stroke="#6a6a6a" stroke-width="0.8" fill="none"/>
<text x="411.40" y="267.30" font-size="6" text-anchor="middle" font-weight="bold" fill="#111" stroke="#111" stroke-width="0.18" font-family="'Liberation Serif', serif" >0</text>
<text x="435.40" y="267.30" font-size="6" text-anchor="middle" font-weight="bold" fill="#111" stroke="#111" stroke-width="0.18" font-family="'Liberation Serif', serif" >200</text>
<text x="459.40" y="267.30" font-size="6" text-anchor="middle" font-weight="bold" fill="#111" stroke="#111" stroke-width="0.18" font-family="'Liberation Serif', serif" >400</text>
<text x="483.40" y="267.30" font-size="6" text-anchor="middle" font-weight="bold" fill="#111" stroke="#111" stroke-width="0.18" font-family="'Liberation Serif', serif" >600</text>
<text x="507.40" y="267.30" font-size="6" text-anchor="middle" font-weight="bold" fill="#111" stroke="#111" stroke-width="0.18" font-family="'Liberation Serif', serif" >800</text>
<text x="531.40" y="267.30" font-size="6" text-anchor="middle" font-weight="bold" fill="#111" stroke="#111" stroke-width="0.18" font-family="'Liberation Serif', serif" >1000</text>
<path d="M399.80,260.05 h2.20 M399.80,245.00 h2.20 M399.80,229.95 h2.20 M399.80,214.90 h2.20 M399.80,199.85 h2.20 M399.80,184.80 h2.20 M399.80,169.75 h2.20 M399.80,154.70 h2.20 M399.80,252.53 h1.30 M399.80,237.47 h1.30 M399.80,222.43 h1.30 M399.80,207.38 h1.30 M399.80,192.33 h1.30 M399.80,177.28 h1.30 M399.80,162.22 h1.30" stroke="#6a6a6a" stroke-width="0.8" fill="none"/>
<text x="396.80" y="262.05" font-size="5.7" text-anchor="end" font-weight="bold" fill="#111" stroke="#111" stroke-width="0.18" font-family="'Liberation Serif', serif" >-60.0k</text>
<text x="396.80" y="247.00" font-size="5.7" text-anchor="end" font-weight="bold" fill="#111" stroke="#111" stroke-width="0.18" font-family="'Liberation Serif', serif" >-40.0k</text>
<text x="396.80" y="231.95" font-size="5.7" text-anchor="end" font-weight="bold" fill="#111" stroke="#111" stroke-width="0.18" font-family="'Liberation Serif', serif" >-20.0k</text>
<text x="396.80" y="216.90" font-size="5.7" text-anchor="end" font-weight="bold" fill="#111" stroke="#111" stroke-width="0.18" font-family="'Liberation Serif', serif" >0.0</text>
<text x="396.80" y="201.85" font-size="5.7" text-anchor="end" font-weight="bold" fill="#111" stroke="#111" stroke-width="0.18" font-family="'Liberation Serif', serif" >20.0k</text>
<text x="396.80" y="186.80" font-size="5.7" text-anchor="end" font-weight="bold" fill="#111" stroke="#111" stroke-width="0.18" font-family="'Liberation Serif', serif" >40.0k</text>
<text x="396.80" y="171.75" font-size="5.7" text-anchor="end" font-weight="bold" fill="#111" stroke="#111" stroke-width="0.18" font-family="'Liberation Serif', serif" >60.0k</text>
<text x="396.80" y="156.70" font-size="5.7" text-anchor="end" font-weight="bold" fill="#111" stroke="#111" stroke-width="0.18" font-family="'Liberation Serif', serif" >80.0k</text>
<text x="457.90" y="278.50" font-size="7.4" text-anchor="start" font-weight="bold" fill="#111" stroke="#111" stroke-width="0.18" font-family="'Liberation Serif', serif" textLength="27.2" lengthAdjust="spacingAndGlyphs">Field (G)</text>
<text x="0" y="0" transform="translate(372.20,211.00) rotate(-90)" font-size="6.8" text-anchor="middle" font-weight="bold" fill="#111" stroke="#111" stroke-width="0.18" font-family="'Liberation Serif', serif" textLength="25.6" lengthAdjust="spacingAndGlyphs">Intensity</text>
<text x="472.60" y="294.50" font-size="8.7" text-anchor="middle" font-weight="normal" fill="#222" stroke="#222" stroke-width="0.18" font-family="'Liberation Serif', serif" >(e)</text>
<path d="M411.4,215.7 L411.5,215.6 L411.7,215.5 L411.8,214.7 L412.0,215.2 L412.1,215.5 L412.3,214.9 L412.4,214.2 L412.6,215.2 L412.7,215.0 L412.8,214.4 L413.0,215.0 L413.1,216.1 L413.3,213.5 L413.4,213.7 L413.6,216.5 L413.7,215.2 L413.8,214.9 L414.0,214.5 L414.1,214.7 L414.3,215.3 L414.4,215.9 L414.6,215.1 L414.7,214.4 L414.9,215.9 L415.0,215.8 L415.1,215.1 L415.3,216.4 L415.4,215.3 L415.6,215.4 L415.7,214.8 L415.9,215.6 L416.0,215.7 L416.2,215.3 L416.3,215.1 L416.4,215.5 L416.6,215.1 L416.7,214.5 L416.9,214.2 L417.0,213.9 L417.2,215.6 L417.3,215.3 L417.4,216.7 L417.6,213.7 L417.7,215.5 L417.9,215.0 L418.0,214.6 L418.2,215.9 L418.3,214.7 L418.5,215.0 L418.6,216.2 L418.7,214.8 L418.9,214.2 L419.0,216.2 L419.2,214.4 L419.3,214.8 L419.5,214.6 L419.6,214.6 L419.8,214.0 L419.9,215.1 L420.0,214.3 L420.2,215.2 L420.3,214.4 L420.5,215.4 L420.6,215.0 L420.8,213.7 L420.9,214.6 L421.0,215.0 L421.2,215.6 L421.3,215.4 L421.5,214.7 L421.6,214.2 L421.8,214.6 L421.9,214.5 L422.1,214.9 L422.2,213.9 L422.3,215.1 L422.5,215.2 L422.6,214.2 L422.8,214.8 L422.9,215.0 L423.1,215.2 L423.2,215.0 L423.4,214.4 L423.5,214.5 L423.6,215.6 L423.8,214.5 L423.9,214.6 L424.1,215.4 L424.2,214.2 L424.4,214.9 L424.5,215.0 L424.6,214.2 L424.8,213.8 L424.9,215.2 L425.1,214.4 L425.2,215.3 L425.4,213.1 L425.5,215.0 L425.7,213.9 L425.8,215.1 L425.9,214.1 L426.1,213.2 L426.2,216.4 L426.4,214.9 L426.5,214.3 L426.7,214.7 L426.8,215.1 L427.0,213.2 L427.1,214.6 L427.2,215.7 L427.4,214.0 L427.5,215.8 L427.7,213.8 L427.8,215.0 L428.0,214.5 L428.1,213.7 L428.2,214.5 L428.4,215.5 L428.5,215.7 L428.7,213.8 L428.8,214.0 L429.0,215.1 L429.1,214.0 L429.3,214.2 L429.4,214.1 L429.5,216.0 L429.7,214.7 L429.8,213.9 L430.0,214.0 L430.1,213.9 L430.3,216.2 L430.4,214.4 L430.6,214.1 L430.7,212.7 L430.8,215.1 L431.0,214.7 L431.1,214.4 L431.3,213.8 L431.4,214.7 L431.6,213.7 L431.7,215.0 L431.8,214.2 L432.0,214.8 L432.1,214.3 L432.3,214.9 L432.4,215.5 L432.6,213.7 L432.7,214.2 L432.9,214.8 L433.0,214.2 L433.1,213.7 L433.3,215.0 L433.4,214.4 L433.6,214.0 L433.7,214.0 L433.9,214.6 L434.0,215.8 L434.2,213.5 L434.3,214.1 L434.4,214.3 L434.6,214.5 L434.7,214.1 L434.9,214.6 L435.0,215.0 L435.2,214.8 L435.3,214.7 L435.4,214.7 L435.6,215.0 L435.7,213.8 L435.9,215.1 L436.0,213.8 L436.2,214.9 L436.3,214.0 L436.5,213.3 L436.6,214.1 L436.7,214.7 L436.9,214.2 L437.0,214.1 L437.2,215.4 L437.3,214.6 L437.5,214.1 L437.6,214.5 L437.8,214.1 L437.9,213.7 L438.0,213.6 L438.2,213.5 L438.3,213.8 L438.5,214.3 L438.6,214.2 L438.8,214.3 L438.9,214.3 L439.0,214.2 L439.2,215.3 L439.3,214.3 L439.5,214.1 L439.6,214.8 L439.8,214.1 L439.9,213.7 L440.1,214.2 L440.2,212.7 L440.3,215.8 L440.5,214.2 L440.6,215.3 L440.8,213.4 L440.9,212.2 L441.1,215.7 L441.2,213.9 L441.4,213.7 L441.5,214.2 L441.6,213.6 L441.8,215.5 L441.9,213.4 L442.1,213.7 L442.2,214.0 L442.4,214.4 L442.5,213.5 L442.6,214.3 L442.8,213.8 L442.9,214.3 L443.1,215.5 L443.2,214.0 L443.4,213.8 L443.5,213.4 L443.7,214.5 L443.8,213.9 L443.9,213.5 L444.1,213.8 L444.2,213.1 L444.4,212.5 L444.5,214.5 L444.7,215.2 L444.8,213.3 L445.0,212.8 L445.1,213.2 L445.2,213.3 L445.4,214.3 L445.5,214.3 L445.7,213.2 L445.8,214.5 L446.0,215.1 L446.1,214.5 L446.2,212.1 L446.4,212.5 L446.5,214.3 L446.7,214.3 L446.8,213.6 L447.0,214.3 L447.1,212.9 L447.3,213.8 L447.4,214.5 L447.5,212.9 L447.7,214.2 L447.8,213.6 L448.0,213.8 L448.1,214.0 L448.3,213.5 L448.4,214.2 L448.6,215.0 L448.7,215.2 L448.8,214.6 L449.0,214.2 L449.1,213.7 L449.3,213.7 L449.4,213.3 L449.6,213.6 L449.7,214.2 L449.8,214.1 L450.0,215.1 L450.1,213.8 L450.3,213.3 L450.4,213.3 L450.6,213.7 L450.7,213.8 L450.9,213.0 L451.0,213.6 L451.1,213.1 L451.3,213.2 L451.4,213.5 L451.6,212.7 L451.7,214.0 L451.9,213.8 L452.0,214.1 L452.2,214.1 L452.3,212.5 L452.4,212.4 L452.6,213.5 L452.7,213.2 L452.9,212.7 L453.0,213.0 L453.2,212.7 L453.3,214.4 L453.4,214.0 L453.6,213.2 L453.7,212.5 L453.9,213.4 L454.0,214.1 L454.2,213.7 L454.3,213.9 L454.5,214.1 L454.6,212.5 L454.7,213.9 L454.9,213.4 L455.0,212.0 L455.2,212.6 L455.3,213.2 L455.5,213.8 L455.6,213.2 L455.8,212.3 L455.9,213.0 L456.0,212.6 L456.2,213.3 L456.3,213.0 L456.5,213.5 L456.6,213.1 L456.8,212.5 L456.9,214.3 L457.0,213.4 L457.2,213.2 L457.3,213.7 L457.5,213.6 L457.6,212.8 L457.8,212.0 L457.9,212.9 L458.1,213.1 L458.2,214.4 L458.3,212.0 L458.5,213.3 L458.6,213.3 L458.8,214.1 L458.9,213.3 L459.1,214.0 L459.2,213.2 L459.4,213.0 L459.5,213.2 L459.6,213.1 L459.8,213.8 L459.9,212.3 L460.1,213.7 L460.2,214.5 L460.4,213.4 L460.5,213.7 L460.6,213.9 L460.8,213.5 L460.9,213.0 L461.1,214.0 L461.2,213.3 L461.4,212.2 L461.5,212.7 L461.7,213.3 L461.8,213.1 L461.9,213.2 L462.1,213.2 L462.2,212.7 L462.4,213.2 L462.5,214.8 L462.7,213.1 L462.8,213.7 L463.0,212.7 L463.1,213.5 L463.2,213.0 L463.4,211.6 L463.5,213.8 L463.7,213.9 L463.8,214.0 L464.0,214.7 L464.1,214.3 L464.2,212.8 L464.4,213.5 L464.5,214.3 L464.7,214.1 L464.8,212.6 L465.0,213.6 L465.1,213.3 L465.3,212.8 L465.4,212.1 L465.5,211.7 L465.7,212.3 L465.8,213.0 L466.0,212.9 L466.1,211.9 L466.3,212.1 L466.4,213.3 L466.6,212.8 L466.7,212.9 L466.8,213.1 L467.0,213.5 L467.1,214.1 L467.3,213.6 L467.4,214.3 L467.6,212.4 L467.7,212.9 L467.8,214.1 L468.0,212.3 L468.1,212.7 L468.3,214.6 L468.4,212.1 L468.6,212.8 L468.7,211.9 L468.9,214.2 L469.0,213.0 L469.1,213.1 L469.3,213.2 L469.4,213.3 L469.6,212.7 L469.7,214.4 L469.9,214.3 L470.0,214.4 L470.2,213.8 L470.3,213.9 L470.4,213.2 L470.6,213.3 L470.7,213.5 L470.9,214.0 L471.0,213.8 L471.2,212.9 L471.3,213.1 L471.4,213.5 L471.6,213.8 L471.7,212.6 L471.9,214.0 L472.0,213.2 L472.2,212.9 L472.3,213.8 L472.5,213.1 L472.6,214.5 L472.7,213.0 L472.9,213.6 L473.0,214.8 L473.2,213.3 L473.3,214.4 L473.5,212.9 L473.6,214.3 L473.8,213.9 L473.9,213.6 L474.0,214.1 L474.2,213.7 L474.3,214.2 L474.5,213.4 L474.6,213.9 L474.8,213.8 L474.9,215.8 L475.0,213.1 L475.2,213.9 L475.3,215.2 L475.5,213.9 L475.6,213.7 L475.8,213.3 L475.9,214.7 L476.1,213.0 L476.2,214.1 L476.3,212.4 L476.5,214.2 L476.6,213.6 L476.8,214.3 L476.9,214.9 L477.1,213.4 L477.2,213.5 L477.4,213.1 L477.5,213.6 L477.6,214.6 L477.8,215.3 L477.9,214.6 L478.1,214.7 L478.2,214.8 L478.4,213.8 L478.5,214.0 L478.6,214.4 L478.8,214.2 L478.9,214.4 L479.1,214.2 L479.2,213.8 L479.4,213.7 L479.5,214.8 L479.7,215.4 L479.8,213.4 L479.9,214.3 L480.1,213.7 L480.2,215.5 L480.4,214.7 L480.5,214.4 L480.7,215.4 L480.8,214.8 L481.0,214.0 L481.1,213.8 L481.2,213.4 L481.4,215.1 L481.5,215.5 L481.7,214.2 L481.8,213.9 L482.0,214.4 L482.1,215.5 L482.2,214.1 L482.4,214.1 L482.5,214.3 L482.7,215.0 L482.8,214.5 L483.0,214.1 L483.1,215.1 L483.3,215.9 L483.4,214.5 L483.5,214.4 L483.7,214.7 L483.8,214.2 L484.0,215.2 L484.1,214.8 L484.3,215.0 L484.4,214.4 L484.6,213.7 L484.7,215.0 L484.8,213.5 L485.0,213.8 L485.1,214.3 L485.3,214.5 L485.4,213.7 L485.6,215.0 L485.7,215.0 L485.8,215.7 L486.0,214.6 L486.1,214.1 L486.3,214.6 L486.4,214.7 L486.6,215.1 L486.7,214.9 L486.9,216.0 L487.0,214.3 L487.1,215.3 L487.3,215.8 L487.4,215.6 L487.6,215.7 L487.7,214.5 L487.9,214.4 L488.0,216.1 L488.2,214.5 L488.3,214.6 L488.4,215.6 L488.6,216.2 L488.7,215.7 L488.9,215.7 L489.0,215.0 L489.2,215.5 L489.3,216.6 L489.4,215.1 L489.6,216.3 L489.7,214.7 L489.9,216.1 L490.0,215.7 L490.2,215.8 L490.3,215.6 L490.5,214.4 L490.6,214.7 L490.7,214.8 L490.9,215.0 L491.0,216.3 L491.2,215.6 L491.3,215.6 L491.5,215.9 L491.6,214.9 L491.8,215.7 L491.9,215.7 L492.0,215.9 L492.2,216.6 L492.3,214.8 L492.5,214.3 L492.6,215.1 L492.8,215.9 L492.9,217.0 L493.0,215.1 L493.2,214.4 L493.3,215.0 L493.5,214.5 L493.6,214.2 L493.8,214.4 L493.9,215.5 L494.1,214.4 L494.2,214.6 L494.3,216.2 L494.5,215.4 L494.6,216.1 L494.8,215.2 L494.9,214.7 L495.1,215.9 L495.2,216.5 L495.4,214.2 L495.5,214.9 L495.6,214.1 L495.8,216.0 L495.9,214.4 L496.1,213.7 L496.2,213.7 L496.4,215.2 L496.5,214.9 L496.6,215.2 L496.8,214.4 L496.9,214.4 L497.1,215.0 L497.2,216.0 L497.4,214.6 L497.5,215.4 L497.7,214.6 L497.8,214.9 L497.9,214.0 L498.1,214.3 L498.2,215.4 L498.4,214.8 L498.5,213.8 L498.7,215.4 L498.8,214.7 L499.0,214.2 L499.1,214.2 L499.2,214.7 L499.4,215.9 L499.5,215.9 L499.7,214.8 L499.8,214.7 L500.0,213.3 L500.1,215.6 L500.2,214.2 L500.4,214.5 L500.5,216.1 L500.7,215.5 L500.8,214.9 L501.0,215.3 L501.1,215.1 L501.3,214.7 L501.4,215.5 L501.5,214.7 L501.7,215.4 L501.8,215.3 L502.0,214.6 L502.1,215.3 L502.3,214.8 L502.4,213.9 L502.6,214.9 L502.7,215.0 L502.8,214.4 L503.0,215.2 L503.1,214.2 L503.3,215.8 L503.4,214.5 L503.6,215.3 L503.7,215.5 L503.8,213.7 L504.0,215.5 L504.1,213.7 L504.3,214.5 L504.4,213.9 L504.6,215.6 L504.7,214.1 L504.9,213.9 L505.0,215.0 L505.1,215.0 L505.3,213.2 L505.4,214.7 L505.6,215.2 L505.7,215.3 L505.9,214.6 L506.0,214.6 L506.2,214.7 L506.3,213.7 L506.4,215.1 L506.6,214.5 L506.7,213.8 L506.9,215.5 L507.0,214.1 L507.2,213.6 L507.3,215.7 L507.4,215.6 L507.6,215.5 L507.7,216.1 L507.9,214.5 L508.0,216.1 L508.2,214.5 L508.3,213.8 L508.5,215.9 L508.6,215.0 L508.7,216.1 L508.9,214.3 L509.0,215.3 L509.2,215.0 L509.3,214.7 L509.5,214.4 L509.6,215.0 L509.8,214.7 L509.9,215.1 L510.0,214.7 L510.2,215.5 L510.3,214.7 L510.5,216.0 L510.6,215.1 L510.8,213.4 L510.9,214.7 L511.0,215.6 L511.2,214.5 L511.3,215.4 L511.5,215.8 L511.6,215.2 L511.8,214.2 L511.9,214.4 L512.1,214.8 L512.2,215.3 L512.3,215.4 L512.5,213.8 L512.6,214.5 L512.8,215.3 L512.9,216.1 L513.1,215.6 L513.2,213.0 L513.4,215.4 L513.5,214.7 L513.6,214.5 L513.8,214.8 L513.9,214.8 L514.1,215.6 L514.2,215.4 L514.4,213.5 L514.5,215.2 L514.6,214.1 L514.8,215.8 L514.9,214.8 L515.1,214.4 L515.2,213.9 L515.4,215.4 L515.5,214.2 L515.7,214.3 L515.8,215.1 L515.9,214.3 L516.1,215.2 L516.2,215.1 L516.4,214.6 L516.5,216.4 L516.7,214.7 L516.8,215.3 L517.0,215.6 L517.1,214.9 L517.2,214.1 L517.4,214.8 L517.5,213.7 L517.7,215.3 L517.8,215.4 L518.0,213.5 L518.1,214.3 L518.2,213.9 L518.4,215.1 L518.5,214.0 L518.7,214.4 L518.8,214.1 L519.0,214.5 L519.1,213.7 L519.3,215.0 L519.4,215.2 L519.5,215.5 L519.7,213.7 L519.8,215.0 L520.0,215.2 L520.1,215.1 L520.3,214.8 L520.4,215.3 L520.6,214.7 L520.7,214.9 L520.8,214.9 L521.0,215.1 L521.1,214.4 L521.3,214.8 L521.4,214.4 L521.6,214.3 L521.7,214.2 L521.8,215.9 L522.0,214.8 L522.1,215.0 L522.3,213.9 L522.4,215.5 L522.6,214.9 L522.7,214.6 L522.9,214.7 L523.0,213.8 L523.1,214.7 L523.3,213.8 L523.4,215.4 L523.6,215.6 L523.7,213.6 L523.9,214.1 L524.0,214.1 L524.2,214.3 L524.3,214.1 L524.4,215.2 L524.6,213.7 L524.7,214.7 L524.9,213.7 L525.0,214.3 L525.2,215.7 L525.3,215.2 L525.4,213.6 L525.6,214.4 L525.7,214.6 L525.9,214.2 L526.0,214.6 L526.2,214.7 L526.3,214.3 L526.5,214.2 L526.6,213.3 L526.7,214.3 L526.9,213.1 L527.0,213.1 L527.2,213.2 L527.3,213.6 L527.5,214.2 L527.6,214.2 L527.8,214.4 L527.9,214.8 L528.0,214.3 L528.2,214.7 L528.3,213.2 L528.5,213.9 L528.6,214.6 L528.8,215.6 L528.9,214.3 L529.0,214.6 L529.2,215.0 L529.3,215.0 L529.5,215.8 L529.6,213.9 L529.8,214.3 L529.9,212.5 L530.1,214.3 L530.2,214.3 L530.3,213.3 L530.5,214.1 L530.6,214.1 L530.8,214.5 L530.9,214.6 L531.1,213.2 L531.2,213.5 L531.4,213.0 L531.5,214.4 L531.6,214.2 L531.8,214.8 L531.9,213.5 L532.1,215.1 L532.2,213.8 L532.4,213.4 L532.5,213.2 L532.6,214.8 L532.8,213.4 L532.9,214.7 L533.1,214.7 L533.2,215.1 L533.4,213.4 L533.5,213.0 L533.7,214.6 L533.8,214.7 L533.9,214.4" fill="none" stroke="#111" stroke-width="0.9" stroke-linejoin="round" stroke-linecap="round" />
<path d="M411.4,214.8 L411.5,216.0 L411.7,217.1 L411.8,218.1 L412.0,217.2 L412.1,215.8 L412.3,215.3 L412.4,216.9 L412.6,217.2 L412.7,217.1 L412.8,218.1 L413.0,216.0 L413.1,217.5 L413.3,215.9 L413.4,217.9 L413.6,217.6 L413.7,216.4 L413.8,217.2 L414.0,216.0 L414.1,216.6 L414.3,217.5 L414.4,216.1 L414.6,216.0 L414.7,218.0 L414.9,215.2 L415.0,216.2 L415.1,216.0 L415.3,218.0 L415.4,217.1 L415.6,216.8 L415.7,215.8 L415.9,217.7 L416.0,217.2 L416.2,218.1 L416.3,216.7 L416.4,216.3 L416.6,217.8 L416.7,217.0 L416.9,216.1 L417.0,215.3 L417.2,216.0 L417.3,216.7 L417.4,217.4 L417.6,217.2 L417.7,217.0 L417.9,216.4 L418.0,216.5 L418.2,215.2 L418.3,216.3 L418.5,217.3 L418.6,215.3 L418.7,215.7 L418.9,216.4 L419.0,217.0 L419.2,217.9 L419.3,217.2 L419.5,215.7 L419.6,217.0 L419.8,217.4 L419.9,216.3 L420.0,216.2 L420.2,215.9 L420.3,215.9 L420.5,215.3 L420.6,217.0 L420.8,215.6 L420.9,217.1 L421.0,215.9 L421.2,216.2 L421.3,216.2 L421.5,215.6 L421.6,216.4 L421.8,215.5 L421.9,215.7 L422.1,216.2 L422.2,216.8 L422.3,216.9 L422.5,216.7 L422.6,216.5 L422.8,216.3 L422.9,214.1 L423.1,215.8 L423.2,215.7 L423.4,216.9 L423.5,216.8 L423.6,216.5 L423.8,216.1 L423.9,217.0 L424.1,215.0 L424.2,216.7 L424.4,215.4 L424.5,218.0 L424.6,216.2 L424.8,216.0 L424.9,216.1 L425.1,215.8 L425.2,216.0 L425.4,216.1 L425.5,217.6 L425.7,216.7 L425.8,218.0 L425.9,215.7 L426.1,216.0 L426.2,216.3 L426.4,216.8 L426.5,216.6 L426.7,214.8 L426.8,214.9 L427.0,216.2 L427.1,215.2 L427.2,217.3 L427.4,217.6 L427.5,216.5 L427.7,216.8 L427.8,216.5 L428.0,216.0 L428.1,213.8 L428.2,216.6 L428.4,216.1 L428.5,215.9 L428.7,216.1 L428.8,215.4 L429.0,214.7 L429.1,217.0 L429.3,215.9 L429.4,216.2 L429.5,215.8 L429.7,217.2 L429.8,217.4 L430.0,217.8 L430.1,215.6 L430.3,215.9 L430.4,215.9 L430.6,217.8 L430.7,216.3 L430.8,216.6 L431.0,217.0 L431.1,216.7 L431.3,215.4 L431.4,215.6 L431.6,216.0 L431.7,215.6 L431.8,216.4 L432.0,215.9 L432.1,215.9 L432.3,215.5 L432.4,216.0 L432.6,216.0 L432.7,216.0 L432.9,216.4 L433.0,214.2 L433.1,215.5 L433.3,215.6 L433.4,214.1 L433.6,214.8 L433.7,217.0 L433.9,215.3 L434.0,215.2 L434.2,214.4 L434.3,214.8 L434.4,215.2 L434.6,216.7 L434.7,216.5 L434.9,215.6 L435.0,215.4 L435.2,216.6 L435.3,216.1 L435.4,216.1 L435.6,215.7 L435.7,215.5 L435.9,216.0 L436.0,216.7 L436.2,214.8 L436.3,214.5 L436.5,215.8 L436.6,214.9 L436.7,215.4 L436.9,215.2 L437.0,215.3 L437.2,216.3 L437.3,215.2 L437.5,214.9 L437.6,216.3 L437.8,214.2 L437.9,214.1 L438.0,214.3 L438.2,214.1 L438.3,215.1 L438.5,215.9 L438.6,216.1 L438.8,216.2 L438.9,215.5 L439.0,215.6 L439.2,215.1 L439.3,217.1 L439.5,213.8 L439.6,213.8 L439.8,215.6 L439.9,215.0 L440.1,215.2 L440.2,215.3 L440.3,215.7 L440.5,215.6 L440.6,216.1 L440.8,215.3 L440.9,215.5 L441.1,215.2 L441.2,216.1 L441.4,215.4 L441.5,215.4 L441.6,215.0 L441.8,216.2 L441.9,215.1 L442.1,214.6 L442.2,214.9 L442.4,215.6 L442.5,215.7 L442.6,215.5 L442.8,214.8 L442.9,214.2 L443.1,215.4 L443.2,215.8 L443.4,215.0 L443.5,215.1 L443.7,216.0 L443.8,215.8 L443.9,215.3 L444.1,214.7 L444.2,216.1 L444.4,216.0 L444.5,214.8 L444.7,216.1 L444.8,215.1 L445.0,214.9 L445.1,215.2 L445.2,215.9 L445.4,215.2 L445.5,215.4 L445.7,214.9 L445.8,215.7 L446.0,214.3 L446.1,216.3 L446.2,215.2 L446.4,215.0 L446.5,214.3 L446.7,215.5 L446.8,214.6 L447.0,215.4 L447.1,214.4 L447.3,213.7 L447.4,215.2 L447.5,214.6 L447.7,215.6 L447.8,214.2 L448.0,214.0 L448.1,214.8 L448.3,215.7 L448.4,214.5 L448.6,214.0 L448.7,214.0 L448.8,214.2 L449.0,216.1 L449.1,215.3 L449.3,213.7 L449.4,215.6 L449.6,213.8 L449.7,213.3 L449.8,214.1 L450.0,213.8 L450.1,214.9 L450.3,215.5 L450.4,214.7 L450.6,214.7 L450.7,214.6 L450.9,214.0 L451.0,214.6 L451.1,214.3 L451.3,214.1 L451.4,214.4 L451.6,213.0 L451.7,214.1 L451.9,214.3 L452.0,214.5 L452.2,214.8 L452.3,213.3 L452.4,214.2 L452.6,215.1 L452.7,214.6 L452.9,214.3 L453.0,214.5 L453.2,213.3 L453.3,215.0 L453.4,213.7 L453.6,213.9 L453.7,214.9 L453.9,214.0 L454.0,214.0 L454.2,213.5 L454.3,214.2 L454.5,213.6 L454.6,215.1 L454.7,214.6 L454.9,213.2 L455.0,212.9 L455.2,213.7 L455.3,214.1 L455.5,212.8 L455.6,215.1 L455.8,214.1 L455.9,213.0 L456.0,212.9 L456.2,214.2 L456.3,214.8 L456.5,212.2 L456.6,213.1 L456.8,213.9 L456.9,213.1 L457.0,212.4 L457.2,215.0 L457.3,212.2 L457.5,212.4 L457.6,214.5 L457.8,212.3 L457.9,214.1 L458.1,211.9 L458.2,212.4 L458.3,210.9 L458.5,213.0 L458.6,212.5 L458.8,211.6 L458.9,212.8 L459.1,212.8 L459.2,212.5 L459.4,212.2 L459.5,212.8 L459.6,211.6 L459.8,211.4 L459.9,211.7 L460.1,210.4 L460.2,211.8 L460.4,210.5 L460.5,211.8 L460.6,210.7 L460.8,212.7 L460.9,210.9 L461.1,211.1 L461.2,211.2 L461.4,211.2 L461.5,210.9 L461.7,211.1 L461.8,212.0 L461.9,210.7 L462.1,210.5 L462.2,210.4 L462.4,210.6 L462.5,209.8 L462.7,208.9 L462.8,209.6 L463.0,209.6 L463.1,208.0 L463.2,208.1 L463.4,208.0 L463.5,207.6 L463.7,208.5 L463.8,208.2 L464.0,207.0 L464.1,208.1 L464.2,207.5 L464.4,206.9 L464.5,206.7 L464.7,206.9 L464.8,205.7 L465.0,206.3 L465.1,205.4 L465.3,204.8 L465.4,204.8 L465.5,204.5 L465.7,205.6 L465.8,205.3 L466.0,204.5 L466.1,203.3 L466.3,202.1 L466.4,203.8 L466.6,202.2 L466.7,202.7 L466.8,202.2 L467.0,201.4 L467.1,200.2 L467.3,200.1 L467.4,198.8 L467.6,199.9 L467.7,198.0 L467.8,197.4 L468.0,197.4 L468.1,196.5 L468.3,196.7 L468.4,196.4 L468.6,195.2 L468.7,194.7 L468.9,191.3 L469.0,193.1 L469.1,190.8 L469.3,191.0 L469.4,190.1 L469.6,189.0 L469.7,189.2 L469.9,187.1 L470.0,186.6 L470.2,187.0 L470.3,184.5 L470.4,183.6 L470.6,182.6 L470.7,180.8 L470.9,181.3 L471.0,179.5 L471.2,178.3 L471.3,178.5 L471.4,175.9 L471.6,176.9 L471.7,175.9 L471.9,173.5 L472.0,173.9 L472.2,172.3 L472.3,172.6 L472.5,170.6 L472.6,170.9 L472.7,169.3 L472.9,170.3 L473.0,168.6 L473.2,169.0 L473.3,168.8 L473.5,169.1 L473.6,169.4 L473.8,171.2 L473.9,173.1 L474.0,172.3 L474.2,174.4 L474.3,175.7 L474.5,177.0 L474.6,181.1 L474.8,182.7 L474.9,185.3 L475.0,188.7 L475.2,190.9 L475.3,194.7 L475.5,198.9 L475.6,202.9 L475.8,205.5 L475.9,210.6 L476.1,213.8 L476.2,217.1 L476.3,221.8 L476.5,224.1 L476.6,226.2 L476.8,228.7 L476.9,231.0 L477.1,233.5 L477.2,235.6 L477.4,238.9 L477.5,240.8 L477.6,241.8 L477.8,244.4 L477.9,244.7 L478.1,247.9 L478.2,247.2 L478.4,248.6 L478.5,250.6 L478.6,248.8 L478.8,249.6 L478.9,249.9 L479.1,250.7 L479.2,250.1 L479.4,248.3 L479.5,249.6 L479.7,251.0 L479.8,248.4 L479.9,247.9 L480.1,246.3 L480.2,245.6 L480.4,245.1 L480.5,244.1 L480.7,241.7 L480.8,242.5 L481.0,238.9 L481.1,239.8 L481.2,239.2 L481.4,236.7 L481.5,235.9 L481.7,236.1 L481.8,233.8 L482.0,234.8 L482.1,233.2 L482.2,230.7 L482.4,230.9 L482.5,230.9 L482.7,228.8 L482.8,227.7 L483.0,227.7 L483.1,228.4 L483.3,226.6 L483.4,225.5 L483.5,224.6 L483.7,223.3 L483.8,224.4 L484.0,224.1 L484.1,223.3 L484.3,221.9 L484.4,223.2 L484.6,221.1 L484.7,223.8 L484.8,220.9 L485.0,221.7 L485.1,220.5 L485.3,220.1 L485.4,221.3 L485.6,220.2 L485.7,219.8 L485.8,219.3 L486.0,220.3 L486.1,220.1 L486.3,220.7 L486.4,217.1 L486.6,219.1 L486.7,218.9 L486.9,219.8 L487.0,217.8 L487.1,218.8 L487.3,217.2 L487.4,217.5 L487.6,218.1 L487.7,217.4 L487.9,218.7 L488.0,218.0 L488.2,218.1 L488.3,218.6 L488.4,217.5 L488.6,217.6 L488.7,216.3 L488.9,219.8 L489.0,217.8 L489.2,217.9 L489.3,217.5 L489.4,216.8 L489.6,216.7 L489.7,216.9 L489.9,217.3 L490.0,216.5 L490.2,216.5 L490.3,218.1 L490.5,216.9 L490.6,217.7 L490.7,217.5 L490.9,216.5 L491.0,216.5 L491.2,216.4 L491.3,217.1 L491.5,216.6 L491.6,217.1 L491.8,216.1 L491.9,215.8 L492.0,214.9 L492.2,215.3 L492.3,216.8 L492.5,216.5 L492.6,216.9 L492.8,215.9 L492.9,214.6 L493.0,215.5 L493.2,217.7 L493.3,217.0 L493.5,217.0 L493.6,215.6 L493.8,215.9 L493.9,215.7 L494.1,214.6 L494.2,216.5 L494.3,216.5 L494.5,214.4 L494.6,215.6 L494.8,216.4 L494.9,217.3 L495.1,216.9 L495.2,217.6 L495.4,215.7 L495.5,215.7 L495.6,214.9 L495.8,215.8 L495.9,216.2 L496.1,216.2 L496.2,214.2 L496.4,216.9 L496.5,215.5 L496.6,215.6 L496.8,215.1 L496.9,215.9 L497.1,215.2 L497.2,214.9 L497.4,215.6 L497.5,215.9 L497.7,215.6 L497.8,216.2 L497.9,215.6 L498.1,215.7 L498.2,215.3 L498.4,214.4 L498.5,214.5 L498.7,215.8 L498.8,215.0 L499.0,215.2 L499.1,214.8 L499.2,215.4 L499.4,215.2 L499.5,215.7 L499.7,216.0 L499.8,214.7 L500.0,214.4 L500.1,214.8 L500.2,215.0 L500.4,215.1 L500.5,215.7 L500.7,216.7 L500.8,214.8 L501.0,215.2 L501.1,215.7 L501.3,216.0 L501.4,214.3 L501.5,216.6 L501.7,213.9 L501.8,214.8 L502.0,213.5 L502.1,215.8 L502.3,215.3 L502.4,215.6 L502.6,215.1 L502.7,215.4 L502.8,215.8 L503.0,214.4 L503.1,215.8 L503.3,215.6 L503.4,214.8 L503.6,215.6 L503.7,215.5 L503.8,214.9 L504.0,215.5 L504.1,216.1 L504.3,215.3 L504.4,215.3 L504.6,213.9 L504.7,216.0 L504.9,214.4 L505.0,215.8 L505.1,215.4 L505.3,215.4 L505.4,214.9 L505.6,214.5 L505.7,213.8 L505.9,215.6 L506.0,214.1 L506.2,214.4 L506.3,214.5 L506.4,215.7 L506.6,214.4 L506.7,215.2 L506.9,214.9 L507.0,215.3 L507.2,214.6 L507.3,214.3 L507.4,214.3 L507.6,215.3 L507.7,214.4 L507.9,214.0 L508.0,215.8 L508.2,214.0 L508.3,216.1 L508.5,214.7 L508.6,214.6 L508.7,214.0 L508.9,214.9 L509.0,215.4 L509.2,215.7 L509.3,216.0 L509.5,214.5 L509.6,215.2 L509.8,215.6 L509.9,214.7 L510.0,215.6 L510.2,215.4 L510.3,215.4 L510.5,213.8 L510.6,214.0 L510.8,215.2 L510.9,216.2 L511.0,214.8 L511.2,215.0 L511.3,214.8 L511.5,214.6 L511.6,215.3 L511.8,214.3 L511.9,214.4 L512.1,214.9 L512.2,215.3 L512.3,215.4 L512.5,214.5 L512.6,215.9 L512.8,215.2 L512.9,215.6 L513.1,216.1 L513.2,214.6 L513.4,215.0 L513.5,215.0 L513.6,214.4 L513.8,216.1 L513.9,215.1 L514.1,214.8 L514.2,214.4 L514.4,215.8 L514.5,214.5 L514.6,214.8 L514.8,214.0 L514.9,214.2 L515.1,214.6 L515.2,213.4 L515.4,215.0 L515.5,215.3 L515.7,215.3 L515.8,215.7 L515.9,215.0 L516.1,216.4 L516.2,215.1 L516.4,214.7 L516.5,214.3 L516.7,215.3 L516.8,214.0 L517.0,215.5 L517.1,215.1 L517.2,216.4 L517.4,215.6 L517.5,215.6 L517.7,213.9 L517.8,214.6 L518.0,215.8 L518.1,214.6 L518.2,214.6 L518.4,215.2 L518.5,215.0 L518.7,215.2 L518.8,215.4 L519.0,216.3 L519.1,215.0 L519.3,214.0 L519.4,213.9 L519.5,215.2 L519.7,215.5 L519.8,215.1 L520.0,214.3 L520.1,214.7 L520.3,215.4 L520.4,214.7 L520.6,215.1 L520.7,214.6 L520.8,215.3 L521.0,216.1 L521.1,214.9 L521.3,214.4 L521.4,215.8 L521.6,215.0 L521.7,214.3 L521.8,215.2 L522.0,215.4 L522.1,213.5 L522.3,214.4 L522.4,214.2 L522.6,215.7 L522.7,213.8 L522.9,216.2 L523.0,215.3 L523.1,214.4 L523.3,214.0 L523.4,215.6 L523.6,215.4 L523.7,214.8 L523.9,216.4 L524.0,214.5 L524.2,214.5 L524.3,215.3 L524.4,214.6 L524.6,214.4 L524.7,214.7 L524.9,214.6 L525.0,213.8 L525.2,215.3 L525.3,214.8 L525.4,215.3 L525.6,214.2 L525.7,215.3 L525.9,214.6 L526.0,214.9 L526.2,214.9 L526.3,213.7 L526.5,215.0 L526.6,213.9 L526.7,214.3 L526.9,214.0 L527.0,215.1 L527.2,214.3 L527.3,214.4 L527.5,215.4 L527.6,214.8 L527.8,215.0 L527.9,215.0 L528.0,214.0 L528.2,215.5 L528.3,216.2 L528.5,216.2 L528.6,215.3 L528.8,215.4 L528.9,214.9 L529.0,214.5 L529.2,213.7 L529.3,214.7 L529.5,214.6 L529.6,215.5 L529.8,214.5 L529.9,214.0 L530.1,214.0 L530.2,216.4 L530.3,214.3 L530.5,213.8 L530.6,214.3 L530.8,216.0 L530.9,215.2 L531.1,214.5 L531.2,214.6 L531.4,215.5 L531.5,215.6 L531.6,214.2 L531.8,215.9 L531.9,213.9 L532.1,214.9 L532.2,214.7 L532.4,215.9 L532.5,215.4 L532.6,214.4 L532.8,216.0 L532.9,213.4 L533.1,216.0 L533.2,215.8 L533.4,214.9 L533.5,214.6 L533.7,214.4 L533.8,215.2 L533.9,215.1" fill="none" stroke="#e02020" stroke-width="0.9" stroke-linejoin="round" stroke-linecap="round" />
<line x1="501" y1="161.8" x2="514" y2="161.8" stroke="#111" stroke-width="1"/>
<line x1="501" y1="171.3" x2="514" y2="171.3" stroke="#e02020" stroke-width="1"/>
<text x="515.20" y="163.80" font-size="5.6" text-anchor="start" font-weight="bold" fill="#222" stroke="#222" stroke-width="0.18" font-family="'Liberation Serif', serif" >TiO<tspan dy="1.5" font-size="3.9">2</tspan><tspan dy="-1.5"></tspan></text>
<text x="515.20" y="173.30" font-size="5.6" text-anchor="start" font-weight="bold" fill="#222" stroke="#222" stroke-width="0.18" font-family="'Liberation Serif', serif" >PP@TiO<tspan dy="1.5" font-size="3.9">2</tspan><tspan dy="-1.5"></tspan></text>
<rect x="425.90" y="218.60" width="46.40" height="34.30" fill="#fff" stroke="#666" stroke-width="0.6"/>
<path d="M429.4,237.0 L429.6,237.0 L429.8,237.0 L430.0,237.0 L430.2,236.9 L430.4,236.8 L430.6,236.7 L430.8,236.6 L431.0,236.5 L431.2,236.4 L431.4,236.4 L431.6,236.4 L431.8,236.4 L432.0,236.5 L432.2,236.6 L432.4,236.7 L432.6,236.8 L432.8,236.9 L433.0,237.0 L433.2,237.0 L433.4,237.0 L433.6,237.0 L433.8,237.0 L434.0,236.9 L434.2,236.7 L434.4,236.6 L434.6,236.5 L434.8,236.4 L435.0,236.4 L435.2,236.4 L435.4,236.4 L435.6,236.4 L435.8,236.5 L436.0,236.6 L436.2,236.7 L436.4,236.9 L436.6,237.0 L436.8,237.0 L437.0,237.0 L437.2,237.0 L437.4,237.0 L437.6,236.9 L437.8,236.8 L438.0,236.7 L438.2,236.6 L438.4,236.5 L438.6,236.4 L438.8,236.4 L439.0,236.4 L439.2,236.4 L439.4,236.5 L439.6,236.6 L439.8,236.7 L440.0,236.8 L440.2,236.9 L440.4,237.0 L440.6,237.0 L440.8,237.0 L441.0,237.0 L441.2,237.0 L441.4,236.9 L441.6,236.7 L441.8,236.6 L442.0,236.5 L442.2,236.4 L442.4,236.4 L442.6,236.4 L442.8,236.4 L443.0,236.4 L443.2,236.5 L443.4,236.6 L443.6,236.7 L443.8,236.9 L444.0,237.0 L444.2,237.0 L444.4,237.0 L444.6,237.0 L444.8,237.0 L445.0,236.9 L445.2,236.8 L445.4,236.7 L445.6,236.5 L445.8,236.4 L446.0,236.3 L446.2,236.2 L446.4,236.1 L446.6,236.0 L446.8,235.9 L447.0,235.7 L447.2,235.4 L447.4,234.9 L447.6,234.3 L447.8,233.5 L448.0,232.4 L448.2,231.1 L448.4,229.6 L448.6,228.0 L448.8,226.3 L449.0,224.6 L449.2,223.2 L449.4,222.1 L449.6,221.6 L449.8,221.7 L450.0,222.6 L450.2,224.2 L450.4,226.6 L450.6,229.6 L450.8,233.0 L451.0,236.8 L451.2,239.8 L451.4,242.6 L451.6,245.1 L451.8,247.0 L452.0,248.3 L452.2,249.0 L452.4,249.0 L452.6,248.5 L452.8,247.6 L453.0,246.4 L453.2,245.1 L453.4,243.7 L453.6,242.4 L453.8,241.2 L454.0,240.2 L454.2,239.3 L454.4,238.7 L454.6,238.2 L454.8,237.9 L455.0,237.7 L455.2,237.5 L455.4,237.4 L455.6,237.3 L455.8,237.1 L456.0,237.0 L456.2,236.9 L456.4,236.8 L456.6,236.6 L456.8,236.5 L457.0,236.4 L457.2,236.4 L457.4,236.4 L457.6,236.4 L457.8,236.4 L458.0,236.5 L458.2,236.6 L458.4,236.8 L458.6,236.9 L458.8,237.0 L459.0,237.0 L459.2,237.0 L459.4,237.0 L459.6,237.0 L459.8,236.9 L460.0,236.8 L460.2,236.7 L460.4,236.6 L460.6,236.5 L460.8,236.4 L461.0,236.4 L461.2,236.4 L461.4,236.4 L461.6,236.5 L461.8,236.6 L462.0,236.7 L462.2,236.8 L462.4,236.9 L462.6,237.0 L462.8,237.0 L463.0,237.0 L463.2,237.0 L463.4,236.9 L463.6,236.8 L463.8,236.7 L464.0,236.6 L464.2,236.5 L464.4,236.4 L464.6,236.4 L464.8,236.4 L465.0,236.4 L465.2,236.4 L465.4,236.5 L465.6,236.6 L465.8,236.8 L466.0,236.9 L466.2,237.0 L466.4,237.0 L466.6,237.0 L466.8,237.0 L467.0,237.0 L467.2,236.9 L467.4,236.8 L467.6,236.7 L467.8,236.6 L468.0,236.5 L468.2,236.4 L468.4,236.4 L468.6,236.4 L468.8,236.4 L469.0,236.5 L469.2,236.6 L469.4,236.7" fill="none" stroke="#555" stroke-width="0.6" stroke-linejoin="round" stroke-linecap="round" />
<text x="456.90" y="229.40" font-size="5.6" text-anchor="start" font-weight="bold" fill="#111" stroke="#111" stroke-width="0.18" font-family="'Liberation Serif', serif" >PP</text>
<path d="M425.90,220.70 h1 M425.90,224.60 h1 M425.90,228.60 h1 M425.90,232.90 h1 M425.90,236.70 h1 M425.90,240.40 h1 M425.90,244.70 h1 M425.90,248.60 h1 M429.40,252.90 v-1 M437.30,252.90 v-1 M444.90,252.90 v-1 M452.70,252.90 v-1 M460.60,252.90 v-1 M468.00,252.90 v-1" stroke="#777" stroke-width="0.5" fill="none"/>
<rect x="421.0" y="220.30" width="3.3" height="0.8" fill="#888"/>
<rect x="421.0" y="224.20" width="3.3" height="0.8" fill="#888"/>
<rect x="421.0" y="228.20" width="3.3" height="0.8" fill="#888"/>
<rect x="421.0" y="232.50" width="3.3" height="0.8" fill="#888"/>
<rect x="421.0" y="236.30" width="3.3" height="0.8" fill="#888"/>
<rect x="421.0" y="240.00" width="3.3" height="0.8" fill="#888"/>
<rect x="421.0" y="244.30" width="3.3" height="0.8" fill="#888"/>
<rect x="421.0" y="248.20" width="3.3" height="0.8" fill="#888"/>
<rect x="421.0" y="252.50" width="3.3" height="0.8" fill="#888"/>
<rect x="427.90" y="254.0" width="3" height="0.8" fill="#888"/>
<rect x="435.80" y="254.0" width="3" height="0.8" fill="#888"/>
<rect x="443.40" y="254.0" width="3" height="0.8" fill="#888"/>
<rect x="451.20" y="254.0" width="3" height="0.8" fill="#888"/>
<rect x="459.10" y="254.0" width="3" height="0.8" fill="#888"/>
<rect x="466.50" y="254.0" width="3" height="0.8" fill="#888"/>
</svg>
</body></html>
